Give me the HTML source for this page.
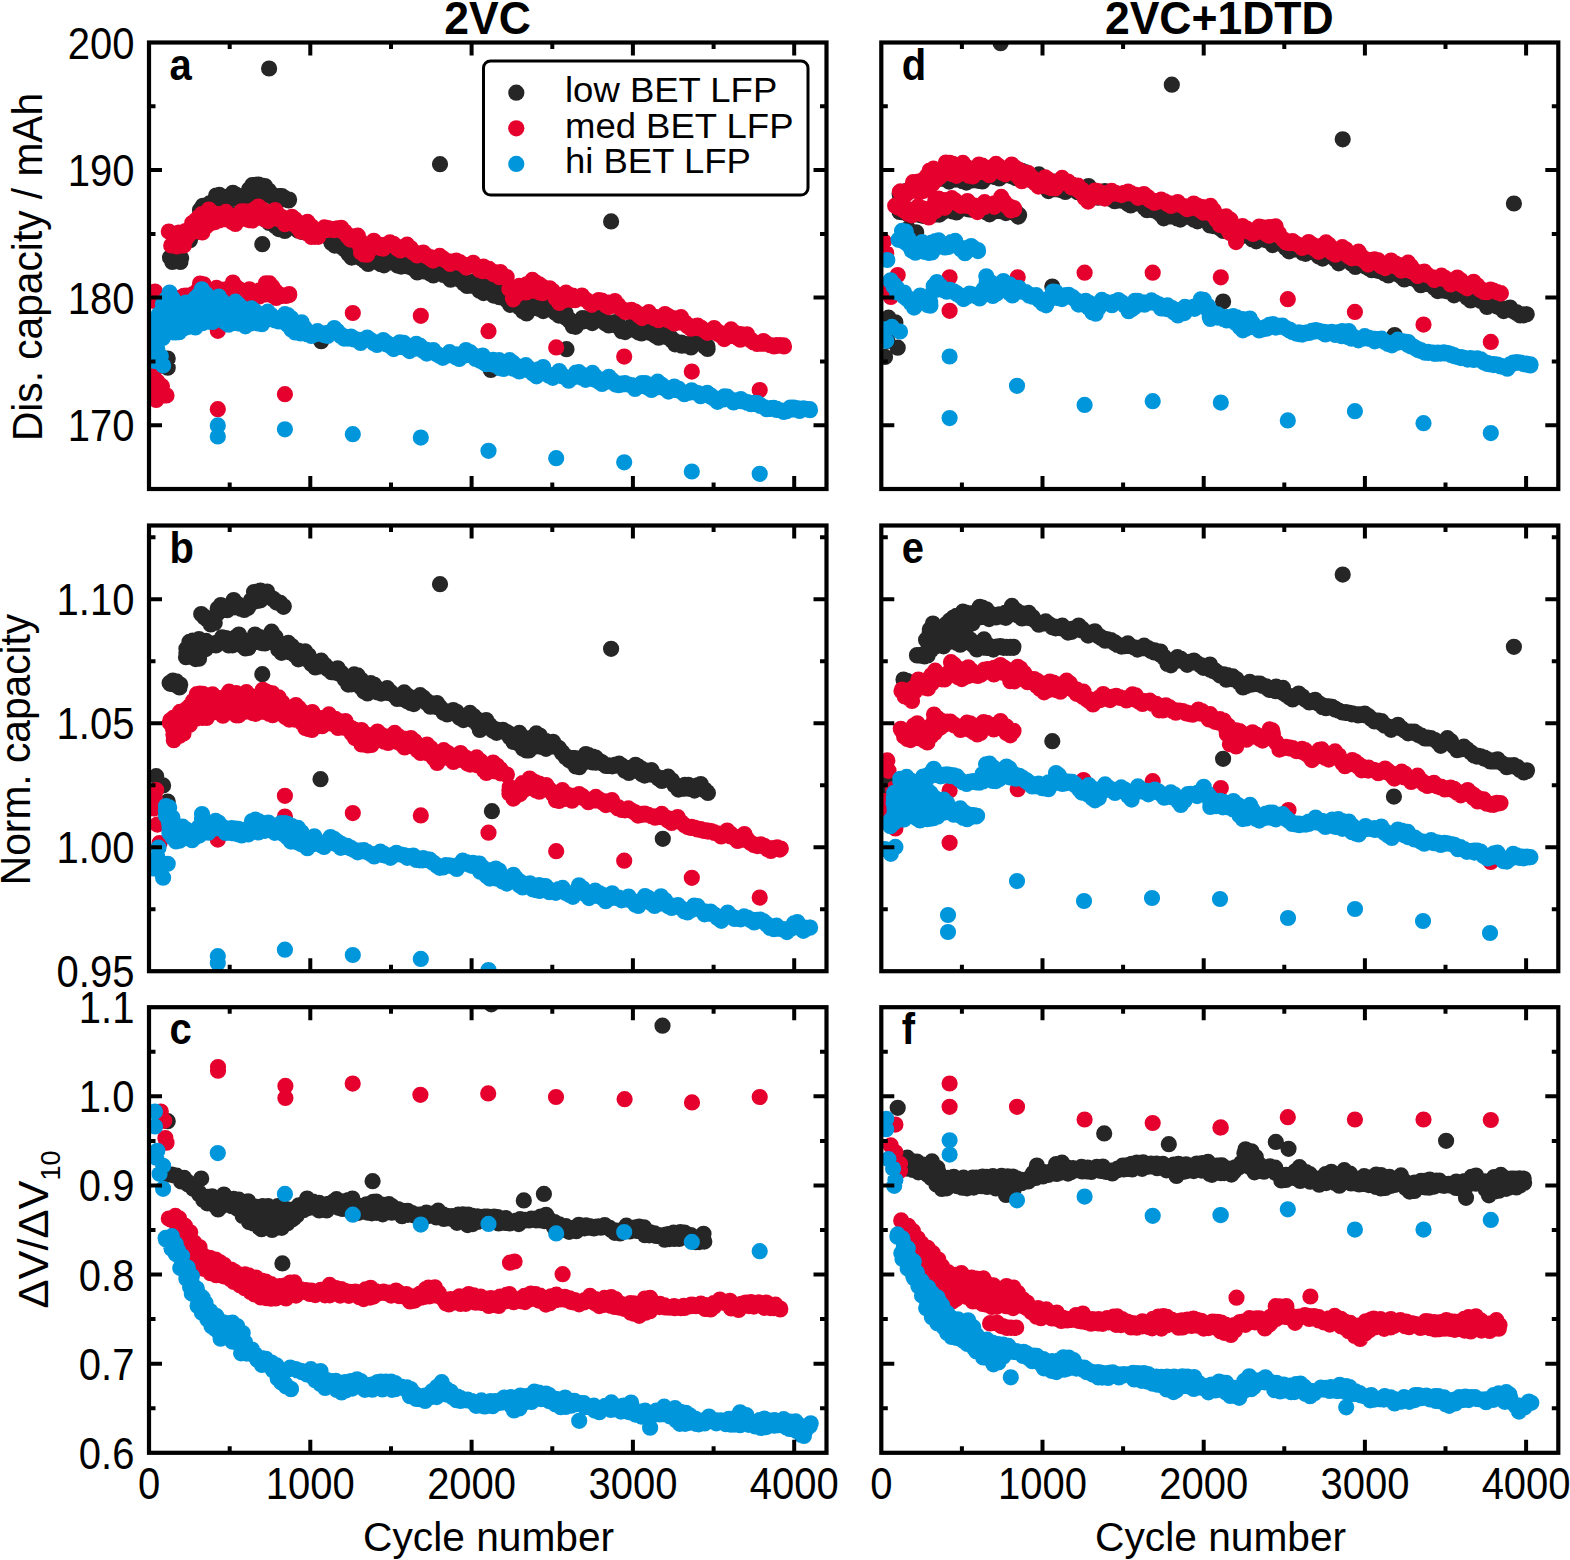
<!DOCTYPE html>
<html><head><meta charset="utf-8"><title>Cycling data</title>
<style>html,body{margin:0;padding:0;background:#fff}svg{display:block}text{font-family:"Liberation Sans", sans-serif;font-size:40px;fill:#000}.b{font-weight:bold}.tt{font-weight:bold;font-size:44.5px}.lg{font-size:36.5px}.ax{font-size:40.7px}.dv{font-size:43.4px}.sb{font-size:27px}</style></head><body>
<svg width="1570" height="1560" viewBox="0 0 1570 1560">
<rect width="1570" height="1560" fill="#fff"/>
<clipPath id="cpa"><rect x="149" y="42.5" width="677.5" height="446.5"/></clipPath>
<g clip-path="url(#cpa)" fill="none" stroke-linecap="round" stroke-width="16.2">
<path stroke="#262626" d="M167.7 358.5h.01M167.7 367.7h.01M170 257.6h.01M178.1 256.9h.01M181.1 258.3h.01M172.3 262h.01M180.4 262h.01M174.6 259.2h.01M189.2 239h.01M189.9 240.2h.01M193.3 230.7h.01M192.6 234.3h.01M196 222.5h.01M196.3 223.1h.01M200 209.9h.01M199.6 215.2h.01M202.9 205.8h.01M202.4 209.8h.01M205.7 206.2h.01M206 209.9h.01M209.5 203.4h.01M209.6 208.4h.01M212.4 202.5h.01M212.3 203.5h.01M216.1 195.6h.01M216 200.2h.01M219.3 194.8h.01M219.7 198.4h.01M222.3 197.2h.01M222.9 200.3h.01M225.9 197.6h.01M225.8 201.7h.01M228.8 196.3h.01M229.2 198.5h.01M232.9 192.8h.01M232.4 198.7h.01M235.9 194.5h.01M236.1 198.3h.01M239 197.8h.01M239.1 200h.01M242 198.8h.01M242.2 202.1h.01M245.9 199.6h.01M245.5 199.2h.01M249 189.4h.01M249.2 193.7h.01M249.4 198h.01M252.2 185.2h.01M252.4 189.4h.01M252.3 193.6h.01M252 197.9h.01M255.5 184.8h.01M256 189h.01M255.6 193.2h.01M255.3 197.4h.01M258.6 184.7h.01M258.8 189.2h.01M259 193.7h.01M259.1 198.3h.01M262.1 185.7h.01M261.9 190.3h.01M261.8 194.8h.01M265 186h.01M265.8 190.7h.01M265.2 195.5h.01M268.8 190.6h.01M268.9 195.1h.01M272.5 194.5h.01M272.6 196.9h.01M275.4 196h.01M275.8 197.9h.01M278.8 197.2h.01M278.6 196.2h.01M281.9 196.1h.01M281.7 197.4h.01M284.9 199.4h.01M285.4 198.4h.01M288.7 200.5h.01M289.1 199.5h.01M189.7 239h.01M189.3 238.9h.01M192.8 228.4h.01M192.5 232.6h.01M196.2 224.7h.01M196.2 224.8h.01M199.4 219.2h.01M199.3 220.7h.01M202.3 217.9h.01M203.3 220.5h.01M206.2 217.5h.01M205.6 217.2h.01M209.8 211.8h.01M209.6 216.6h.01M212.4 214.7h.01M213 216.9h.01M215.8 215.7h.01M215.7 217.6h.01M219.7 215.9h.01M219.6 217.5h.01M222.3 215.7h.01M222.6 214.7h.01M225.4 211.5h.01M225.7 215.3h.01M229.7 213.3h.01M229.2 215.8h.01M233 215.1h.01M232.4 215.9h.01M235.5 214.8h.01M235.5 218.1h.01M239.5 214.1h.01M239.1 213.6h.01M242 210h.01M242.6 213.4h.01M246 213h.01M245.7 213.5h.01M248.8 214h.01M249.3 216.2h.01M252.2 213.8h.01M252.8 216.6h.01M255.2 213.7h.01M255.3 213.1h.01M258.6 211.6h.01M259.2 214.6h.01M262.1 214.6h.01M262.3 216.6h.01M266 217.3h.01M265.7 220.1h.01M268.7 217.2h.01M269.2 223h.01M271.9 221.9h.01M271.9 222.5h.01M275.2 221.3h.01M275.3 226.3h.01M278.6 227.4h.01M278.7 229.1h.01M281.9 227.6h.01M282.4 229.2h.01M285.3 227.7h.01M284.8 230.9h.01M288.1 227.7h.01M288.9 227.6h.01M292.1 223.8h.01M292 227.7h.01M295.3 225.9h.01M295.5 228.4h.01M298.3 228.9h.01M298.3 230.7h.01M301.9 229.6h.01M302.1 232h.01M305.2 230.4h.01M305.1 229.8h.01M308.4 226.4h.01M308.4 230.8h.01M311.9 228.8h.01M312.1 231.8h.01M315.1 232.7h.01M315.5 234h.01M317.9 233.4h.01M318.3 236.1h.01M321.2 234.2h.01M321.8 234.1h.01M324.6 232.4h.01M325.1 235.1h.01M328.6 236.2h.01M328.7 237.8h.01M331.4 240.5h.01M331.5 243.1h.01M334.5 242.7h.01M334.7 245.6h.01M337.8 244.8h.01M337.9 244.7h.01M341.5 243.4h.01M341.4 247h.01M344.8 248.2h.01M344.7 249.5h.01M348.3 252h.01M348.5 254.1h.01M350.9 254.4h.01M351.6 257.6h.01M354.5 256.1h.01M355 256.1h.01M357.6 253.7h.01M358.3 256.9h.01M360.8 256.3h.01M360.8 258.3h.01M364.1 260.3h.01M365 261.3h.01M367.4 261.4h.01M368.2 264h.01M371.1 262.2h.01M371 262.3h.01M374.2 257.3h.01M374 261.7h.01M377.3 260.2h.01M377.4 262.1h.01M380.8 262.6h.01M380.8 264.2h.01M384.3 262.8h.01M384 265.3h.01M387.4 262.9h.01M387.1 262.7h.01M390.6 259.1h.01M390.9 262.2h.01M394.5 261.6h.01M394.1 262.9h.01M397.4 263.4h.01M397.5 265.6h.01M400.7 264.7h.01M401.1 266.6h.01M404 265.8h.01M404 264.8h.01M407 262.9h.01M407.7 266.4h.01M410.3 265.5h.01M411.1 267.4h.01M413.8 268.2h.01M413.8 269.1h.01M417 269h.01M417.3 272.5h.01M421.1 269.7h.01M420.7 270.7h.01M423.7 266.5h.01M423.8 271.4h.01M427.2 269.6h.01M427.2 270.8h.01M430 271.7h.01M430.3 273.7h.01M433.4 272.3h.01M433.3 275.5h.01M437.2 273h.01M437.1 273.1h.01M440.6 269.8h.01M440.8 272.7h.01M444.2 272.6h.01M443.4 274.9h.01M446.6 276h.01M447.4 276.8h.01M450.5 277.2h.01M450.6 279.7h.01M453.6 278.3h.01M454 278.5h.01M457 275.9h.01M457.3 278.5h.01M459.9 278.4h.01M459.7 279.7h.01M463.1 281.8h.01M463.9 283.6h.01M466.9 282.9h.01M467 286h.01M470.4 284.7h.01M470.4 284.5h.01M473.6 281.6h.01M473 285.9h.01M476.3 285.7h.01M476.5 287h.01M480.3 289.1h.01M480.5 290.2h.01M483.3 289.9h.01M483.5 293.1h.01M486.8 291h.01M486.2 290h.01M490.2 288.1h.01M489.7 291.9h.01M492.8 290.6h.01M493 292.4h.01M496.7 293.4h.01M496.3 294.2h.01M499.8 294h.01M499.4 297.2h.01M480.4 289.7h.01M479.5 290.8h.01M483.8 285.4h.01M483.2 290.3h.01M487 288.9h.01M486.3 290.9h.01M489.9 291.4h.01M490.4 292.7h.01M493.2 291.9h.01M493.6 295.6h.01M496.9 293.4h.01M496.5 292.8h.01M499.8 291.1h.01M499.8 294.8h.01M502.9 294.6h.01M502.9 296.7h.01M506.7 298.9h.01M506.7 300.3h.01M509.9 301.1h.01M510.1 304.8h.01M512.9 303.3h.01M513.5 303.5h.01M516.2 301.1h.01M516.1 305h.01M519.9 306h.01M519.4 307.5h.01M522.7 309.9h.01M522.9 311.2h.01M526.7 310h.01M526.6 313.4h.01M529.9 309.3h.01M529.9 308.4h.01M532.3 303.9h.01M533 308.1h.01M536.2 305.1h.01M535.9 307.9h.01M539 307.2h.01M539.4 309h.01M542.9 307.8h.01M543.2 311.1h.01M545.8 308.7h.01M546.1 309.2h.01M549 305.4h.01M549 309.5h.01M552.3 309.1h.01M553 310h.01M555.5 311.5h.01M555.6 312.9h.01M558.8 312.4h.01M558.9 315.6h.01M562.9 314.5h.01M562.7 314.9h.01M565.8 313.5h.01M565.7 317.8h.01M568.9 319.1h.01M569.6 321h.01M572.5 324.3h.01M572.8 326.2h.01M575.4 323.5h.01M575.6 326.8h.01M579.3 321.8h.01M579.4 322.8h.01M582.5 318h.01M582.7 321.6h.01M585.1 318.4h.01M585.5 320.9h.01M589.3 320.2h.01M589.4 321.2h.01M591.9 319.9h.01M592.2 323.1h.01M595.7 320.2h.01M595.6 319.4h.01M598.9 317h.01M598.3 320.1h.01M602.5 319.5h.01M602.2 320.7h.01M605.2 321.8h.01M605.5 323.5h.01M608.3 322.8h.01M608.7 325.5h.01M611.7 324h.01M612.1 323.7h.01M615.3 322.1h.01M615.8 325.4h.01M618.6 324.5h.01M618.3 326h.01M622.1 328.5h.01M621.7 331.2h.01M625.4 329.1h.01M625.1 332.1h.01M628.9 329.3h.01M628.2 329.8h.01M631.7 326h.01M632 329.3h.01M635.3 328.1h.01M635.1 330.3h.01M638.2 329.9h.01M638.7 332.6h.01M642 330.2h.01M641.5 333.5h.01M644.7 331.2h.01M644.7 330.8h.01M648.7 327.6h.01M647.9 332.3h.01M652.1 331h.01M651.2 333.2h.01M654.8 334.3h.01M655.3 335.8h.01M658.7 335.3h.01M658.6 337.7h.01M661.9 336.2h.01M661.7 336.2h.01M664.7 333.6h.01M664.7 336.7h.01M667.6 335.4h.01M667.9 337.5h.01M671 337.7h.01M671.9 340.6h.01M675 341h.01M675 344.3h.01M678 343.8h.01M677.9 343.7h.01M681.2 342.5h.01M681.7 345.7h.01M684.9 343.9h.01M684.9 345.1h.01M687.5 344.5h.01M688.3 346h.01M691.6 343.7h.01M691 347.4h.01M694.6 342.8h.01M694.3 343.8h.01M697.6 339.7h.01M697.3 342.9h.01M701.2 342.9h.01M701.5 343.6h.01M704.4 345.5h.01M704.9 346.7h.01M707.5 346.4h.01M707.6 348.9h.01M440 164.2h.01M262.3 244.2h.01M321.2 341.2h.01M490.8 370h.01M566.5 349.2h.01M611.1 221.4h.01M269.1 68.5h.01"/>
<path stroke="#e6002d" d="M153.8 372.3h.01M157.3 381.5h.01M153.8 390.8h.01M161.9 386.2h.01M156.2 400h.01M166.5 395.4h.01M155 291.5h.01M153.8 300.8h.01M168.8 231.5h.01M171.2 245.4h.01M176.9 246.5h.01M183.8 245.4h.01M176.4 299h.01M177.4 300h.01M179.9 298.5h.01M180 297.5h.01M183.8 295.8h.01M183.6 297h.01M186.5 295.5h.01M186.7 296h.01M190.2 295.6h.01M189.8 296.2h.01M193 294.1h.01M193.5 297.3h.01M197.2 291.1h.01M197.2 293.5h.01M200 283.6h.01M200.4 288h.01M199.8 292.3h.01M203.6 284.3h.01M203.6 288.1h.01M203.1 291.9h.01M206.4 288.6h.01M206.4 291.6h.01M206.6 294.7h.01M209.7 290h.01M210.3 293.4h.01M209.6 296.7h.01M213 291.5h.01M213.2 293.8h.01M216.5 287.9h.01M216.1 290.9h.01M216 293.9h.01M219.8 289.3h.01M219.7 293.8h.01M222.7 290.5h.01M223.2 295.5h.01M226 289.4h.01M226.4 293.2h.01M226.1 297h.01M229.9 287.6h.01M229.2 293.6h.01M232.9 282.6h.01M232.6 288.1h.01M232.9 293.5h.01M235.9 286.7h.01M236.6 290.7h.01M236.7 294.7h.01M239.5 289.3h.01M239.5 294.9h.01M242.5 290.9h.01M242.9 294h.01M242.9 297.1h.01M246.4 292.4h.01M245.9 294.6h.01M249.4 289.3h.01M249.3 293.9h.01M252.7 291.4h.01M252.4 294h.01M256 291.5h.01M255.6 294.7h.01M259.6 290.3h.01M259.3 293.4h.01M259.3 296.4h.01M262.4 289.1h.01M262.3 293.9h.01M265.9 283.3h.01M266.3 288.9h.01M265.7 294.4h.01M269.6 283.4h.01M269.2 288.8h.01M269.4 294.2h.01M272.3 286.7h.01M272.5 291.1h.01M272.3 295.6h.01M275.8 291.4h.01M276.2 294.7h.01M276.2 298h.01M279.6 295.9h.01M278.8 294.9h.01M282.6 295.4h.01M282.7 295.8h.01M286 296h.01M286.2 295h.01M289.2 295.1h.01M289.2 294.1h.01M178.9 232.6h.01M179.1 233.8h.01M182.2 232.5h.01M182.3 236.8h.01M185.4 231.1h.01M185.9 234.8h.01M186.1 238.4h.01M188.7 230.6h.01M189.2 234.6h.01M192.2 223.1h.01M192.4 227.6h.01M192.5 232h.01M195.7 220.3h.01M195.7 225.8h.01M195.3 231.3h.01M198.8 217.1h.01M199.3 221.8h.01M199.3 226.6h.01M199 231.4h.01M201.9 214.1h.01M202 218.7h.01M202.3 223.3h.01M201.9 227.9h.01M202.3 232.4h.01M205.8 213.7h.01M205.2 218h.01M205.9 222.3h.01M205.9 226.7h.01M208.9 209.5h.01M208.8 214.5h.01M209.4 219.6h.01M208.6 224.6h.01M212.5 212.7h.01M212.5 217h.01M211.9 221.2h.01M216 214.4h.01M215.9 218.3h.01M215.2 222.1h.01M218.4 214.1h.01M218.7 217.3h.01M219.1 220.5h.01M221.9 215.3h.01M222.4 219.2h.01M225.9 211.9h.01M225.1 215.6h.01M225.2 219.2h.01M228.3 214.2h.01M228.4 219.1h.01M232.2 218.6h.01M232.4 222.3h.01M234.9 219.5h.01M235.4 224h.01M239 218.2h.01M238.7 219.5h.01M241.5 211.3h.01M242.4 215h.01M242.1 218.7h.01M245 211.4h.01M245.7 215.2h.01M245.3 219h.01M248.5 211.6h.01M248.2 215.9h.01M248.8 220.1h.01M251.6 210.9h.01M252 215.7h.01M252.3 220.5h.01M254.9 209h.01M254.6 212.8h.01M254.7 216.5h.01M258.4 206.6h.01M258.4 212.1h.01M258.8 217.7h.01M261.9 209.1h.01M261.3 213.4h.01M261.2 217.7h.01M264.9 211.6h.01M264.8 215.6h.01M265.1 219.5h.01M268.5 212.2h.01M268.3 216.5h.01M268 220.9h.01M271.3 213.9h.01M271.2 218.1h.01M275.2 210h.01M274.8 213.9h.01M274.7 217.9h.01M278.3 214.6h.01M278.1 219.1h.01M282 217h.01M281.8 220.7h.01M284.4 218.5h.01M284.9 224.2h.01M287.7 219.4h.01M288.4 220.7h.01M291.9 216.8h.01M291.1 222.4h.01M294.7 219.1h.01M294.9 224.9h.01M297.8 221.9h.01M297.8 227.6h.01M301.6 223.5h.01M301.5 227.5h.01M300.8 231.5h.01M304.6 224.2h.01M304.9 229.6h.01M307.5 221.9h.01M307.7 227.8h.01M307.5 233.7h.01M311.4 226.3h.01M311.6 231.6h.01M311.4 236.9h.01M314.5 229.7h.01M314.8 233.3h.01M314.6 236.8h.01M318.3 230.5h.01M317.5 233.7h.01M318.2 236.8h.01M320.9 231.3h.01M321.4 231.5h.01M324.3 227.4h.01M324.8 230.2h.01M328.1 228.2h.01M327.9 229.9h.01M331.5 229.5h.01M331 229.6h.01M334.7 228.9h.01M334.3 230.2h.01M337.4 229.4h.01M337.3 228.4h.01M341.3 227.8h.01M340.6 230.2h.01M344.7 231.6h.01M344.1 232.6h.01M347.1 234.9h.01M347.7 236.5h.01M351.1 236h.01M350.4 239.6h.01M354.4 237.6h.01M354.5 238.9h.01M357.8 235.7h.01M357.8 239h.01M357.9 242.4h.01M360.3 241.1h.01M360.3 246.9h.01M361.1 252.6h.01M364.4 244.4h.01M364.2 249.4h.01M363.8 254.4h.01M367.6 244.6h.01M367 249.7h.01M367.1 254.7h.01M370.4 244.7h.01M370.4 249.4h.01M373.8 240.8h.01M374.4 244h.01M373.9 247.3h.01M376.8 243.5h.01M377.1 246.4h.01M380.4 244.8h.01M380.7 248.2h.01M384.2 245.5h.01M383.4 248.6h.01M386.6 245.4h.01M386.8 244.4h.01M389.9 242.4h.01M390.4 244.7h.01M393.4 243.8h.01M393.7 245.6h.01M396.8 246.8h.01M397.5 248.7h.01M400.5 247.4h.01M400.3 250.5h.01M403.2 247.9h.01M403.9 248h.01M407.1 244.7h.01M406.8 247.9h.01M410.6 248.1h.01M409.8 250.2h.01M413.2 251.7h.01M413.3 252.8h.01M416.7 253.2h.01M417.2 255.4h.01M420.2 254.6h.01M420.4 254.4h.01M423.3 252.5h.01M423.3 254.8h.01M426.9 255.7h.01M427 256.5h.01M430.3 257.2h.01M430.1 258.5h.01M433.7 257.8h.01M433.1 260.6h.01M436.8 258.5h.01M437 258h.01M439.7 255.9h.01M439.8 258.5h.01M443.1 258.4h.01M442.9 259h.01M446.1 260.8h.01M447 261.3h.01M450.3 261.6h.01M450.1 263.9h.01M452.8 262.4h.01M453.3 261.4h.01M456.3 260.7h.01M456 262.2h.01M459.9 262.2h.01M459.7 263.1h.01M462.7 264.4h.01M463.1 264.5h.01M466.7 265h.01M466.3 267.6h.01M469.6 265.6h.01M469.4 264.6h.01M473.2 262.8h.01M473.1 265.3h.01M476.4 266.7h.01M476.2 266.5h.01M479.1 268.7h.01M479.5 270h.01M483 269.9h.01M482.6 271.2h.01M486.3 271.1h.01M486 270.1h.01M489.1 268.9h.01M489.6 271.3h.01M492.7 272.7h.01M493.2 272.5h.01M495.7 274.6h.01M496.3 275h.01M498.9 275.7h.01M499.4 277.2h.01M479.5 269.5h.01M480.3 269.2h.01M483.5 266.7h.01M483.3 269.6h.01M486.6 270.1h.01M487 269.9h.01M490 271.6h.01M489.7 271.4h.01M492.8 272.3h.01M493.6 274.2h.01M496.6 273.4h.01M496.1 272.4h.01M500.3 272h.01M500.3 273.7h.01M503.1 275.9h.01M502.8 274.9h.01M506.7 277.1h.01M506.1 276.8h.01M510 289h.01M509.3 289h.01M513.3 299.3h.01M512.9 298.3h.01M516.4 289.4h.01M516.6 295.1h.01M519.3 285.9h.01M519.8 289.4h.01M519.8 292.8h.01M522.9 286h.01M523.2 291.8h.01M526.4 284.4h.01M526 288.4h.01M526.2 292.4h.01M529.9 284.1h.01M529.2 289.7h.01M532.4 279.9h.01M532.9 285.2h.01M532.6 290.6h.01M535.9 282.6h.01M536.2 286.4h.01M536.3 290.1h.01M539.2 284.3h.01M539.5 288.4h.01M539.5 292.5h.01M542.7 286.8h.01M543 290h.01M542.4 293.2h.01M546.1 289h.01M546.2 290.2h.01M549.7 288.3h.01M549.3 289.9h.01M552.6 290.8h.01M552.3 292.5h.01M556.1 295.1h.01M555.5 298.3h.01M559.5 295.7h.01M559.2 299.3h.01M559.3 303h.01M562.7 294.9h.01M562.2 300.6h.01M566 292.7h.01M565.5 296.4h.01M565.6 300h.01M568.9 294.6h.01M569.1 297.9h.01M572.6 295.6h.01M572.1 300.1h.01M575.2 297.2h.01M575.2 300.2h.01M579.3 298.3h.01M578.6 297.3h.01M581.9 295.5h.01M582 298.5h.01M585.2 299.4h.01M585.8 299.6h.01M589 301.8h.01M589.3 302.9h.01M592 302.5h.01M591.8 304.8h.01M595.5 302.6h.01M595.3 302.1h.01M598.6 300.1h.01M598.5 302h.01M601.8 300.6h.01M602.3 302.5h.01M605 302.9h.01M605.9 305.6h.01M608.6 302.5h.01M608.8 307.1h.01M611.5 304.3h.01M612.3 304.8h.01M614.9 301h.01M615.3 306h.01M618.2 305h.01M618.8 306.9h.01M621.5 308.7h.01M621.4 308.9h.01M624.9 310.1h.01M625.4 312h.01M628.1 311.3h.01M628.9 310.3h.01M631.4 309.8h.01M631.6 311.7h.01M634.8 311.3h.01M634.6 312.2h.01M638.5 314.2h.01M638.8 315.6h.01M642 314.8h.01M642 318.1h.01M644.9 315.3h.01M644.6 315.7h.01M648.8 312.2h.01M648.5 315.2h.01M651.6 315.5h.01M651.2 316.8h.01M655 316.8h.01M654.8 318.4h.01M658.7 317.7h.01M658.6 320.2h.01M661.5 318.2h.01M661.3 317.8h.01M665 314.1h.01M665.2 318.3h.01M668.3 316.1h.01M667.7 320.1h.01M671.5 318.9h.01M671.4 321.7h.01M675.1 318.3h.01M674.3 323.6h.01M678.4 320.1h.01M678.2 322.3h.01M681.1 317.2h.01M681.4 322.7h.01M684.7 322.3h.01M684.4 323.6h.01M687.9 325.1h.01M687.6 326.2h.01M691.7 326.4h.01M690.9 328.7h.01M694.8 327.8h.01M694.5 326.8h.01M697.6 325.6h.01M697.6 328.1h.01M701.4 327.9h.01M701.2 328.4h.01M703.9 330.3h.01M704.1 330.3h.01M708.2 331.1h.01M707.4 332.8h.01M711.3 331.9h.01M710.7 331.4h.01M714.1 328h.01M714.1 332.2h.01M717.9 331.6h.01M717.9 333.9h.01M721.3 333.3h.01M721.4 335.9h.01M724.5 334.2h.01M724.2 339.1h.01M727.5 334h.01M727.5 335.1h.01M731.1 329.4h.01M731 332.7h.01M731.3 335.9h.01M734 332.1h.01M734.3 336.3h.01M736.9 335.2h.01M737.3 337.8h.01M740.6 334.2h.01M740.3 339.7h.01M743.8 335.3h.01M744.3 337.4h.01M747 334.3h.01M747 338.6h.01M750.4 340.3h.01M750.7 339.5h.01M754.3 342.4h.01M753.6 342.4h.01M757.6 343.2h.01M757.1 343.9h.01M760.3 343.7h.01M760 342.7h.01M763.4 341h.01M763.5 343.7h.01M767.2 343.9h.01M766.8 343.7h.01M770 345.1h.01M770.3 345.2h.01M773.3 345.5h.01M774 346.5h.01M776.9 345.9h.01M776.5 345.1h.01M780.5 345.2h.01M780.3 345.3h.01M784 346.4h.01M783.7 345.4h.01M217.8 330.8h.01M352.8 313h.01M420.8 315.8h.01M488.5 331.2h.01M284.9 394.2h.01M217.8 409.2h.01M556.2 347.4h.01M624.2 356.6h.01M691.8 371.6h.01M759.7 390.1h.01"/>
<path stroke="#0096dc" d="M151.5 326.2h.01M153.8 337.7h.01M157.3 349.2h.01M163.1 365.4h.01M160.8 356.2h.01M153.8 360.8h.01M152.5 325h.01M152.4 330h.01M152.3 335h.01M153.1 340h.01M156.3 318.6h.01M155.9 323.6h.01M155.7 328.5h.01M156.2 333.5h.01M155.7 338.4h.01M158.9 314.2h.01M159.3 320.1h.01M158.8 326h.01M159.7 331.9h.01M159.1 337.8h.01M162.9 304.2h.01M162.6 309.8h.01M162.2 315.4h.01M162.4 321h.01M162.1 326.6h.01M162.3 332.3h.01M162.8 337.9h.01M166 299.4h.01M165.9 305.1h.01M165.8 310.8h.01M165.8 316.5h.01M165.8 322.2h.01M165.8 327.9h.01M165.8 333.6h.01M169.6 292.5h.01M169.2 298.2h.01M169.6 303.8h.01M169.5 309.5h.01M168.8 315.1h.01M169.5 320.8h.01M168.8 326.5h.01M169.3 332.1h.01M172.8 298.7h.01M173 304.3h.01M172.9 309.9h.01M172.4 315.5h.01M172 321.1h.01M172.1 326.7h.01M173 332.3h.01M175.4 306.5h.01M175.7 311.7h.01M175.6 316.9h.01M176 322h.01M175.5 327.2h.01M175.7 332.4h.01M178.7 308.6h.01M179 314.5h.01M178.8 320.4h.01M178.6 326.3h.01M179.2 332.2h.01M182.2 307.5h.01M182 313h.01M182.3 318.4h.01M182.4 323.9h.01M182 329.4h.01M186 302.5h.01M186.1 307.5h.01M185.8 312.5h.01M186 317.5h.01M185.3 322.6h.01M185.9 327.6h.01M188.8 302.8h.01M188.7 307.6h.01M188.7 312.4h.01M188.9 317.2h.01M188.9 322h.01M188.7 326.8h.01M191.9 301.8h.01M192.4 306.8h.01M192.2 311.8h.01M192.3 316.7h.01M192.3 321.7h.01M192.2 326.6h.01M195.4 298.2h.01M195.5 304h.01M195.1 309.9h.01M195.5 315.7h.01M195.4 321.6h.01M195.3 327.4h.01M198.6 294.9h.01M198.6 300.7h.01M199 306.6h.01M199.2 312.4h.01M199.3 318.3h.01M199.1 324.1h.01M201.8 289.3h.01M202.4 295h.01M202.3 300.6h.01M201.9 306.2h.01M202 311.9h.01M201.7 317.5h.01M202.4 323.2h.01M205.9 294.1h.01M205.5 299.6h.01M205.3 305.1h.01M205.3 310.5h.01M205.6 316h.01M205.9 321.5h.01M209.1 301.5h.01M208.4 306.5h.01M209 311.6h.01M208.5 316.6h.01M208.9 321.7h.01M212.3 301.3h.01M212.2 306.5h.01M212.5 311.6h.01M211.9 316.8h.01M212.5 321.9h.01M215.2 300.9h.01M215.1 306.6h.01M215.7 312.2h.01M215.8 317.9h.01M218.8 296.6h.01M219.1 301.5h.01M218.5 306.4h.01M218.3 311.4h.01M218.9 316.3h.01M222.3 301.2h.01M221.6 307.1h.01M221.7 313h.01M221.6 319h.01M225.1 306.1h.01M225.3 311.4h.01M225.7 316.8h.01M224.8 322.1h.01M228.4 309h.01M228.9 314.2h.01M228.7 319.5h.01M228.6 324.7h.01M231.7 307.4h.01M231.5 312.6h.01M231.6 317.7h.01M231.7 322.8h.01M235.5 301.7h.01M234.8 307h.01M234.8 312.3h.01M235.6 317.6h.01M235.2 322.9h.01M238.7 304.7h.01M238.5 309.3h.01M238.4 314h.01M238.9 318.6h.01M238 323.3h.01M241.9 307.7h.01M241.9 313.1h.01M241.3 318.6h.01M242.3 324.1h.01M245 310h.01M245.4 315.4h.01M245.3 320.9h.01M245.4 326.3h.01M248.2 309.6h.01M248.3 313.8h.01M248.5 318.1h.01M248.2 322.4h.01M251.5 308.4h.01M252.1 313.4h.01M251.9 318.3h.01M251.2 323.3h.01M254.8 310.9h.01M254.7 316.5h.01M255.2 322.2h.01M258.2 313.6h.01M258.8 318.6h.01M258.2 323.5h.01M262.1 315.6h.01M261.1 319.9h.01M262 324.2h.01M265 314.1h.01M265 319.1h.01M267.8 311.7h.01M267.8 315.5h.01M267.7 319.2h.01M271.1 315h.01M271.3 319.2h.01M275.3 318.6h.01M275.2 320.5h.01M278.2 319.1h.01M278.5 321.4h.01M281.8 318.8h.01M281.8 320.6h.01M284.9 314.2h.01M284.9 318.3h.01M284.5 322.5h.01M287.7 315.1h.01M287.9 320.2h.01M288 325.2h.01M291.1 318h.01M291.3 323.8h.01M291.6 329.7h.01M294.3 321.8h.01M294.6 327.1h.01M295.1 332.4h.01M297.6 323.1h.01M298.3 327.5h.01M297.7 331.8h.01M301.6 322.3h.01M300.9 327.9h.01M300.7 333.5h.01M304.6 327.7h.01M304.3 333.4h.01M308.1 331.6h.01M307.6 334.5h.01M311.6 333.9h.01M311.3 335.9h.01M314.6 334.6h.01M314 333.6h.01M317.5 331.2h.01M318 333.7h.01M321.4 333.2h.01M321.5 333.5h.01M324.4 333.3h.01M324.5 335.2h.01M327.5 332.9h.01M327.6 335.9h.01M331.4 332.5h.01M330.5 332.8h.01M334.3 328h.01M333.8 331.9h.01M337.3 330.9h.01M337.3 332.1h.01M340.9 334.6h.01M340.9 336.2h.01M344.6 336.6h.01M344 338.6h.01M347.7 338.6h.01M347.3 337.6h.01M351 336.5h.01M350.5 338.1h.01M353.7 339.4h.01M353.8 338.4h.01M357.7 339.7h.01M356.8 339.7h.01M360.4 340.1h.01M360.6 343h.01M363.8 340.4h.01M364.2 339.8h.01M367.2 337.5h.01M366.7 339.7h.01M370 339.5h.01M370.1 340h.01M373.8 341.8h.01M373.9 343.2h.01M376.8 342.5h.01M377 344.9h.01M380.8 343.1h.01M380.5 343.1h.01M383.3 340h.01M383.6 343h.01M386.8 342.8h.01M386.7 344.4h.01M390.1 345.5h.01M390.7 346.5h.01M393.7 345.1h.01M393.6 349.1h.01M397.3 346.3h.01M396.8 346h.01M399.8 342.3h.01M400.3 346.9h.01M403.7 342.8h.01M403 346.4h.01M406.8 346.4h.01M407.2 349.1h.01M409.6 346.1h.01M409.6 351.1h.01M413.5 347.3h.01M413.8 348.9h.01M416.3 343.8h.01M416.4 348.2h.01M420 345.7h.01M420 348.8h.01M423.7 348.9h.01M423.3 351.1h.01M426.9 349.9h.01M426.7 353.6h.01M429.5 351.7h.01M429.6 350.7h.01M433.3 350h.01M433.6 352.3h.01M436.2 354h.01M436.6 353.6h.01M439.7 356h.01M440.1 355.8h.01M442.8 356h.01M442.8 357.8h.01M446.1 355.8h.01M445.9 355.6h.01M449.6 352.2h.01M449.4 355.1h.01M452.6 354.1h.01M453.2 355h.01M456.2 354.3h.01M456.2 357.5h.01M460 354.6h.01M459.2 359h.01M462.4 354.8h.01M463.3 355.9h.01M466 350h.01M466.6 355.2h.01M470 352h.01M469.4 355.1h.01M472.7 354.6h.01M472.8 355.6h.01M475.9 356.1h.01M475.6 359h.01M479 357.6h.01M479.1 356.6h.01M482.7 355.6h.01M482.7 358.1h.01M485.9 360.5h.01M485.7 359.6h.01M489.4 361.5h.01M489.1 362.1h.01M493 362.3h.01M492.8 364.6h.01M496 363.1h.01M495.8 362.1h.01M499.1 360.2h.01M499.2 364.1h.01M480 360.7h.01M480 359.7h.01M483.2 361.4h.01M483.5 362.5h.01M486.5 362.1h.01M486.2 364.2h.01M489.7 362.9h.01M490.1 363.3h.01M493.1 359.8h.01M493.2 364.1h.01M496.3 361.5h.01M496.2 365.1h.01M499.6 364.5h.01M499.7 368.1h.01M503.5 364.9h.01M503.5 369h.01M505.9 364.7h.01M506.6 367.1h.01M509.6 360.2h.01M509.9 363.5h.01M509.9 366.8h.01M512.9 362.7h.01M513.1 368.7h.01M516.7 365.8h.01M516.5 370h.01M519.1 367h.01M519.3 371.5h.01M522.8 368.4h.01M522.4 369.2h.01M525.9 365.2h.01M526.5 369.8h.01M529.3 368.4h.01M529.4 370.4h.01M532.3 372.7h.01M533.1 373.7h.01M535.6 373.4h.01M536.5 376.3h.01M539.1 369.1h.01M539 372.6h.01M543.1 367h.01M542.9 372.6h.01M545.9 372.9h.01M546.2 373.7h.01M548.9 375.7h.01M549.7 375.1h.01M552.8 375.5h.01M552.8 377.8h.01M555.9 375.3h.01M555.5 374.3h.01M559.2 371.1h.01M559.6 374.3h.01M562 375h.01M562.7 376.4h.01M565.8 377.5h.01M566.3 378.2h.01M568.8 378.8h.01M568.7 380.7h.01M572.1 378h.01M572.2 377.8h.01M575.9 372.7h.01M575.4 376.8h.01M578.9 372.2h.01M579.4 375.5h.01M582.7 374.9h.01M581.9 377.8h.01M585.9 375.7h.01M585.6 379.8h.01M589.1 377.1h.01M589 377.5h.01M592.5 372.9h.01M591.8 378.8h.01M595.2 376.3h.01M595.1 379.7h.01M599 379.1h.01M598.7 381.8h.01M602.1 380.1h.01M602 383.9h.01M604.9 380.5h.01M605.9 381.2h.01M608.9 376.8h.01M609.2 381.5h.01M612 379.9h.01M611.9 381.9h.01M614.8 383h.01M615.7 384.6h.01M619 383.8h.01M618.8 385.2h.01M621.5 384.6h.01M621.4 383.6h.01M625 383h.01M624.9 384.2h.01M628.9 384.5h.01M628.2 384.6h.01M632 386h.01M631.6 385.2h.01M634.9 386.4h.01M635 389h.01M638.7 386.5h.01M638.1 385.5h.01M641.8 383.1h.01M642 385.9h.01M645.4 383.1h.01M645 385h.01M648.1 384.4h.01M648.4 388.1h.01M651.3 385.6h.01M651.5 390h.01M654.4 385.5h.01M654.8 386.4h.01M657.7 381.7h.01M658.5 387.1h.01M661.4 384.6h.01M661.3 386h.01M664.7 387.2h.01M664.6 388.6h.01M668.4 388h.01M668.5 391.6h.01M671.3 389.3h.01M671.5 389.2h.01M674.3 386.6h.01M674.5 389.8h.01M678.4 388.6h.01M678.4 390.4h.01M681.4 391.7h.01M681.6 391.9h.01M684.7 392.4h.01M684.4 394.2h.01M687.9 393h.01M688 392h.01M691.6 390.3h.01M690.7 392h.01M694.4 392.3h.01M694.1 392.5h.01M697.9 393h.01M697.7 393.4h.01M701 394h.01M700.7 396.2h.01M704.4 395h.01M704 395.1h.01M707.3 392.9h.01M707.7 395h.01M711.1 395.7h.01M710.7 396.8h.01M714.3 398.1h.01M714.4 398.9h.01M717.2 399.2h.01M717.5 401.8h.01M721.1 399.7h.01M721.2 398.7h.01M724.4 396.3h.01M723.8 399.4h.01M727.2 396.7h.01M728 397.6h.01M730.4 399.3h.01M731.1 399.9h.01M734 400.3h.01M733.6 402.5h.01M737.2 401.2h.01M737.6 400.2h.01M740.8 399.1h.01M741.1 401.2h.01M744.4 401.3h.01M743.7 401.6h.01M747.6 402.9h.01M747.5 402.1h.01M750.5 403.2h.01M750.8 404.2h.01M753.4 403.9h.01M754 402.9h.01M757.5 403.2h.01M756.8 403.9h.01M760.3 405.9h.01M760.2 404.9h.01M763.9 407h.01M763.4 407h.01M767.4 408h.01M766.8 409.2h.01M770.6 409h.01M770.3 408h.01M773.7 407.9h.01M773.9 408.5h.01M776.5 409.9h.01M776.8 408.9h.01M780.7 410.3h.01M780.6 410.5h.01M783.9 410.8h.01M783.8 412h.01M786.6 411.2h.01M787.2 410.2h.01M790.3 407.6h.01M789.8 410h.01M793.9 407.5h.01M793.6 409.1h.01M796.7 408.1h.01M796.8 410h.01M800 408.8h.01M799.6 410.9h.01M802.9 409.4h.01M803.4 408.4h.01M806.3 408.9h.01M806.9 409.1h.01M810 410.2h.01M809.8 409.2h.01M217.8 425.4h.01M217.8 436.5h.01M284.9 429.3h.01M352.8 434.2h.01M420.8 437.6h.01M488.5 450.8h.01M556.2 458.2h.01M624.2 462.3h.01M691.8 471.5h.01M759.7 473.8h.01"/>
</g>
<path d="M229.7 42.5v6.5M229.7 489v-6.5M310.3 42.5v13M310.3 489v-13M391 42.5v6.5M391 489v-6.5M471.6 42.5v13M471.6 489v-13M552.3 42.5v6.5M552.3 489v-6.5M632.9 42.5v13M632.9 489v-13M713.6 42.5v6.5M713.6 489v-6.5M794.2 42.5v13M794.2 489v-13M149 170.1h13M826.5 170.1h-13M149 297.6h13M826.5 297.6h-13M149 425.2h13M826.5 425.2h-13M149 106.3h6.5M826.5 106.3h-6.5M149 233.9h6.5M826.5 233.9h-6.5M149 361.4h6.5M826.5 361.4h-6.5" stroke="#000" stroke-width="4" fill="none"/>
<rect x="149" y="42.5" width="677.5" height="446.5" fill="none" stroke="#000" stroke-width="4.2"/>
<text transform="translate(134.4,58.5) scale(1,1.1)" text-anchor="end">200</text>
<text transform="translate(134.4,186.1) scale(1,1.1)" text-anchor="end">190</text>
<text transform="translate(134.4,313.6) scale(1,1.1)" text-anchor="end">180</text>
<text transform="translate(134.4,441.2) scale(1,1.1)" text-anchor="end">170</text>
<text transform="translate(169.5,79.5) scale(1,1.1)" class="b">a</text>
<clipPath id="cpb"><rect x="149" y="525.5" width="677.5" height="445.7"/></clipPath>
<g clip-path="url(#cpb)" fill="none" stroke-linecap="round" stroke-width="16.2">
<path stroke="#262626" d="M156.2 776.2h.01M163.1 785.4h.01M167.7 801.5h.01M169.6 682.9h.01M170.2 683.8h.01M172.9 680.5h.01M173 684.2h.01M176.2 681.3h.01M176.9 685.7h.01M180.2 684.5h.01M179.5 687.4h.01M201.4 614.3h.01M201.2 614.1h.01M204.5 617.5h.01M204.4 616.5h.01M207.6 619.9h.01M208.2 619.9h.01M210.8 622.3h.01M210.8 624.5h.01M213.9 622.9h.01M214.7 622.9h.01M217.7 608.5h.01M217.5 613.6h.01M220.8 605h.01M220.8 608h.01M224.7 606.5h.01M224.1 608.7h.01M227.1 606.7h.01M227.2 610.2h.01M230.7 604.4h.01M231.1 606.4h.01M233.7 600.1h.01M234.1 603.7h.01M234.6 607.3h.01M237 603.5h.01M237.1 607h.01M240.5 606.8h.01M240.7 608.8h.01M244.4 607.4h.01M244.2 609.9h.01M247.8 608h.01M247.5 607h.01M251 600.2h.01M250.5 603.9h.01M254 592h.01M254.3 596.6h.01M254.1 601.3h.01M257.1 591.5h.01M257.5 596.2h.01M257.4 601h.01M260.4 590.5h.01M260.1 595.4h.01M260.5 600.3h.01M263.7 593.4h.01M263.8 595.6h.01M267.1 591.5h.01M266.7 595.6h.01M270.9 597.7h.01M270 596.8h.01M273.6 599.8h.01M273.3 598.8h.01M277.3 601.8h.01M276.6 602.6h.01M280.4 603.9h.01M280.4 602.9h.01M283.8 606.3h.01M283.5 606.8h.01M186.4 648.8h.01M186.4 653h.01M186 657.2h.01M189.4 641.9h.01M189.2 646.4h.01M189.5 650.9h.01M189.9 655.4h.01M192.7 640.7h.01M192.9 646.2h.01M193 651.6h.01M192.6 657.1h.01M196.3 640.3h.01M195.6 645h.01M195.6 649.7h.01M195.7 654.4h.01M195.6 659.1h.01M199 639.1h.01M199.8 644h.01M199.2 648.9h.01M199 653.8h.01M199 658.7h.01M202.3 642.3h.01M202.2 646.4h.01M202.9 650.5h.01M206 640.9h.01M206.1 645h.01M205.8 649.1h.01M209.1 645.6h.01M209.7 644.7h.01M212.1 644.4h.01M212.7 644.9h.01M215.4 643h.01M215.9 645.5h.01M219.6 641.7h.01M219.3 641.3h.01M222.2 637.3h.01M222.4 641h.01M226 638.2h.01M225.9 641.7h.01M228.8 638.9h.01M229.1 642.1h.01M228.7 645.4h.01M232.1 639h.01M232.6 642.2h.01M232.7 645.3h.01M235.6 637.2h.01M236 640.7h.01M235.3 644.1h.01M238.9 634.6h.01M239 639.2h.01M239.3 643.8h.01M242.1 639h.01M242.5 642.6h.01M242.6 646.1h.01M246 643.1h.01M245.4 648.5h.01M249.3 642h.01M248.4 647.9h.01M252.4 640.3h.01M251.8 642.9h.01M255 634.6h.01M255.3 638.3h.01M255.9 642h.01M259.2 636.9h.01M258.3 640h.01M262.2 640.2h.01M261.6 643.1h.01M265.3 639.8h.01M265 643.4h.01M268.5 638.8h.01M269 640.4h.01M271.6 631.7h.01M271.9 636.4h.01M271.6 641.1h.01M275.5 636.9h.01M275.3 640.3h.01M274.9 643.7h.01M279 642.5h.01M278.4 646h.01M278.3 649.4h.01M282.1 646.7h.01M281.6 649.8h.01M281.5 652.8h.01M284.7 646.7h.01M285.2 651h.01M288.3 642.9h.01M288 647.5h.01M288.6 652.1h.01M291.8 646.1h.01M291.9 649.2h.01M292.2 652.3h.01M295 650.8h.01M294.9 655.2h.01M298.2 650.7h.01M298.2 655h.01M298.3 659.3h.01M301.2 654.6h.01M301.8 658.2h.01M305.1 651.3h.01M304.8 654.7h.01M304.7 658h.01M308.6 655.3h.01M308.5 660.4h.01M311.7 660.2h.01M311.4 664.1h.01M314.7 662.3h.01M315.3 667.5h.01M318.5 665.9h.01M318.2 666.7h.01M321.2 660.7h.01M321.6 665.3h.01M325 665.1h.01M324.6 665.5h.01M328.2 668.1h.01M327.9 669.2h.01M331.1 669.8h.01M331.5 672.2h.01M334.6 671.5h.01M334.9 672.4h.01M337.7 668.3h.01M337.6 673.2h.01M341.3 672.8h.01M341.3 675h.01M344.2 676.3h.01M344.9 679.6h.01M348.2 677.1h.01M348.2 680.8h.01M348.2 684.6h.01M351.5 679.9h.01M351.5 684.3h.01M354.2 674.4h.01M354.1 678.6h.01M354.3 682.8h.01M357.7 675.4h.01M357.3 680h.01M361.2 679.7h.01M361 683.7h.01M361 687.6h.01M364 685h.01M364.5 688.2h.01M364.2 691.5h.01M367.5 688h.01M367.5 693.4h.01M370.7 683.1h.01M371 687.3h.01M370.5 691.4h.01M374 684.5h.01M374.1 689.7h.01M377.1 688h.01M377.7 692.5h.01M380.8 689.9h.01M381.1 693.6h.01M383.7 690.9h.01M384.1 691.1h.01M387.2 688.2h.01M387.4 692.9h.01M390.6 691.9h.01M390.6 692.9h.01M393.7 694.5h.01M394.5 695.7h.01M397.5 696.1h.01M397.2 699h.01M400.5 697.4h.01M400.7 698.2h.01M404.2 692.4h.01M403.5 696h.01M404 699.5h.01M407.6 695.6h.01M407.2 701.3h.01M410.5 697.6h.01M410.5 703.1h.01M414 698h.01M414.1 701h.01M413.8 704.1h.01M417.2 699.9h.01M417.4 700.9h.01M420.2 695.2h.01M420 700.2h.01M423.3 697.5h.01M424 700h.01M427.2 701.2h.01M427.3 703.5h.01M430.5 703.1h.01M430.3 706.7h.01M434 703.5h.01M434 704.3h.01M437 703h.01M436.5 707.1h.01M440 706.9h.01M440.1 708.4h.01M443.6 710.3h.01M443.6 712.8h.01M446.7 711.5h.01M447.2 714.5h.01M449.9 712.5h.01M449.9 711.5h.01M453.3 710.1h.01M453.4 713.3h.01M456.6 711.8h.01M457.1 714.1h.01M460.1 715.3h.01M459.6 717.8h.01M463.3 715.9h.01M463.4 720.1h.01M466.9 716.6h.01M466.4 718h.01M470 712.9h.01M469.9 718.2h.01M473.6 716.1h.01M472.8 720.2h.01M476.1 718.5h.01M476.9 723.8h.01M479.5 721.5h.01M480.3 726.6h.01M483.2 721.9h.01M483.3 724.2h.01M486.2 720.1h.01M486.8 725.5h.01M489.5 724.8h.01M489.4 728.1h.01M493.5 728.3h.01M493 730.7h.01M496.8 729.7h.01M496.5 732.8h.01M499.8 731.5h.01M499.2 731.4h.01M480.1 724.5h.01M479.8 729.9h.01M483.7 725.9h.01M483.1 726.5h.01M486.9 723.6h.01M487.1 726.7h.01M489.8 726.9h.01M490 727.2h.01M492.8 729.1h.01M493.2 729.7h.01M496.7 730.1h.01M496.1 731h.01M500.2 731.4h.01M500.3 730.4h.01M502.9 729.8h.01M502.9 731.7h.01M506.8 732h.01M506 733.1h.01M509.8 733.9h.01M509.7 737.3h.01M512.8 736.2h.01M513.4 742h.01M516.7 737.3h.01M515.8 741.6h.01M519.4 732.9h.01M520 738.7h.01M519.8 744.5h.01M522.8 737.5h.01M522.6 743.1h.01M523.1 748.7h.01M526 738.4h.01M525.8 744.4h.01M526.3 750.4h.01M529.8 738h.01M529.6 742.1h.01M529.5 746.3h.01M529 750.4h.01M532.9 737.5h.01M532.4 741.9h.01M532.9 746.4h.01M536.3 733.4h.01M535.8 737.7h.01M535.8 742h.01M536.5 746.3h.01M539.8 735.5h.01M539.4 740.9h.01M539 746.3h.01M542.3 739.3h.01M542.7 743.2h.01M542.7 747.2h.01M545.7 740.9h.01M546 744.8h.01M546 748.8h.01M549.2 742.9h.01M549 745.9h.01M553 741.8h.01M552.6 746.3h.01M556.3 746.3h.01M555.9 746.5h.01M559.4 749h.01M558.9 748h.01M562.3 752.3h.01M562 753h.01M565.6 757.3h.01M566.2 756.3h.01M568.8 757.5h.01M569.2 760.2h.01M572 758.2h.01M572.1 762h.01M575.2 758.1h.01M575.8 762.3h.01M575.9 766.4h.01M579.3 759h.01M579 763.1h.01M579.4 767.2h.01M582.2 759.6h.01M582.2 763.3h.01M585.8 754.1h.01M585.8 758.1h.01M585.3 762.1h.01M588.6 755.2h.01M588.6 760.9h.01M592.7 756.5h.01M592.5 762.4h.01M595.8 757.7h.01M595.9 762.7h.01M598.5 761.6h.01M598.9 760.6h.01M601.7 762h.01M602.3 763.4h.01M605.9 766h.01M605.6 765.4h.01M609 766h.01M609.1 765.4h.01M612.3 765.5h.01M612.3 766.3h.01M615.6 765.7h.01M615.6 764.7h.01M619.1 763.7h.01M618.6 765.5h.01M622.4 765.9h.01M622.2 766.7h.01M624.9 768.1h.01M624.9 770.8h.01M628.5 768h.01M628.9 772.9h.01M631.7 768.3h.01M632.1 769.8h.01M635.5 764.8h.01M635.4 770.2h.01M638.6 766.7h.01M638.7 771.6h.01M642 768.9h.01M642 774.2h.01M644.5 770.1h.01M644.6 775.6h.01M648.4 771.8h.01M648.3 772.8h.01M651.5 770.2h.01M651.9 774.7h.01M654.5 775.1h.01M654.7 775.5h.01M658.4 778.6h.01M658.5 777.7h.01M661 779.5h.01M661.8 780.9h.01M665.3 778.9h.01M664.7 777.9h.01M668.2 776.7h.01M668.5 779.2h.01M671.9 780.3h.01M671.4 781.3h.01M675 784.4h.01M674.4 785.3h.01M677.7 786.9h.01M678.4 789.6h.01M681.1 788.2h.01M681.2 788.9h.01M685 784.8h.01M684.6 788.6h.01M688.3 784.8h.01M688.1 788.6h.01M691.1 787.2h.01M691.7 789.3h.01M694.6 786h.01M694.4 790.6h.01M698.2 785.1h.01M697.8 786.3h.01M700.7 784h.01M701.4 788.4h.01M704.3 790.3h.01M704.7 789.6h.01M707.9 793h.01M707.2 792h.01M440 584.2h.01M262.3 674.2h.01M320.5 779.2h.01M491.9 811.2h.01M611.1 648.8h.01M662.8 838.8h.01"/>
<path stroke="#e6002d" d="M156.2 790h.01M153.8 808.5h.01M157.3 824.6h.01M159.6 843.1h.01M155 799.2h.01M170.4 720.3h.01M169.8 722.7h.01M173.3 717.9h.01M173.8 723.4h.01M173 729h.01M173.4 734.6h.01M173.8 740.2h.01M176.9 716.2h.01M176.1 721.1h.01M176.6 726h.01M176.5 730.8h.01M176.2 735.7h.01M179.9 711.9h.01M180.4 717.9h.01M179.8 723.9h.01M180.3 729.8h.01M179.7 735.8h.01M182.7 711.9h.01M183.2 717.3h.01M183.6 722.7h.01M182.9 728.2h.01M183.5 733.6h.01M186.5 708.9h.01M186.7 714.3h.01M186.9 719.6h.01M186.6 725h.01M189.7 706h.01M190 710.7h.01M189.6 715.4h.01M190.2 720h.01M189.8 724.7h.01M193 701.1h.01M193.3 705.6h.01M193 710.2h.01M192.9 714.8h.01M193.4 719.3h.01M196.8 694.2h.01M196.5 699h.01M196.4 703.9h.01M196.3 708.8h.01M196.1 713.7h.01M196.8 718.6h.01M199.7 693.5h.01M199.9 699.4h.01M200 705.3h.01M199.6 711.3h.01M199.3 717.2h.01M202.9 693.9h.01M203.3 698.7h.01M203.4 703.6h.01M202.6 708.4h.01M202.9 713.2h.01M202.5 718h.01M206.1 695.1h.01M206.4 700.8h.01M206.2 706.5h.01M206.8 712.2h.01M206.7 717.9h.01M209.7 697.2h.01M209.9 702.7h.01M209.9 708.2h.01M209.8 713.6h.01M212.6 694.4h.01M213.1 699h.01M213.1 703.5h.01M212.5 708.1h.01M212.8 712.6h.01M216.5 697.9h.01M216.1 702.3h.01M216.2 706.7h.01M216 711h.01M219.1 699.1h.01M219.7 703.8h.01M219.4 708.4h.01M219.9 713.1h.01M223 697.6h.01M223.2 702.1h.01M222.4 706.6h.01M222.3 711.2h.01M222.9 715.7h.01M225.8 696.7h.01M226.3 702.1h.01M226.4 707.5h.01M226.3 712.9h.01M229.1 691.7h.01M229.7 696.8h.01M229.1 702h.01M229 707.2h.01M229.2 712.3h.01M233.1 693.8h.01M232.6 698.6h.01M232.5 703.4h.01M232.8 708.2h.01M233.1 713h.01M236.2 693.1h.01M236.3 698.7h.01M236.1 704.2h.01M236 709.8h.01M236.1 715.3h.01M239.2 695.3h.01M239.4 700.3h.01M239.7 705.3h.01M238.9 710.3h.01M238.8 715.3h.01M243.1 695.7h.01M242.3 701.1h.01M242.6 706.5h.01M242.9 711.9h.01M246.4 692.2h.01M246 697h.01M246 701.9h.01M245.4 706.7h.01M245.9 711.6h.01M249 695.2h.01M249.6 700.5h.01M249.7 705.7h.01M249.2 711h.01M252.8 698h.01M252.3 703h.01M253 708h.01M252.6 713.1h.01M255.5 696.7h.01M256.1 702.4h.01M255.6 708.1h.01M255.7 713.8h.01M258.7 696.1h.01M258.7 701h.01M259 706h.01M259.6 711h.01M262.8 689.8h.01M262 695.2h.01M262.3 700.7h.01M262.4 706.2h.01M262.6 711.7h.01M265.8 691.3h.01M265.6 696.5h.01M266.2 701.7h.01M266.1 706.9h.01M265.8 712.2h.01M268.6 692.6h.01M268.7 698h.01M269.3 703.3h.01M268.6 708.6h.01M269.4 714h.01M272.6 693.4h.01M272.5 698.8h.01M272.6 704.3h.01M272 709.8h.01M272.6 715.2h.01M275.9 697h.01M275.1 702.1h.01M275.8 707.2h.01M275.7 712.2h.01M278.8 697.4h.01M279.2 702.7h.01M279 708h.01M279.1 713.3h.01M282.3 702.6h.01M282.3 708.2h.01M282 713.8h.01M285.7 707h.01M285.7 711.9h.01M285.4 716.9h.01M289.1 708.7h.01M288.6 714.2h.01M289.2 719.6h.01M292.1 708.1h.01M291.7 713.2h.01M291.9 718.3h.01M295.9 705h.01M295.7 709.9h.01M295.4 714.8h.01M295.2 719.7h.01M298.9 707.9h.01M299.1 712h.01M298.4 716.1h.01M298.5 720.2h.01M302.3 711.7h.01M302.2 717.2h.01M301.7 722.7h.01M304.9 713.9h.01M304.9 718.7h.01M305.5 723.4h.01M305.3 728.1h.01M309.1 716.5h.01M308.2 720.7h.01M308.9 724.9h.01M308.3 729.1h.01M312.3 712h.01M311.7 718h.01M312 723.9h.01M311.9 729.9h.01M314.7 716h.01M314.9 721.2h.01M315.1 726.4h.01M318.9 719h.01M318.9 722.6h.01M318.4 726.2h.01M322 718.2h.01M322.2 722.2h.01M322.1 726.2h.01M325.5 718.5h.01M324.8 723.3h.01M328.9 714.4h.01M328.6 718.8h.01M328.4 723.1h.01M331.3 717.5h.01M331.7 720.6h.01M331.6 723.7h.01M335.4 718.9h.01M334.5 722.1h.01M335.1 725.2h.01M338.5 720.9h.01M338.4 724.4h.01M338 728h.01M341.1 723.9h.01M341.6 725.9h.01M345.4 721h.01M345.2 724.4h.01M344.4 727.8h.01M348.1 725.7h.01M347.7 728.2h.01M352 728.4h.01M351.8 733.6h.01M354.4 729.5h.01M354.8 733.8h.01M354.9 738.1h.01M358.6 730.5h.01M358 735h.01M358.5 739.6h.01M361.5 730h.01M361 734.8h.01M361.5 739.6h.01M361.5 744.4h.01M364.9 733.5h.01M364.9 739.1h.01M364.8 744.7h.01M368.1 735.1h.01M367.7 740.3h.01M367.7 745.4h.01M371 735.2h.01M371.5 740h.01M371.5 744.9h.01M374.7 735.8h.01M374.2 738.6h.01M377.5 731.6h.01M377.6 735.5h.01M378.3 739.4h.01M381 734.5h.01M381 739.4h.01M384.6 736.4h.01M384.3 741.7h.01M387.3 736.6h.01M388 739.7h.01M388.1 742.9h.01M391.6 737h.01M391.5 740.8h.01M394.7 732.9h.01M394.7 736.9h.01M394 741h.01M397.9 735.8h.01M397.9 738.9h.01M397.3 742.1h.01M400.6 739h.01M401.1 744.1h.01M403.9 738.6h.01M404.6 743h.01M404.6 747.4h.01M407.3 740.4h.01M407.3 745h.01M410.9 738.1h.01M411 742h.01M411.2 745.9h.01M414.5 741h.01M413.7 746.9h.01M417.5 744.5h.01M417.4 750.2h.01M421.1 746.6h.01M420.5 749.8h.01M420.6 753h.01M423.6 748.4h.01M424.5 751.3h.01M427 744.6h.01M427 749h.01M427.4 753.3h.01M430.9 748.2h.01M430.4 751.7h.01M431.1 755.2h.01M434.3 752h.01M434.1 755.2h.01M434.1 758.4h.01M437.7 752.7h.01M437.5 757.8h.01M437.2 762.9h.01M440.7 753.8h.01M440.7 756.6h.01M443.7 750.2h.01M443.8 753.9h.01M443.7 757.5h.01M447.6 752.8h.01M447.3 757.1h.01M450.7 755.1h.01M450.1 759.1h.01M453.7 756.8h.01M453.4 761.9h.01M456.7 757.4h.01M456.7 758.7h.01M460.5 753h.01M460.4 756.3h.01M460.8 759.7h.01M464.1 756.7h.01M463.5 760.4h.01M466.7 758.2h.01M467.5 763.6h.01M470.3 760h.01M470.1 764.6h.01M473.9 760.3h.01M473.2 763.7h.01M476.7 757.4h.01M477 761.4h.01M477.2 765.3h.01M480.5 760.9h.01M480.4 766.6h.01M483 764.1h.01M483.5 767.2h.01M483.8 770.2h.01M486.4 765.9h.01M486.9 769.4h.01M486.4 772.9h.01M490.5 766.3h.01M490.5 770.5h.01M493.1 762.6h.01M493.3 766.9h.01M493.6 771.2h.01M496.9 765.6h.01M497.1 771.4h.01M500.3 769.1h.01M500.4 773.3h.01M479.7 763.2h.01M479.9 765.9h.01M483.3 765.5h.01M483.7 766.7h.01M486.9 767.8h.01M486.3 768.7h.01M489.5 768.5h.01M489.9 770.6h.01M492.8 769.2h.01M493.2 768.2h.01M496.4 768.1h.01M496.1 769.5h.01M499.8 771.8h.01M500.2 770.8h.01M502.8 773.2h.01M503.3 772.7h.01M506.9 774.6h.01M506.8 774.9h.01M509.7 787h.01M509.4 790.2h.01M509.4 793.4h.01M512.6 788.1h.01M512.8 793.3h.01M513.4 798.6h.01M515.9 788.7h.01M516.3 792.4h.01M516.1 796h.01M519.5 787.8h.01M519.2 791h.01M520.1 794.1h.01M522.4 783.2h.01M523.1 787h.01M522.9 790.8h.01M526.4 783h.01M526.2 786.8h.01M529.6 778.6h.01M529.7 783.2h.01M529.1 787.8h.01M533 781.1h.01M533.2 786.5h.01M535.8 782.4h.01M535.8 786.5h.01M536.2 790.6h.01M539.1 783.6h.01M538.9 787.6h.01M539.3 791.7h.01M542.9 786h.01M542.8 789h.01M546.2 785h.01M545.5 788.5h.01M549.3 789.7h.01M549.3 789.2h.01M553.1 792.4h.01M552.7 794h.01M555.6 793.2h.01M556.4 796.7h.01M555.9 800.2h.01M559 793.9h.01M559.1 797.5h.01M559 801h.01M562.4 790.2h.01M562.2 794.8h.01M562.8 799.3h.01M565.6 793.6h.01M565.8 798.5h.01M568.7 795.1h.01M568.8 798.9h.01M572 796.6h.01M572 800.7h.01M576.1 796.5h.01M575.3 795.6h.01M579.1 794.1h.01M579 796.7h.01M582.5 796.2h.01M582.7 797.7h.01M586 799.1h.01M585.5 799.5h.01M588.5 800h.01M588.4 802.2h.01M592.7 800.6h.01M592.6 799.8h.01M595.8 796.9h.01M595.8 800.3h.01M598.4 798.8h.01M598.5 800.2h.01M602.4 800.8h.01M602.5 802.5h.01M605 801.3h.01M605.8 805.1h.01M608.9 801h.01M608.5 802.6h.01M612 800.2h.01M612.2 804.4h.01M615.4 805.9h.01M615.3 805.5h.01M618.1 808.4h.01M618.6 807.4h.01M622 809.9h.01M621.6 809.9h.01M624.9 810.3h.01M625.1 809.3h.01M628.4 808.4h.01M629 809.7h.01M632 811.1h.01M631.7 810.5h.01M634.7 812.7h.01M634.8 812h.01M637.9 813.8h.01M638 815.6h.01M641.3 814.9h.01M641.8 813.9h.01M644.9 813.5h.01M645.2 814.4h.01M648.3 814.9h.01M647.8 814.8h.01M651.5 816.2h.01M652.1 816.3h.01M655 816.6h.01M655 817.7h.01M657.9 817h.01M658.5 816h.01M661.8 813.9h.01M661.6 817.2h.01M664.9 816.8h.01M664.5 817.1h.01M668.3 818.7h.01M667.9 820.5h.01M671.1 818.9h.01M671.6 822.9h.01M674.5 819.5h.01M674.9 820.6h.01M677.6 817h.01M678.4 821.4h.01M681.1 822.4h.01M681.3 822.2h.01M684.6 825.2h.01M684.4 824.9h.01M687.6 827.1h.01M687.5 826.7h.01M691 827.9h.01M691.5 826.9h.01M694.5 827.6h.01M694.2 827.7h.01M697.4 829.5h.01M697.5 828.5h.01M701.3 830.2h.01M700.8 829.2h.01M704 830.9h.01M704.5 830.1h.01M708 831.6h.01M708 830.6h.01M711.2 831.2h.01M711.1 831.3h.01M714.4 833h.01M713.9 832h.01M717.4 833.7h.01M717.5 833.4h.01M720.4 834.4h.01M721.1 836.5h.01M724.3 835.1h.01M724.4 835.2h.01M727.2 830.5h.01M727.3 835.4h.01M730.5 833.5h.01M730.5 836.5h.01M734.3 836.5h.01M734.6 838.3h.01M737.2 837h.01M737.6 841h.01M740.3 838h.01M740.2 839.2h.01M744.4 834h.01M744.4 839.7h.01M746.9 838.7h.01M747.3 840.6h.01M750.8 842.7h.01M750.6 843h.01M753.5 844.4h.01M753.8 845.1h.01M757.4 846.1h.01M756.9 845.1h.01M760.7 844.3h.01M760.8 845.7h.01M764.2 845.8h.01M764.2 846.8h.01M767.1 847.9h.01M767.2 849.1h.01M770.9 848.3h.01M770.8 850.9h.01M773.8 848.8h.01M773.5 848h.01M777.3 847.3h.01M776.9 848.2h.01M779.9 849.6h.01M780.8 848.6h.01M284.9 795.8h.01M352.8 813.1h.01M420.8 815.4h.01M488.5 832.7h.01M284.9 816.5h.01M217.8 839.6h.01M556.2 851.2h.01M624.2 860.7h.01M691.8 877.8h.01M759.7 897.6h.01"/>
<path stroke="#0096dc" d="M158.5 847.7h.01M153.8 868.5h.01M167.7 863.8h.01M163.1 877.7h.01M157.3 856.9h.01M166 806.1h.01M165.9 811h.01M166 815.8h.01M169.2 807.4h.01M169.1 812.5h.01M168.9 817.6h.01M169 822.7h.01M169.5 827.8h.01M169.4 832.9h.01M172.4 817.5h.01M172.5 822.6h.01M172 827.7h.01M172.9 832.8h.01M172.9 837.9h.01M175.5 826.4h.01M175.4 831.4h.01M176.1 836.4h.01M176 841.4h.01M179.3 831.9h.01M179.3 836.3h.01M179.5 840.7h.01M182.4 826.5h.01M182.6 830.5h.01M181.9 834.6h.01M182.4 838.6h.01M186.1 829.3h.01M185.8 832.6h.01M185.5 836h.01M189.1 833h.01M189.1 837.4h.01M192 835.4h.01M192.1 840.2h.01M195.1 837.5h.01M195.1 837h.01M198.7 827.3h.01M199.2 831.5h.01M199.3 835.6h.01M202 814h.01M201.9 818.5h.01M202.6 823.1h.01M201.7 827.6h.01M202.3 832.2h.01M205.5 821.2h.01M205.9 826.3h.01M205.8 831.4h.01M209.1 825.7h.01M208.4 829.2h.01M208.4 832.7h.01M211.9 825.7h.01M212 829.4h.01M215.6 820.8h.01M215.5 824.6h.01M214.9 828.5h.01M218.5 822.5h.01M218.9 827.2h.01M222.3 826.5h.01M222 829.2h.01M225.6 828.6h.01M225.7 833h.01M228.5 830.4h.01M228.8 831.8h.01M231.7 828.2h.01M231.4 833.1h.01M235.5 828.7h.01M234.7 833.4h.01M238.4 828.8h.01M238 834.3h.01M241.6 830.7h.01M241.7 835.4h.01M245.4 830.8h.01M245.1 833.9h.01M248.7 827.9h.01M248.6 831.2h.01M248.2 834.5h.01M252.1 821.1h.01M252 825.8h.01M251.2 830.6h.01M255.4 819.7h.01M254.7 825.4h.01M254.7 831.2h.01M258.4 821h.01M258.6 826.7h.01M258.4 832.4h.01M261.6 823.9h.01M261.1 829.2h.01M264.5 823.5h.01M264.6 827.1h.01M264.9 830.8h.01M268.4 822.6h.01M268.2 828.4h.01M271.9 826.1h.01M271.7 830.5h.01M274.3 828.1h.01M274.7 832.8h.01M278.1 829h.01M278.5 830.8h.01M280.9 823.2h.01M281.7 827.4h.01M281.5 831.7h.01M285 823.2h.01M284.3 829h.01M284.2 834.8h.01M287.6 823.8h.01M288 828.3h.01M287.5 832.9h.01M287.5 837.4h.01M291.6 825.8h.01M291.5 831.1h.01M291.5 836.4h.01M291 841.6h.01M294.3 829.1h.01M294.2 834.8h.01M294.5 840.5h.01M298 827.9h.01M298 832.7h.01M297.6 837.5h.01M297.6 842.4h.01M301.4 832h.01M301.4 836h.01M301.5 840.1h.01M300.8 844.1h.01M304.2 836.2h.01M304.8 840.8h.01M304.2 845.4h.01M308.2 838.2h.01M308 843.2h.01M307.4 848.2h.01M310.8 838.7h.01M311.4 844h.01M314.3 836.3h.01M313.8 840.1h.01M314.7 843.9h.01M317.7 841.2h.01M317.6 842.7h.01M320.7 843.5h.01M321 845.3h.01M324.7 842.3h.01M324 847h.01M327.5 842.5h.01M327.4 843h.01M330.5 837h.01M330.9 842.9h.01M334.1 838.9h.01M334.5 843.6h.01M337.4 841.5h.01M337.2 844.7h.01M340.8 843.5h.01M340.7 847.8h.01M343.9 846.2h.01M343.6 846.1h.01M347.2 845.8h.01M347.6 847.2h.01M350.6 848.5h.01M351 847.9h.01M354.2 849.8h.01M353.9 850h.01M357.4 850.6h.01M357.7 852.3h.01M360.7 851.4h.01M360.8 850.4h.01M364 850.2h.01M364 851.2h.01M367.2 851.9h.01M366.9 852.1h.01M370.5 853.9h.01M370.6 853.9h.01M374.2 854.2h.01M374.2 856.4h.01M377 854.6h.01M376.8 853.6h.01M380.4 851.7h.01M380.6 853.9h.01M383.3 853.4h.01M383.4 855.2h.01M387.3 855.5h.01M386.5 855.9h.01M390.6 855.7h.01M390.4 857.8h.01M393.3 855.5h.01M393.5 854.6h.01M396.4 852.8h.01M396.6 854.4h.01M400 854.3h.01M399.9 854.3h.01M403.9 855.2h.01M403.9 855.6h.01M406.8 855.8h.01M407.2 857.8h.01M410.4 857.4h.01M409.6 856.4h.01M413.3 855.5h.01M413.5 858.1h.01M416.3 859.9h.01M416.4 859.7h.01M419.5 859.6h.01M419.8 860.3h.01M423.2 858.2h.01M422.9 860.3h.01M427 859.6h.01M426.2 859h.01M429.7 859.6h.01M429.8 860.8h.01M432.7 862.7h.01M433.3 862.6h.01M436.8 865.7h.01M436.7 865h.01M439.7 867.7h.01M439.9 867.8h.01M443.1 867.4h.01M443.4 866.4h.01M445.9 865.1h.01M446.5 866h.01M449.3 865.4h.01M449.2 865.6h.01M452.9 866.2h.01M453.1 866.4h.01M456.2 865.8h.01M456.7 869h.01M459.9 865.2h.01M459.4 864.3h.01M462.7 860.7h.01M463 863.8h.01M466.2 862h.01M466.6 863.8h.01M469.1 863.2h.01M469.9 865.1h.01M472.9 862.9h.01M472.3 865.9h.01M476.2 864.6h.01M476.1 863.6h.01M479.4 863.5h.01M479.4 865.4h.01M483.1 868.2h.01M482.6 867.2h.01M485.9 870h.01M485.5 870.2h.01M489.3 870.5h.01M489.5 872.6h.01M492.2 870.9h.01M492.4 869.9h.01M495.8 868.6h.01M496.2 870.3h.01M499.1 870.5h.01M499 870.7h.01M479.7 867.3h.01M480.2 871.8h.01M483.7 871.1h.01M483.7 873.6h.01M486.7 874.5h.01M486.9 876.2h.01M490.3 875.6h.01M489.8 878.6h.01M492.8 877h.01M493.4 877.1h.01M496.1 873.5h.01M497 878.7h.01M499.4 874.6h.01M499.9 878.7h.01M503.4 877.7h.01M502.6 881.6h.01M506.8 878.1h.01M506.8 883.6h.01M509.7 879.2h.01M509.9 881.2h.01M513.4 874.8h.01M512.7 878.1h.01M512.6 881.3h.01M516 878h.01M516.3 882.4h.01M520 881.6h.01M519.6 885.6h.01M523.3 883.5h.01M522.6 887.5h.01M526.7 885.3h.01M526.5 885.3h.01M529.9 883.3h.01M529.4 886.4h.01M533.1 889.5h.01M533 888.8h.01M536.1 890.2h.01M536.4 890.2h.01M539.1 885.1h.01M539.6 891h.01M542.4 885.9h.01M542.3 888.1h.01M545.8 886.2h.01M545.9 888.8h.01M549.4 892.2h.01M549 891.2h.01M553.1 891.3h.01M553.1 890.5h.01M556.4 890.4h.01M555.8 892.8h.01M558.7 889.4h.01M558.9 889h.01M562.6 887.9h.01M562.6 890.7h.01M565.7 892.9h.01M566.2 892.1h.01M569.5 895.1h.01M569.3 894.5h.01M572.2 894.3h.01M572.9 896.8h.01M575.3 892.5h.01M575.2 893.6h.01M579 885.3h.01M578.6 888.3h.01M579.3 891.3h.01M582.7 888.3h.01M582.8 891.6h.01M585.1 891.8h.01M585.1 894.3h.01M588.7 892.3h.01M589 898.1h.01M592.6 894.8h.01M592.3 895.2h.01M595.2 890.7h.01M595.2 895.7h.01M599.2 893.1h.01M598.6 896.2h.01M601.9 896.1h.01M602.6 898.3h.01M605 895.4h.01M605.7 901.2h.01M608.9 896.7h.01M608.5 898.2h.01M612.2 893.3h.01M612.5 898h.01M615.4 897.4h.01M615.5 896.7h.01M618.7 897.5h.01M618.5 898.4h.01M621.5 898.5h.01M621.6 900.3h.01M625.5 899.5h.01M624.9 899.1h.01M628.6 896.5h.01M628.4 899.8h.01M631.4 899.9h.01M631.7 901h.01M634.8 902.6h.01M635.4 904.8h.01M638.4 902.6h.01M638.3 905.9h.01M641.4 900.6h.01M641.9 902.1h.01M645 896.1h.01M645.4 900.3h.01M647.9 897.5h.01M647.9 901.1h.01M651.7 899.9h.01M651.5 903.6h.01M655.3 899.8h.01M654.6 902.9h.01M654.6 906h.01M658.6 899.8h.01M658.4 903.1h.01M661 896.3h.01M661.1 899.8h.01M661.8 903.4h.01M664.9 900h.01M664.4 903.7h.01M667.7 903.6h.01M668.3 906.3h.01M671.1 905.5h.01M671.6 908h.01M674.3 906.7h.01M675.1 906.4h.01M677.9 905h.01M677.7 907h.01M681.8 908.6h.01M681.1 908.3h.01M684.3 910.2h.01M684.5 911.4h.01M687.6 911.2h.01M687.5 912.5h.01M691.6 910h.01M690.8 909.3h.01M694.2 905.6h.01M694.7 908.4h.01M697.6 906.2h.01M698.2 907.6h.01M700.7 909.8h.01M701.1 910.2h.01M704.6 911.4h.01M704.5 914.3h.01M707.9 912.9h.01M708 912.1h.01M710.6 911.5h.01M711.1 914h.01M714.5 914.6h.01M714.2 915.1h.01M718.1 917.6h.01M717.5 918.1h.01M721.1 918.4h.01M721.3 920.8h.01M724.6 917h.01M724.4 916.3h.01M727.7 912.6h.01M727 916h.01M731.2 916h.01M731.3 916.1h.01M734.4 917.7h.01M734.5 918.9h.01M737.5 918.5h.01M737.8 919h.01M740.7 919.3h.01M740.7 918.3h.01M744 916.4h.01M744.1 918.1h.01M747.3 917.6h.01M747.3 918.3h.01M750.3 919.4h.01M750.6 920.2h.01M754.1 920.1h.01M754.2 922.4h.01M757.6 920.8h.01M757.2 919.8h.01M760.4 919.7h.01M760.7 920.5h.01M764 922.2h.01M763.5 921.2h.01M766.9 924.7h.01M767 924.2h.01M770.1 927.1h.01M770.1 928h.01M773.9 929.2h.01M773.8 928.2h.01M776.6 925.7h.01M776.9 928.2h.01M780.3 929h.01M780.5 928.6h.01M783.3 929.2h.01M783.4 929.8h.01M787.1 929.2h.01M786.9 932.1h.01M790.2 929.2h.01M790.4 928.6h.01M793.9 923.4h.01M793.4 926.5h.01M797.3 922h.01M796.5 926.3h.01M800.5 926.5h.01M800.5 928.4h.01M803.8 927.7h.01M803.3 930.8h.01M806.6 928.8h.01M806.3 927.9h.01M809.9 927.7h.01M810.1 927.6h.01M217.8 956.2h.01M217.8 963.1h.01M284.9 949.7h.01M352.8 955h.01M420.8 958.9h.01M488.5 970h.01M556.2 980h.01"/>
</g>
<path d="M229.7 525.5v6.5M229.7 971.2v-6.5M310.3 525.5v13M310.3 971.2v-13M391 525.5v6.5M391 971.2v-6.5M471.6 525.5v13M471.6 971.2v-13M552.3 525.5v6.5M552.3 971.2v-6.5M632.9 525.5v13M632.9 971.2v-13M713.6 525.5v6.5M713.6 971.2v-6.5M794.2 525.5v13M794.2 971.2v-13M149 599.3h13M826.5 599.3h-13M149 723.3h13M826.5 723.3h-13M149 847.2h13M826.5 847.2h-13M149 537.3h6.5M826.5 537.3h-6.5M149 661.3h6.5M826.5 661.3h-6.5M149 785.3h6.5M826.5 785.3h-6.5M149 909.2h6.5M826.5 909.2h-6.5" stroke="#000" stroke-width="4" fill="none"/>
<rect x="149" y="525.5" width="677.5" height="445.7" fill="none" stroke="#000" stroke-width="4.2"/>
<text transform="translate(134.4,615.3) scale(1,1.1)" text-anchor="end">1.10</text>
<text transform="translate(134.4,739.3) scale(1,1.1)" text-anchor="end">1.05</text>
<text transform="translate(134.4,863.2) scale(1,1.1)" text-anchor="end">1.00</text>
<text transform="translate(134.4,987.2) scale(1,1.1)" text-anchor="end">0.95</text>
<text transform="translate(169.5,562.5) scale(1,1.1)" class="b">b</text>
<clipPath id="cpc"><rect x="149" y="1007.2" width="677.5" height="445.6"/></clipPath>
<g clip-path="url(#cpc)" fill="none" stroke-linecap="round" stroke-width="16.2">
<path stroke="#262626" d="M167.7 1121.2h.01M166.5 1174.1h.01M166.6 1174.8h.01M171.9 1174.6h.01M173.3 1175.3h.01M176.6 1175.7h.01M177.7 1176.8h.01M184.2 1177.9h.01M181.2 1181.4h.01M187.2 1181.6h.01M188.1 1184.5h.01M192.6 1187.7h.01M193.2 1188.7h.01M199.1 1192.5h.01M199.1 1194.3h.01M202.1 1197.1h.01M203.3 1200h.01M207.6 1196.9h.01M207.2 1203.3h.01M212.1 1196.3h.01M211.9 1201.6h.01M213.7 1204.7h.01M218.3 1198.9h.01M217.3 1204.4h.01M218.1 1209.5h.01M223.9 1194.6h.01M221.2 1199.3h.01M221.8 1206.2h.01M226.7 1198.4h.01M228.6 1203.5h.01M227.3 1204.1h.01M233.6 1198.8h.01M231.4 1203.3h.01M231.8 1206.2h.01M238.8 1199.7h.01M237.8 1202h.01M238.4 1207.2h.01M237 1208.6h.01M243.7 1203.1h.01M243.4 1206.3h.01M241.6 1209.2h.01M242.7 1215.9h.01M248.1 1201.3h.01M248.3 1207.9h.01M246.6 1211.8h.01M246.4 1217.4h.01M249 1222.1h.01M252.6 1206h.01M251.7 1207.7h.01M253.1 1212.2h.01M251.6 1217.5h.01M253.9 1220.7h.01M253.4 1223.4h.01M256.5 1206.9h.01M259.1 1209h.01M259.1 1215.2h.01M256.2 1219.5h.01M257.1 1221.7h.01M259 1227.3h.01M262.8 1206h.01M263.6 1210.1h.01M264 1216h.01M262 1217.6h.01M262.7 1224.7h.01M262.1 1225.4h.01M261.5 1229.2h.01M268.1 1206.1h.01M268.6 1212.1h.01M267.4 1216.5h.01M267.7 1218.6h.01M269 1226.8h.01M268.5 1227.9h.01M273.2 1208h.01M272.9 1209.4h.01M272 1216.8h.01M271.6 1218.8h.01M273 1222.9h.01M272.1 1229.9h.01M277.8 1206.1h.01M278.9 1211.8h.01M276.7 1216.4h.01M276.5 1220.2h.01M277.5 1225.4h.01M278.7 1227.4h.01M283.9 1208.1h.01M283.1 1212.9h.01M282 1217.6h.01M283.4 1220.4h.01M281.7 1227.8h.01M289.1 1209.6h.01M287.5 1217.7h.01M288.1 1222.3h.01M287.5 1223.3h.01M291.7 1210.1h.01M291.5 1211.8h.01M294.1 1217.9h.01M292.1 1219.4h.01M298.9 1205.3h.01M296.8 1207.7h.01M298.7 1211.7h.01M296.7 1215.6h.01M302.4 1204.3h.01M303.8 1208.5h.01M303.4 1210.2h.01M307.1 1198.5h.01M308.1 1203.3h.01M306.9 1208.5h.01M312.9 1201.5h.01M313.5 1204.8h.01M313.7 1207.7h.01M319.1 1202.8h.01M319.2 1210.4h.01M321.2 1205.8h.01M322.7 1208.7h.01M328.1 1203.8h.01M326.6 1210.4h.01M332.8 1201.9h.01M331.4 1203.8h.01M331.4 1206.8h.01M336.5 1199.2h.01M339.2 1205.1h.01M338.5 1207.8h.01M343.9 1201.4h.01M342.6 1203h.01M342.5 1209h.01M348.3 1200.1h.01M347.7 1204.3h.01M348.7 1209.8h.01M352.4 1198.5h.01M352.3 1203.9h.01M351.7 1207.5h.01M352 1209.5h.01M358.2 1205.5h.01M358.9 1210.2h.01M358.5 1212.8h.01M363.6 1206.6h.01M363.6 1208.9h.01M361.3 1211.9h.01M366.4 1204.3h.01M369.1 1207.4h.01M368 1212.7h.01M373.2 1201.8h.01M371.4 1204.7h.01M372.5 1207.7h.01M371.8 1213.3h.01M376.3 1201.6h.01M377.2 1205h.01M378.1 1209.2h.01M376.5 1212.8h.01M382.1 1204.7h.01M381.9 1206.9h.01M382.7 1214.3h.01M389 1204.2h.01M388.6 1210h.01M387.8 1211.1h.01M392.3 1206.4h.01M394 1210.1h.01M391.7 1212.7h.01M397.8 1209.1h.01M398.9 1212.8h.01M402.9 1210.9h.01M402 1216.2h.01M407.7 1210.8h.01M407.9 1214.8h.01M411.7 1212.8h.01M413.5 1215.3h.01M418.9 1214.7h.01M417.8 1215.3h.01M423.8 1213.8h.01M421.6 1216.7h.01M426.4 1212.7h.01M428.9 1216h.01M433.6 1213.3h.01M434 1215.5h.01M438.2 1210.7h.01M437.5 1213.3h.01M436.4 1217.5h.01M443.1 1214.4h.01M443.8 1219h.01M447.2 1215.8h.01M446.5 1218.4h.01M451.8 1216h.01M453.2 1219.4h.01M458.4 1214.7h.01M457 1222.8h.01M462.9 1214.4h.01M463.3 1219.8h.01M461.5 1220.8h.01M468.2 1214.6h.01M467.2 1218.7h.01M467.6 1225.1h.01M471.4 1215.7h.01M473.8 1217.8h.01M472.7 1224.1h.01M477.2 1216.3h.01M477.4 1222h.01M482.5 1217.8h.01M484.2 1219.5h.01M487.7 1216.7h.01M486.5 1219.6h.01M494.1 1216.7h.01M492.8 1220.1h.01M497.7 1217.1h.01M498.4 1218.8h.01M480.5 1217.4h.01M481.3 1218.5h.01M484.4 1216.6h.01M485.3 1220.7h.01M490.2 1219h.01M488.6 1222.3h.01M494.9 1218.8h.01M495.1 1222.1h.01M498.7 1220.2h.01M498.6 1223.4h.01M505.6 1218.1h.01M505.3 1223h.01M509.2 1221.1h.01M509.7 1223.4h.01M516.3 1220.6h.01M514.3 1221.7h.01M520.1 1219.2h.01M518.7 1224.1h.01M525.2 1219.9h.01M525.9 1220.3h.01M531.3 1218.7h.01M529.2 1220.5h.01M535.8 1218.6h.01M536 1220.3h.01M540.6 1216.6h.01M541 1220.4h.01M546.1 1214.8h.01M544.2 1221.1h.01M549.4 1219.6h.01M549.3 1220.7h.01M554.5 1222.1h.01M554 1227.3h.01M559.2 1224.3h.01M561.1 1228.7h.01M565.9 1226.2h.01M565.9 1230.3h.01M569.3 1227.8h.01M569.1 1231.8h.01M574.6 1227.5h.01M576.3 1231.2h.01M578.8 1224.8h.01M580.8 1227.5h.01M586 1225.3h.01M584.6 1228.3h.01M589.4 1226.1h.01M589.4 1227.7h.01M594.9 1226.8h.01M593.9 1228.5h.01M598.6 1226.3h.01M601 1227.7h.01M604.7 1225.1h.01M605.9 1226.3h.01M609.7 1227.9h.01M611.2 1229.9h.01M615.1 1230.3h.01M614.8 1232.8h.01M621.3 1230.4h.01M620.1 1233.4h.01M626.4 1225.7h.01M624.1 1229.6h.01M629.2 1227.8h.01M629.8 1231.5h.01M635.6 1227.3h.01M636.3 1230.8h.01M639.2 1226.5h.01M640 1227.9h.01M640.7 1231.5h.01M644 1227.3h.01M644.9 1235.2h.01M649.7 1232.1h.01M649.1 1235.3h.01M654.5 1233.3h.01M656 1235.9h.01M659.4 1235h.01M660.6 1236.5h.01M665.9 1234.5h.01M664.6 1239.7h.01M669.7 1233.8h.01M669.4 1239.1h.01M673.6 1232.7h.01M674.2 1239h.01M680.4 1232h.01M680.7 1234.4h.01M679.1 1238.9h.01M684.5 1232.5h.01M684.5 1236.3h.01M690.8 1235.1h.01M688.8 1238.7h.01M694.4 1240.4h.01M695.6 1242.2h.01M699.5 1239.5h.01M699.1 1242.1h.01M703.5 1233.8h.01M704.3 1241.6h.01M201.2 1178.5h.01M372.6 1181.2h.01M282.4 1263.4h.01M523.8 1200.4h.01M543.9 1193.9h.01M662.5 1025.7h.01M491.3 1004.3h.01"/>
<path stroke="#e6002d" d="M160.8 1111.5h.01M164.2 1120.8h.01M165.4 1138.1h.01M166.5 1142.7h.01M168.8 1218.6h.01M170 1219.3h.01M175.4 1215.9h.01M174 1219.1h.01M176.2 1223.8h.01M179.2 1218.4h.01M180.1 1222.1h.01M180.5 1225.8h.01M181.1 1231.2h.01M184.9 1225.7h.01M184.5 1227.8h.01M184.5 1232h.01M185 1237.7h.01M186.4 1243.3h.01M190.2 1232.3h.01M188.7 1236.6h.01M190.9 1241.3h.01M190.8 1244.3h.01M190 1247.6h.01M189.1 1253.7h.01M194.2 1242.6h.01M194.5 1246h.01M194.1 1247.6h.01M195.4 1253.5h.01M193.7 1256.9h.01M195.1 1260h.01M199.5 1247.1h.01M201 1253.1h.01M199 1254.6h.01M199.5 1258.5h.01M199.1 1263.9h.01M203.6 1255.7h.01M205.1 1257h.01M206.3 1263.4h.01M204.3 1268.9h.01M209.9 1257.8h.01M211.1 1262.1h.01M208.6 1266.8h.01M210.5 1273.2h.01M215.6 1259.6h.01M216.5 1264.5h.01M215.3 1269h.01M216.1 1275.2h.01M219.7 1262.1h.01M220 1267.2h.01M219.3 1272h.01M218.8 1272.7h.01M224 1264.8h.01M223.9 1269h.01M224.2 1271.4h.01M223.6 1276.3h.01M231.1 1269.6h.01M229.7 1271.8h.01M230.4 1277.7h.01M230.5 1279.2h.01M234.5 1271.5h.01M235.7 1279.5h.01M233.9 1282h.01M238.9 1274.3h.01M238.6 1278.4h.01M238.5 1280.5h.01M239.8 1285.3h.01M245.1 1274.4h.01M243.9 1279.7h.01M244.4 1282.7h.01M244.8 1288.2h.01M248.6 1275.3h.01M249 1281.8h.01M250.6 1283.9h.01M250.5 1292.1h.01M256 1277.5h.01M256.2 1283.1h.01M253.9 1285.3h.01M255.9 1288.2h.01M254.6 1294.5h.01M261.4 1280.6h.01M259.1 1282.7h.01M259.8 1288.2h.01M260.9 1291.8h.01M260.8 1297.5h.01M265.7 1281.6h.01M265.3 1287.6h.01M264.2 1289.3h.01M263.8 1295.2h.01M266 1298.1h.01M271.1 1284.2h.01M269.3 1288.3h.01M269 1296.4h.01M271 1298.7h.01M273.9 1286.9h.01M274.3 1292.6h.01M275.6 1296.3h.01M275.7 1298.5h.01M279.8 1286h.01M280.7 1291.2h.01M281 1292.4h.01M281.1 1296.9h.01M285.4 1285.4h.01M286.2 1286.8h.01M284.1 1291.6h.01M286 1298.4h.01M290.3 1282.5h.01M290.4 1285.1h.01M290.8 1292.9h.01M290.5 1294.1h.01M294.4 1282.4h.01M295.3 1288.7h.01M296 1295.6h.01M300.2 1289h.01M300.2 1292.5h.01M306.1 1290.1h.01M305 1291.6h.01M311.5 1290.5h.01M309.7 1294h.01M316.4 1292.6h.01M315.3 1295.1h.01M320.8 1289.8h.01M319.6 1292.6h.01M326.1 1289.6h.01M325 1295.3h.01M329.6 1284.9h.01M328.9 1290.2h.01M329.8 1295.3h.01M336 1288.1h.01M333.7 1289.4h.01M334.4 1293.4h.01M341.2 1289.1h.01M340.1 1295.6h.01M344.4 1290.6h.01M344.5 1294.2h.01M349.9 1291.9h.01M348.8 1295.8h.01M355.3 1291.6h.01M354.5 1293.3h.01M359.8 1293h.01M359.3 1297.2h.01M365.5 1289.4h.01M364.9 1296h.01M363.6 1299.1h.01M370.6 1287.8h.01M370.6 1294.1h.01M370.2 1297.6h.01M375.4 1291.1h.01M375.5 1294h.01M373.6 1296.6h.01M380.1 1292.3h.01M379.2 1293.3h.01M383.5 1291.6h.01M384.2 1293h.01M388.9 1292.5h.01M391.1 1295.6h.01M396 1290.5h.01M394.4 1294.3h.01M398.9 1292.6h.01M398.9 1296.1h.01M406.4 1294.1h.01M405.2 1296.9h.01M410.2 1300h.01M410 1301.4h.01M415.5 1296h.01M414.8 1300.6h.01M420.1 1293.6h.01M421 1297.7h.01M425.6 1289.2h.01M426.3 1292.9h.01M424.1 1297h.01M428.5 1287.5h.01M431.3 1291.4h.01M429.7 1296.3h.01M434.9 1287.3h.01M434.7 1295.3h.01M438.6 1292.7h.01M441.3 1297.5h.01M444.5 1300.8h.01M446.2 1303.5h.01M450.7 1299h.01M448.9 1304.5h.01M456.4 1298.6h.01M454.2 1302.5h.01M459.5 1296.3h.01M458.7 1300.6h.01M460.6 1303.9h.01M465.2 1296.4h.01M465.8 1303.8h.01M468.7 1294h.01M470.1 1300.9h.01M473.8 1295.4h.01M475.7 1302.7h.01M480.6 1296.6h.01M481.3 1302.9h.01M485.4 1298.5h.01M486 1303h.01M490.9 1298.2h.01M489.5 1305h.01M496 1301h.01M493.9 1304.9h.01M501.5 1300.4h.01M501 1301.5h.01M498.7 1305.9h.01M480.6 1299.3h.01M479.2 1302.2h.01M484 1300.3h.01M485.6 1303.5h.01M489.9 1300.8h.01M488.8 1306h.01M495.8 1300.2h.01M494.9 1304.2h.01M500.1 1296.5h.01M501.5 1301.3h.01M499.5 1303.5h.01M506.5 1294.9h.01M506.3 1297.5h.01M505.5 1301.3h.01M509.4 1294h.01M510.7 1300.4h.01M513.6 1299.1h.01M513.6 1302.2h.01M521.4 1298.2h.01M520.4 1301.1h.01M524.5 1295.9h.01M525 1302.1h.01M530.8 1293.5h.01M530.1 1299.3h.01M535.7 1294.2h.01M533.9 1297h.01M536 1298.1h.01M540.1 1295.7h.01M539.5 1296.1h.01M538.7 1300.6h.01M543.8 1299.5h.01M545.9 1304.6h.01M551 1296.3h.01M550 1303.2h.01M556.4 1294.7h.01M555.8 1300.2h.01M561.4 1298.8h.01M560.8 1299.3h.01M564.8 1296.8h.01M566.5 1299.9h.01M569.7 1298.4h.01M570.6 1301.8h.01M574.7 1300h.01M573.7 1302.4h.01M580.7 1301.8h.01M579.1 1304.3h.01M584.7 1300h.01M583.9 1302.5h.01M590 1295.9h.01M589.4 1299.6h.01M595.3 1299.2h.01M594.6 1303.1h.01M596.4 1303.9h.01M598.9 1301.5h.01M600 1302.7h.01M599.3 1306.1h.01M604.5 1297.9h.01M604.6 1301.8h.01M603.6 1304.9h.01M611.2 1297.1h.01M609.1 1301.3h.01M611.2 1305.9h.01M615.4 1299.1h.01M615.4 1303.7h.01M614.6 1306.9h.01M618.7 1302.7h.01M619 1305.7h.01M619.1 1307.6h.01M624.3 1304.5h.01M625.5 1306.7h.01M624.6 1308.9h.01M630.4 1303.1h.01M630.1 1308.2h.01M630.8 1312.7h.01M633.7 1303.4h.01M636.2 1308.3h.01M633.8 1313.7h.01M640.2 1304h.01M638.7 1310.6h.01M639.2 1315.8h.01M644.8 1298.6h.01M646 1303.8h.01M645.8 1310.3h.01M645.7 1312.7h.01M650.2 1297.9h.01M649.2 1302.6h.01M649.2 1307.7h.01M650 1311.2h.01M655.9 1305.3h.01M655.5 1306.6h.01M659.9 1303.8h.01M659.4 1307.1h.01M664.5 1305.4h.01M665.1 1307.5h.01M669.3 1307h.01M669.5 1307.7h.01M674.1 1306.1h.01M674.7 1308.2h.01M680.4 1307.1h.01M681 1308.2h.01M683.7 1305.8h.01M684.6 1308h.01M691.2 1304.5h.01M689.3 1306.4h.01M693.7 1304.9h.01M695.8 1306.2h.01M700.9 1303.7h.01M701.2 1306.1h.01M704 1304.9h.01M705.2 1308.9h.01M709.3 1305.2h.01M710.7 1309.5h.01M713.7 1303.2h.01M714 1306.8h.01M719.9 1299.5h.01M720.7 1301.8h.01M726.5 1302.6h.01M724.7 1303.1h.01M730 1300.8h.01M731.2 1308.5h.01M734.1 1304.9h.01M736.5 1307.2h.01M741.3 1303.8h.01M741.1 1306.5h.01M738.6 1309.9h.01M745.7 1302.6h.01M745 1304.6h.01M751 1302.1h.01M748.9 1306.1h.01M756.4 1303.8h.01M753.9 1306.6h.01M758.9 1302.4h.01M758.9 1304.4h.01M766.4 1302.6h.01M764.3 1307.8h.01M770.3 1306.2h.01M770.3 1308.1h.01M775.5 1304.7h.01M773.8 1308.2h.01M780.2 1308.6h.01M780.2 1309.4h.01M218 1067.1h.01M218 1070.7h.01M285.4 1085.9h.01M285.4 1097.9h.01M352.7 1083.6h.01M420.4 1094.8h.01M488.2 1093.4h.01M556 1097h.01M624.6 1099.2h.01M692 1102.4h.01M759.7 1097h.01M510 1262.7h.01M514.6 1261.5h.01M562.6 1274.2h.01"/>
<path stroke="#0096dc" d="M155 1111.5h.01M155 1126.5h.01M157.3 1150.8h.01M156.2 1157.7h.01M163.1 1165.8h.01M159.6 1173.8h.01M163.1 1188.8h.01M165.6 1237.9h.01M166 1239.4h.01M171.8 1236.2h.01M171.4 1242.6h.01M170.9 1246.1h.01M171.6 1248.7h.01M175.8 1243.9h.01M177.7 1249.8h.01M175.8 1254.1h.01M176.9 1254.6h.01M182.1 1256.1h.01M181.1 1258.8h.01M182.1 1264.9h.01M180.3 1268h.01M187.8 1267.6h.01M187.8 1271.7h.01M186.6 1275.4h.01M186.4 1278.8h.01M191.9 1276.1h.01M191.5 1281.2h.01M192.3 1286.7h.01M190.1 1287.3h.01M191.8 1293.5h.01M196.8 1288.5h.01M195.4 1289.4h.01M196.7 1297.3h.01M197.2 1298.4h.01M197.6 1305.9h.01M201.1 1296.4h.01M202.6 1297.7h.01M200.1 1303.9h.01M201.7 1305.3h.01M201.9 1312.7h.01M205.5 1303.1h.01M205.2 1308.2h.01M207 1313.5h.01M207.3 1319.2h.01M210.3 1311h.01M210.6 1316.4h.01M211.7 1322.1h.01M211.5 1326.2h.01M216.3 1315.9h.01M215.7 1321.4h.01M216.5 1323.2h.01M215.2 1329h.01M218 1331.3h.01M222.6 1322h.01M220.2 1327.3h.01M221.9 1331.2h.01M222 1334.4h.01M220.6 1338.7h.01M226.6 1323.1h.01M226.5 1327.9h.01M226.7 1330.7h.01M226.1 1333.4h.01M228 1337.7h.01M232.5 1322.7h.01M231.9 1328.5h.01M230.8 1333.1h.01M231.7 1337.8h.01M232.6 1341.7h.01M237.1 1326h.01M236.7 1328.6h.01M235.2 1334.7h.01M237.1 1336.7h.01M236.5 1341.8h.01M242.7 1333.1h.01M240.9 1337.4h.01M240.4 1339.7h.01M240.3 1343.2h.01M242.9 1348h.01M241.1 1353.3h.01M245.2 1342.6h.01M247 1347h.01M246.3 1348.7h.01M246.6 1353.6h.01M252 1349.5h.01M250.3 1352.9h.01M252.7 1354.6h.01M255.2 1354.2h.01M257.3 1357.5h.01M257.3 1359.7h.01M261.7 1358.2h.01M262.5 1362.1h.01M262 1364.9h.01M265.9 1358.8h.01M265.2 1363.5h.01M266 1363.8h.01M271.6 1362.5h.01M271.4 1366.2h.01M272.9 1370.2h.01M276.6 1365.4h.01M276.3 1372.6h.01M277.8 1373.7h.01M277.7 1378.4h.01M282.3 1378.2h.01M281.3 1382.4h.01M285.4 1384.3h.01M286.1 1386.5h.01M290.9 1388.8h.01M291 1389.2h.01M290.3 1367.6h.01M290.7 1368.9h.01M295.7 1369h.01M297.3 1370.5h.01M301 1370.8h.01M301.9 1372.2h.01M307 1372.1h.01M306.9 1374.4h.01M310.9 1369.2h.01M312.4 1372.6h.01M312.6 1377h.01M315.4 1372.8h.01M317.6 1375.1h.01M315.2 1380.3h.01M320.5 1371.1h.01M320.1 1375.2h.01M321.7 1380.3h.01M320.3 1384h.01M326.6 1379.9h.01M324.9 1380.7h.01M325.1 1387.9h.01M331.6 1381h.01M331.2 1383.3h.01M329.8 1386.4h.01M335.7 1380.8h.01M335.6 1384.5h.01M336.8 1390h.01M342.3 1382.9h.01M342.5 1384.4h.01M341.6 1392.4h.01M345.1 1382h.01M347.6 1387.7h.01M345.8 1390.5h.01M351 1381.1h.01M350.9 1383.2h.01M352.3 1388.6h.01M357 1379.3h.01M356 1384.5h.01M360.9 1381.2h.01M361.1 1386.8h.01M365.4 1385.7h.01M364.8 1389.8h.01M371.5 1384.7h.01M372.4 1389.7h.01M377.6 1382.1h.01M376.5 1386.8h.01M380.8 1381.5h.01M382.4 1389.5h.01M385.9 1381.6h.01M385.2 1387h.01M391.1 1381.6h.01M391.5 1385.9h.01M391.9 1389.8h.01M395.1 1383h.01M395.3 1389.2h.01M401.1 1386.6h.01M400.9 1387.5h.01M407 1387.4h.01M405.7 1389.5h.01M410.7 1389h.01M409.9 1396.2h.01M415.2 1394h.01M416.3 1398.9h.01M422.1 1396.6h.01M421.3 1399.5h.01M424.9 1395.6h.01M425.1 1400.9h.01M432.3 1391.1h.01M431.2 1393h.01M432.1 1396.8h.01M437.1 1386.8h.01M436.8 1389.3h.01M436.6 1397.1h.01M441.7 1382.2h.01M440.2 1385.9h.01M441.7 1390.6h.01M440.6 1394.2h.01M446.2 1388.8h.01M446.1 1390.1h.01M445.4 1394.3h.01M450.7 1391.5h.01M449.9 1392.6h.01M452.5 1397.2h.01M457.4 1396.5h.01M456.4 1400.2h.01M460.1 1397.8h.01M460.5 1401h.01M467.6 1399.5h.01M467.4 1400.5h.01M471.9 1401.2h.01M472.6 1401.9h.01M476.8 1403.6h.01M476.1 1405.8h.01M481.1 1403.4h.01M480.4 1405.5h.01M484.7 1403.5h.01M485.2 1406.4h.01M490.2 1403.5h.01M492.6 1406.2h.01M495.1 1401h.01M495.5 1403.5h.01M481.4 1400.4h.01M479.9 1403.8h.01M485.9 1402.1h.01M484.3 1406.4h.01M490.5 1401.2h.01M488.5 1403.3h.01M495.5 1402.4h.01M495.6 1403.2h.01M500.2 1400.3h.01M499.5 1403h.01M504.2 1397.5h.01M503.5 1402.3h.01M510.7 1397.1h.01M509.4 1403.4h.01M511.5 1406.2h.01M514.4 1399.9h.01M514.4 1401.7h.01M516.1 1406.5h.01M514 1410.5h.01M520.3 1395.6h.01M520.8 1402h.01M518.7 1405.4h.01M519.3 1408.5h.01M526.2 1396.2h.01M524.3 1399.1h.01M523.8 1402.9h.01M531.1 1396.7h.01M531.5 1401.9h.01M534.3 1391.7h.01M535.5 1397.4h.01M538.8 1392.5h.01M541.1 1399.1h.01M546 1393.6h.01M543.6 1396.7h.01M548.8 1394.8h.01M548.9 1401.1h.01M556.1 1398.8h.01M555.6 1404.4h.01M560.3 1403.3h.01M560.8 1407.2h.01M565.1 1397.6h.01M565.7 1406.9h.01M570 1400.5h.01M571.1 1405.7h.01M574.4 1400.8h.01M575 1404.5h.01M581.3 1403.1h.01M580.4 1404.3h.01M583.9 1403.2h.01M584.7 1407.2h.01M590.8 1406.2h.01M589.6 1407.1h.01M593.9 1405.7h.01M594.7 1410.6h.01M600.8 1407.5h.01M599.4 1412.2h.01M605.1 1405.9h.01M604.3 1407.7h.01M611.4 1402.4h.01M610.9 1410h.01M613.7 1406.5h.01M614 1409.2h.01M618.9 1406.5h.01M620.9 1411.6h.01M623.6 1405.5h.01M625.7 1409.2h.01M631.1 1402.6h.01M629 1408.3h.01M628.6 1412.1h.01M634.1 1413h.01M635.4 1414.6h.01M640.1 1411.6h.01M641.3 1416.6h.01M645.1 1410.7h.01M644.5 1415.1h.01M649.9 1413.2h.01M648.9 1415.7h.01M656.4 1410.5h.01M655.5 1414.4h.01M660.5 1410.9h.01M660.2 1414.5h.01M664.1 1406.7h.01M665.6 1408.5h.01M665.5 1414.5h.01M668.8 1409.5h.01M668.5 1413h.01M670.1 1416.5h.01M675 1408.2h.01M673.9 1415.7h.01M676.3 1420.5h.01M680.6 1411.8h.01M680.2 1419h.01M679.8 1423.8h.01M685.9 1412.8h.01M684.4 1417.3h.01M685.1 1423.8h.01M689.9 1415.4h.01M691.5 1420.3h.01M689 1422.8h.01M695.1 1418.5h.01M696.4 1424h.01M699.6 1420.4h.01M698.8 1424.3h.01M705.9 1419.8h.01M704.6 1423.4h.01M709 1416.5h.01M710.7 1420.5h.01M715.3 1420.1h.01M716.3 1423.3h.01M720.8 1420.3h.01M718.7 1422.3h.01M726.4 1421.2h.01M726 1424.2h.01M728.9 1418.8h.01M729.3 1420.9h.01M731.2 1424.7h.01M735.6 1417.7h.01M734.2 1420h.01M734.4 1424.6h.01M740.1 1412.3h.01M741.5 1418h.01M741.4 1419.4h.01M740.1 1425.2h.01M746.3 1415.1h.01M745.6 1419.1h.01M743.9 1423.3h.01M748.9 1420.6h.01M748.7 1424.8h.01M753.5 1422.9h.01M755.2 1426.5h.01M759.5 1420.2h.01M759.5 1425.1h.01M760.9 1427.9h.01M764.2 1418.5h.01M765 1421.8h.01M766.4 1427.1h.01M770.1 1420.5h.01M771.1 1422.1h.01M769.1 1425.4h.01M774.5 1420.2h.01M773.6 1424.5h.01M774.4 1425.7h.01M780.9 1420.5h.01M779.9 1420.8h.01M778.9 1425.2h.01M783.7 1419.2h.01M785.8 1425.4h.01M786.4 1427.4h.01M790.3 1421.7h.01M790.8 1425.1h.01M789.4 1428.9h.01M795.7 1421.4h.01M796 1426.3h.01M796.4 1431.1h.01M798.8 1424.7h.01M798.7 1431h.01M801.3 1435h.01M804.2 1428.3h.01M805.7 1430.3h.01M803.9 1436h.01M810.7 1423.3h.01M809.8 1426.1h.01M217.8 1153.1h.01M284.9 1193.9h.01M352.8 1214.7h.01M420.8 1224.6h.01M488.5 1223.9h.01M579.2 1420.8h.01M650.1 1427.7h.01M556.2 1233.4h.01M624.2 1232h.01M691.8 1241.9h.01M759.7 1251.2h.01"/>
</g>
<path d="M229.7 1007.2v6.5M229.7 1452.8v-6.5M310.3 1007.2v13M310.3 1452.8v-13M391 1007.2v6.5M391 1452.8v-6.5M471.6 1007.2v13M471.6 1452.8v-13M552.3 1007.2v6.5M552.3 1452.8v-6.5M632.9 1007.2v13M632.9 1452.8v-13M713.6 1007.2v6.5M713.6 1452.8v-6.5M794.2 1007.2v13M794.2 1452.8v-13M149 1096.3h13M826.5 1096.3h-13M149 1185.4h13M826.5 1185.4h-13M149 1274.6h13M826.5 1274.6h-13M149 1363.7h13M826.5 1363.7h-13M149 1051.8h6.5M826.5 1051.8h-6.5M149 1140.9h6.5M826.5 1140.9h-6.5M149 1230h6.5M826.5 1230h-6.5M149 1319.1h6.5M826.5 1319.1h-6.5M149 1408.2h6.5M826.5 1408.2h-6.5" stroke="#000" stroke-width="4" fill="none"/>
<rect x="149" y="1007.2" width="677.5" height="445.6" fill="none" stroke="#000" stroke-width="4.2"/>
<text transform="translate(134.4,1023.2) scale(1,1.1)" text-anchor="end">1.1</text>
<text transform="translate(134.4,1112.3) scale(1,1.1)" text-anchor="end">1.0</text>
<text transform="translate(134.4,1201.4) scale(1,1.1)" text-anchor="end">0.9</text>
<text transform="translate(134.4,1290.6) scale(1,1.1)" text-anchor="end">0.8</text>
<text transform="translate(134.4,1379.7) scale(1,1.1)" text-anchor="end">0.7</text>
<text transform="translate(134.4,1468.8) scale(1,1.1)" text-anchor="end">0.6</text>
<text transform="translate(149,1498.6) scale(1,1.1)" text-anchor="middle">0</text>
<text transform="translate(310.3,1498.6) scale(1,1.1)" text-anchor="middle">1000</text>
<text transform="translate(471.6,1498.6) scale(1,1.1)" text-anchor="middle">2000</text>
<text transform="translate(632.9,1498.6) scale(1,1.1)" text-anchor="middle">3000</text>
<text transform="translate(794.2,1498.6) scale(1,1.1)" text-anchor="middle">4000</text>
<text transform="translate(169.5,1044.2) scale(1,1.1)" class="b">c</text>
<clipPath id="cpd"><rect x="881.3" y="42.5" width="677" height="446.5"/></clipPath>
<g clip-path="url(#cpd)" fill="none" stroke-linecap="round" stroke-width="16.2">
<path stroke="#262626" d="M888.5 317.7h.01M895.4 322.3h.01M897.7 347.7h.01M885 356.9h.01M887.3 340.8h.01M908.1 228.8h.01M916.2 232.3h.01M899.8 194.7h.01M899.6 193.9h.01M903.5 193.3h.01M903 192.3h.01M906.3 191.1h.01M906.6 190.9h.01M910 190.6h.01M910.1 189.6h.01M912.8 189.2h.01M913.7 188.2h.01M916.2 187.8h.01M916.5 187.9h.01M919.9 186.4h.01M920.2 185.4h.01M923 183.6h.01M922.7 184h.01M926.2 183.4h.01M926.1 182.6h.01M929.7 182.2h.01M929.7 182.4h.01M932.9 180.8h.01M933.1 182.3h.01M936.6 179.4h.01M936.6 178.8h.01M939.5 176.3h.01M939.3 179.1h.01M942.8 178.1h.01M943.4 178.8h.01M945.8 179.3h.01M945.9 179.5h.01M949.7 179.4h.01M949 181.6h.01M953 179.4h.01M952.6 178.4h.01M955.6 175.6h.01M955.8 179.6h.01M959.7 177.5h.01M959.7 178.6h.01M962.7 179.4h.01M962.5 181.2h.01M965.7 179.6h.01M966.4 182.6h.01M969.6 179.7h.01M969.1 180h.01M972.4 176.1h.01M972.2 180.4h.01M975.5 177h.01M975.6 178.4h.01M979 178.8h.01M979 181h.01M982.7 178.2h.01M982.4 181.4h.01M985.6 177.6h.01M985.7 176.7h.01M989.1 173h.01M989.2 176.6h.01M992.5 174.1h.01M992.6 176.1h.01M995.7 175.8h.01M995.4 177.2h.01M998.9 175.2h.01M999.1 178.5h.01M1001.8 175.1h.01M1002.4 174.9h.01M1005.5 171.2h.01M1005.5 175.3h.01M1009 171.8h.01M1008.9 174.8h.01M1011.7 174.9h.01M1012.1 176.5h.01M1015.2 174.5h.01M1015.5 178.1h.01M1018.4 174.4h.01M1019 174.1h.01M1021.8 170.8h.01M1021.6 174.6h.01M1025.1 172h.01M1025.9 175.9h.01M1028.9 174.5h.01M1028.5 176.8h.01M1032.5 175.9h.01M1031.8 180.2h.01M1035.5 177.2h.01M1035.1 179.1h.01M1038.9 174.4h.01M1038.5 177.7h.01M1038.9 180.9h.01M1042 178.6h.01M1041.9 184.1h.01M1045.5 182.3h.01M1044.9 186.9h.01M1048.7 184.2h.01M1048.8 187.7h.01M1048.4 191.1h.01M1051.4 184.4h.01M1052.3 189.4h.01M1054.8 181.5h.01M1054.9 187.4h.01M1058.1 184.2h.01M1057.9 189.5h.01M1061.9 187.1h.01M1062 190.5h.01M1064.8 188.5h.01M1065.3 191.9h.01M1068.5 188.9h.01M1068.6 189.2h.01M1071.4 185.5h.01M1071.7 189.5h.01M1074.9 186.9h.01M1075 188.5h.01M1078.5 189.8h.01M1077.7 192.2h.01M1081.1 189.7h.01M1082 192.6h.01M1084.9 190.3h.01M1085.1 189.7h.01M1088.5 186h.01M1088.4 191.5h.01M1091.3 189h.01M1090.9 192.1h.01M1094.4 191.6h.01M1094.7 194.6h.01M1098.1 193.6h.01M1098 197.7h.01M1101.6 194.6h.01M1101.2 194.6h.01M1104.8 191.1h.01M1105 195.8h.01M1108 194.7h.01M1108.2 196.9h.01M1111.3 197.7h.01M1110.9 199.1h.01M1114.6 199h.01M1114.7 201.2h.01M1117.6 200h.01M1117.3 200h.01M1121.4 197.1h.01M1121.3 200.7h.01M1124.3 198.8h.01M1124.8 201h.01M1127.5 201.7h.01M1128.1 204.1h.01M1131.2 202.2h.01M1130.7 205.4h.01M1134.3 202.7h.01M1134.4 202.8h.01M1137.9 200.1h.01M1138 203.4h.01M1140.5 203.4h.01M1140.9 204.2h.01M1144.4 206h.01M1144.7 208h.01M1147.3 208h.01M1147 210.2h.01M1150.9 209.4h.01M1151.3 209.4h.01M1154.2 207.2h.01M1153.8 210.5h.01M1157.6 210.1h.01M1157.3 211.9h.01M1160.6 213.7h.01M1160.7 214.4h.01M1163.9 214.8h.01M1163.7 218.3h.01M1167.6 216.5h.01M1167 216.4h.01M1170.9 213.6h.01M1170.6 216.4h.01M1173.5 214.8h.01M1174.2 216.7h.01M1177.6 216.7h.01M1177.4 218.5h.01M1180.1 216.7h.01M1180.3 219.6h.01M1183.6 216.7h.01M1183.7 215.8h.01M1187.4 212.5h.01M1186.9 216.4h.01M1190.1 214.9h.01M1190 217.2h.01M1194.1 217.4h.01M1194.1 219.7h.01M1197.4 218.5h.01M1197.5 221.3h.01M1200.3 219h.01M1200.7 219.1h.01M1203.9 217.1h.01M1204 219.6h.01M1206.7 218.6h.01M1206.7 220.6h.01M1209.8 222.5h.01M1210.6 223.2h.01M1213.2 223.9h.01M1213.1 226.1h.01M1216.9 225.3h.01M1216.9 224.9h.01M1220.4 222.9h.01M1220.1 227.2h.01M1223.9 225h.01M1223.7 227.3h.01M1227.1 229.3h.01M1226.9 230.6h.01M1230 230.5h.01M1230.3 232.7h.01M1209.8 224.7h.01M1210 225.4h.01M1213.3 222.3h.01M1213.6 225.5h.01M1216.4 224.3h.01M1216.4 225.4h.01M1220.3 227.2h.01M1220.1 228.6h.01M1222.8 227.8h.01M1223.3 231h.01M1226.1 229.1h.01M1226.7 228.6h.01M1229.7 225.5h.01M1230.3 230.2h.01M1233.1 229.8h.01M1233.2 230.9h.01M1236.6 232h.01M1236.7 234.3h.01M1239.7 233.7h.01M1239.8 237.3h.01M1242.9 234.9h.01M1242.7 234.7h.01M1246.5 232.5h.01M1246.5 235.3h.01M1249.2 234.1h.01M1249.4 235.8h.01M1252.6 237.5h.01M1252.4 239.5h.01M1256.2 238.1h.01M1256.2 241.3h.01M1259.5 238.8h.01M1259.3 238.5h.01M1262.5 235.6h.01M1262.7 239.3h.01M1265.8 238.4h.01M1266.3 240.3h.01M1269 240.8h.01M1269.9 241.9h.01M1273 241.8h.01M1272.7 245.1h.01M1276.2 242.9h.01M1276.4 242.4h.01M1279.2 240.8h.01M1279.3 243.1h.01M1282.4 243.4h.01M1282.1 244.4h.01M1286.3 246.2h.01M1285.7 247.9h.01M1289.4 246.7h.01M1289.1 251.3h.01M1292.3 248.2h.01M1292.9 248.2h.01M1295.6 243.9h.01M1295.3 249.4h.01M1299.4 248h.01M1299.2 249.4h.01M1302.3 250.5h.01M1302.9 252.9h.01M1306.1 250.4h.01M1305.6 253.8h.01M1309.2 252h.01M1308.5 251.1h.01M1312 248.6h.01M1311.9 251.8h.01M1315.2 252.2h.01M1315.9 253.6h.01M1319.1 253.2h.01M1318.8 256.6h.01M1322.3 255.1h.01M1322.6 258.6h.01M1325 255.9h.01M1325.7 255.4h.01M1329.1 252.5h.01M1329.1 255.8h.01M1331.7 255h.01M1332.5 256.6h.01M1335.1 258.4h.01M1335.5 259.6h.01M1338.5 259.1h.01M1338.7 263.3h.01M1341.8 259.1h.01M1342.4 259.8h.01M1345.7 256.8h.01M1345.7 260h.01M1348.1 259.7h.01M1348.3 260.8h.01M1352 262.5h.01M1351.7 263.7h.01M1355.5 262.9h.01M1355.4 266.9h.01M1359 263.9h.01M1358.9 264.2h.01M1362.2 261.2h.01M1361.3 264.9h.01M1364.8 264.9h.01M1365.4 266.5h.01M1368.8 267.4h.01M1368.9 268.5h.01M1372 267.9h.01M1371.7 270.2h.01M1375.2 269.5h.01M1374.6 268.5h.01M1378.2 266h.01M1378 270.8h.01M1381.6 269.4h.01M1381.2 271.4h.01M1385.3 272.4h.01M1384.5 273.5h.01M1387.9 272.8h.01M1388.3 275.4h.01M1391.2 273.2h.01M1391.5 273.1h.01M1394.5 270.7h.01M1394.6 273.4h.01M1398.1 273h.01M1398.1 274.5h.01M1401 275.5h.01M1401.7 276.9h.01M1404.7 276.3h.01M1404.3 279.5h.01M1408.3 277.3h.01M1407.7 277.5h.01M1411.1 274.3h.01M1411.3 278.2h.01M1414.9 277.3h.01M1415.1 278.4h.01M1417.5 280.2h.01M1418.1 281.6h.01M1420.8 281.5h.01M1420.8 285.2h.01M1424.6 282.8h.01M1424.6 282.6h.01M1427.7 280.6h.01M1428 284.2h.01M1430.8 283.7h.01M1431.1 284.5h.01M1434.2 286.8h.01M1434.5 288.1h.01M1437.9 288.1h.01M1437.7 291.1h.01M1440.6 288.7h.01M1441.1 289h.01M1444.5 285.9h.01M1444.2 290.7h.01M1447.8 289.6h.01M1447.7 291.5h.01M1450.6 291.9h.01M1451.1 292.1h.01M1454.6 292.7h.01M1454 295.3h.01M1458 293.5h.01M1457.9 293.1h.01M1460.8 290.5h.01M1460.9 293.6h.01M1464.5 293.4h.01M1463.8 294.5h.01M1467.1 296.3h.01M1467.2 297.7h.01M1470.8 297.4h.01M1470.6 300.5h.01M1474.2 298.5h.01M1473.6 297.6h.01M1477 295.6h.01M1477.6 299.4h.01M1480.5 299.3h.01M1480.8 301h.01M1484.4 301.9h.01M1484.4 302.7h.01M1487.5 302.2h.01M1487 307h.01M1490.8 304.3h.01M1490.1 304.6h.01M1493.9 302.1h.01M1493.7 304.8h.01M1497.3 304.3h.01M1497 306.5h.01M1500 307.6h.01M1499.9 307.8h.01M1504 308.7h.01M1503.6 311.1h.01M1506.9 309.7h.01M1507.1 309.1h.01M1510.1 307.6h.01M1510.7 309.9h.01M1513.5 311.3h.01M1513.5 311h.01M1516.8 313.2h.01M1516.9 312.4h.01M1520.4 314.4h.01M1520.2 315.4h.01M1523.6 315.3h.01M1523.2 314.3h.01M1526.7 314.3h.01M1526.5 314.3h.01M899.6 212h.01M900.1 211h.01M903.4 212.5h.01M903.7 211.5h.01M906.3 213.1h.01M907 213.8h.01M909.8 213.6h.01M909.7 212.6h.01M913.6 212.2h.01M912.9 213.1h.01M916.9 214.5h.01M916.5 213.6h.01M919.9 215.1h.01M919.6 214.1h.01M922.8 215.6h.01M922.9 215.8h.01M926.8 216.1h.01M926.3 215.1h.01M929.5 215.8h.01M929.9 215.6h.01M932.5 215h.01M932.7 214.5h.01M936.7 214.3h.01M936.6 213.7h.01M939.1 213h.01M939.5 214.6h.01M943.3 211.8h.01M942.5 210.8h.01M946.1 206.6h.01M946.2 209.8h.01M949.7 207.7h.01M949.6 209.7h.01M952.4 209.5h.01M952.5 211.4h.01M956.1 209.4h.01M956.5 212.4h.01M959.5 209.2h.01M959.2 208.9h.01M963.1 205.5h.01M963 208.6h.01M965.9 207.6h.01M966.3 207.9h.01M969.4 208.8h.01M968.8 209.5h.01M972.2 208.6h.01M972.5 209.9h.01M975.9 208.9h.01M975.7 207.9h.01M979 205.9h.01M979.6 208.5h.01M982.3 208.1h.01M982.5 209h.01M985.7 210.6h.01M986 212.3h.01M988.9 211.1h.01M989.5 214.3h.01M992.5 211.2h.01M992.2 212.2h.01M995.9 207h.01M996 211.2h.01M998.6 209.5h.01M999.3 210.8h.01M1002.1 211.4h.01M1002.6 211.6h.01M1006.1 211.1h.01M1005.9 213.1h.01M1009.1 211.1h.01M1008.8 210.1h.01M1012.4 210.1h.01M1012.1 211.5h.01M1015.9 211.7h.01M1015.8 213.9h.01M1019.1 214.9h.01M1018.3 216.6h.01M1052.3 286.5h.01M1223.1 301.5h.01M1342.7 139.3h.01M1513.9 203.5h.01M1394.6 335h.01M1000.6 43.2h.01M1171.8 84.7h.01"/>
<path stroke="#e6002d" d="M883.8 241.5h.01M886.2 253.1h.01M897.7 275h.01M890.8 296.9h.01M883.8 290h.01M895.5 205.7h.01M895.2 205.7h.01M898.2 207.5h.01M898.3 206.5h.01M902.1 204.9h.01M901.8 209.3h.01M905.3 208.5h.01M905.5 211.5h.01M908.1 209.2h.01M908.6 213.9h.01M911.6 210h.01M911.8 215.3h.01M915.1 210.8h.01M914.9 212.8h.01M918.3 206.2h.01M919 209.3h.01M918.5 212.5h.01M922 208.2h.01M921.3 214.1h.01M925.1 208.8h.01M924.7 212.2h.01M924.7 215.6h.01M928.7 210.4h.01M928.5 213.9h.01M928.8 217.4h.01M931.2 208.8h.01M931.4 213.2h.01M935.3 200.3h.01M934.9 205.7h.01M935.3 211.1h.01M938.6 198.6h.01M938 203.4h.01M938.7 208.2h.01M941.7 200.5h.01M941.6 204h.01M941.1 207.4h.01M945.2 200.2h.01M944.9 204h.01M944.6 207.8h.01M948.5 201.4h.01M948.5 201.4h.01M951.8 198.2h.01M951.7 200.9h.01M954.5 200.1h.01M954.5 202.3h.01M957.8 203h.01M957.7 203.7h.01M961.6 203.8h.01M961 205.9h.01M964.8 204.6h.01M964.3 204.7h.01M967.5 201h.01M967.9 206h.01M971 204.8h.01M971.3 206.1h.01M974.8 205.7h.01M974.8 209.5h.01M978.4 207.5h.01M977.4 212.1h.01M981.4 207.9h.01M981 207.9h.01M984.6 202.2h.01M984.2 207.1h.01M987.6 204.4h.01M987.7 204.8h.01M991 204.5h.01M991.2 204.8h.01M994.4 203.4h.01M994.2 206.8h.01M997.9 202.4h.01M997.6 202.5h.01M1001.2 196.9h.01M1001 200.1h.01M1001.4 203.3h.01M1004 201.6h.01M1004.7 203.4h.01M1008 205.6h.01M1007.5 206.8h.01M1011.4 207.4h.01M1010.9 210.5h.01M1014.3 209.2h.01M1014 208.2h.01M899.9 191.8h.01M900.4 191.4h.01M903.8 192h.01M903.1 193.2h.01M906.4 191.3h.01M906.7 194h.01M910 189.1h.01M910.1 191.5h.01M913.1 182.2h.01M912.8 186.4h.01M913.1 190.7h.01M916.8 181.9h.01M916.5 186.5h.01M916.5 191.1h.01M919.4 181.5h.01M920 186.4h.01M919.3 191.4h.01M923.6 179.4h.01M923.5 185.3h.01M923 191.1h.01M926.7 176.2h.01M926.4 181.7h.01M926.6 187.3h.01M929.7 170.6h.01M929.9 175.4h.01M929.7 180.3h.01M929.8 185.2h.01M933.5 168.7h.01M933.1 173.7h.01M933.1 178.7h.01M932.6 183.7h.01M936 170.9h.01M936.6 175.4h.01M936.1 180h.01M939.7 171.6h.01M939.9 174.6h.01M939.1 177.6h.01M942.6 169.9h.01M942.7 173.7h.01M945.9 162.5h.01M945.8 167.9h.01M945.9 173.3h.01M949.8 162.8h.01M949.7 167.7h.01M949.4 172.6h.01M952.9 163.9h.01M952.9 169h.01M952.5 174.2h.01M956.6 165.1h.01M956.1 170.4h.01M956.5 175.8h.01M959.6 166.2h.01M959.5 169.5h.01M959.3 172.7h.01M962.9 162.9h.01M962.4 167.7h.01M963.2 172.5h.01M966.4 166.8h.01M966.5 170h.01M965.8 173.2h.01M969.3 169.7h.01M968.9 172.7h.01M969 175.7h.01M972.7 169.2h.01M972.5 172.8h.01M972.8 176.4h.01M975.6 168.8h.01M975.4 173.5h.01M979 164.6h.01M979.6 168.4h.01M979.1 172.2h.01M982.4 165.7h.01M982.9 168.9h.01M982.8 172.2h.01M985.5 168.2h.01M985.4 172.5h.01M989.1 167.9h.01M989 171.6h.01M989.3 175.2h.01M992.3 167.7h.01M992 171.9h.01M996 163.9h.01M996 167.3h.01M995.6 170.7h.01M998.6 165.9h.01M999.2 170.9h.01M1002.2 168.4h.01M1002.1 172.8h.01M1005.5 169.7h.01M1005.3 174.3h.01M1008.6 169.8h.01M1008.6 170.3h.01M1011.7 164.6h.01M1012.6 168.4h.01M1012.4 172.2h.01M1015.4 167.7h.01M1015.1 170.8h.01M1015.3 174h.01M1019.2 169.9h.01M1019.1 173.9h.01M1019.2 177.8h.01M1022.4 171.8h.01M1021.9 176.5h.01M1021.8 181.2h.01M1025.5 175.1h.01M1025.1 178.3h.01M1028.4 173.2h.01M1029 176.4h.01M1029.1 179.6h.01M1032.1 177.6h.01M1031.8 179.8h.01M1035.4 180.8h.01M1035.1 183.3h.01M1039 180.9h.01M1038.5 186.6h.01M1041.9 181h.01M1042 183.8h.01M1045.2 177.3h.01M1044.7 181.7h.01M1044.8 186.1h.01M1048.5 179.7h.01M1048.6 183.4h.01M1048.6 187h.01M1052.1 182.8h.01M1051.4 188.2h.01M1055.2 183.1h.01M1055.4 188.3h.01M1058.1 181.8h.01M1058.4 184.8h.01M1062.1 177.9h.01M1061.7 183h.01M1064.5 180.6h.01M1064.9 182.7h.01M1068 181.5h.01M1067.8 183.3h.01M1072 184.6h.01M1071.7 187.4h.01M1075.2 187.3h.01M1074.6 187.9h.01M1077.8 185.6h.01M1078.3 190.3h.01M1081.9 189.6h.01M1081.2 192.6h.01M1084.7 195.1h.01M1084.7 198h.01M1087.9 195.1h.01M1088.3 198.3h.01M1088.2 201.6h.01M1091.2 195h.01M1091.2 198.4h.01M1094.9 190.6h.01M1094.6 194.1h.01M1094.3 197.5h.01M1098.1 191.2h.01M1098.2 196.1h.01M1101.6 193.2h.01M1101.7 197.6h.01M1104.5 193.3h.01M1104.9 198.6h.01M1107.5 193.3h.01M1108.3 195.4h.01M1111.7 190.9h.01M1111.4 193.5h.01M1115 193.3h.01M1114.9 192.7h.01M1118.2 193.6h.01M1117.5 194h.01M1121.2 193.7h.01M1121.5 195.1h.01M1124.1 193.9h.01M1124.2 192.9h.01M1128.1 191.7h.01M1128 193.1h.01M1130.5 192.8h.01M1130.6 193.4h.01M1134.8 194.6h.01M1134.1 194.6h.01M1137.5 195.1h.01M1138 197.8h.01M1140.7 196.3h.01M1140.5 195.3h.01M1143.9 194.1h.01M1144.3 197.1h.01M1147.9 197.2h.01M1147.4 198h.01M1150.9 199.8h.01M1150.3 200.4h.01M1154.1 200.9h.01M1154.2 202.8h.01M1157.7 201.8h.01M1157.9 200.8h.01M1161.2 199.7h.01M1160.6 201.2h.01M1164.3 201h.01M1163.7 201.6h.01M1167.3 203h.01M1167.8 204.3h.01M1170.5 203.5h.01M1171 205.9h.01M1174 204.4h.01M1174.2 203.6h.01M1177.7 202h.01M1177.7 204.5h.01M1180.7 204.9h.01M1180.7 205h.01M1183.7 206.8h.01M1184 206.2h.01M1186.7 207.7h.01M1187.2 209.2h.01M1190.2 208h.01M1190.3 207h.01M1193.7 203.5h.01M1193.7 207.8h.01M1197.3 205.5h.01M1197 208.2h.01M1200 207h.01M1200 210.2h.01M1203.1 207.1h.01M1203.5 212.7h.01M1207.2 207.9h.01M1206.9 211h.01M1210.5 205.9h.01M1210.4 209.5h.01M1209.8 213.1h.01M1213.7 210.3h.01M1213.4 215.7h.01M1217.3 215.3h.01M1216.4 220h.01M1219.7 217.6h.01M1220 221.2h.01M1220 224.9h.01M1223.9 218.7h.01M1223.2 223.5h.01M1226.2 216.4h.01M1226.5 220.5h.01M1226.8 224.5h.01M1227.1 228.6h.01M1230.4 219.7h.01M1230.1 224h.01M1229.9 228.4h.01M1229.6 232.8h.01M1210.1 207.9h.01M1210.3 213.2h.01M1213.1 211.2h.01M1212.8 214.8h.01M1216.9 215.2h.01M1216.6 217.7h.01M1219.7 217.3h.01M1220 220.8h.01M1223.2 218.7h.01M1223.1 218.4h.01M1226.8 218h.01M1226.2 221.3h.01M1230 221.8h.01M1230.1 224.3h.01M1232.9 226.3h.01M1233.2 230.9h.01M1236 229.7h.01M1236.7 233.9h.01M1236.5 238h.01M1236 242.1h.01M1240 230.3h.01M1240 231h.01M1242.5 226.1h.01M1243 230.6h.01M1246.7 228.5h.01M1245.9 230.7h.01M1249.5 231h.01M1249.7 232h.01M1252.9 231.3h.01M1253.1 233.9h.01M1256 231.5h.01M1255.9 231.1h.01M1259.2 226.5h.01M1259.3 231.7h.01M1262.7 227.4h.01M1262.8 232h.01M1266.4 228.4h.01M1266.5 234.3h.01M1269.1 227.1h.01M1269.3 231.4h.01M1269.1 235.7h.01M1273 226.8h.01M1273 230.1h.01M1272.7 233.5h.01M1275.7 226.4h.01M1275.7 230.4h.01M1276.2 234.3h.01M1279 233.5h.01M1279.1 235.7h.01M1282.8 239.2h.01M1283.1 239.1h.01M1286.1 242.4h.01M1286.2 242.6h.01M1289.6 243.2h.01M1288.9 242.2h.01M1292.4 241h.01M1292.9 242.8h.01M1295.8 243.5h.01M1295.8 243.5h.01M1298.9 245.1h.01M1299.4 245.2h.01M1302.9 245.5h.01M1302.1 248h.01M1305.8 246.4h.01M1305.5 245.8h.01M1308.7 242.1h.01M1309.1 246.7h.01M1312.3 244.7h.01M1312.2 246.7h.01M1316 246.6h.01M1315.4 249.3h.01M1319 246.3h.01M1318.5 251.8h.01M1321.9 246.1h.01M1322.6 249.1h.01M1326 242.4h.01M1325.7 245.9h.01M1325.9 249.3h.01M1328.9 244.7h.01M1328.8 249.9h.01M1332.5 248.3h.01M1331.8 252.6h.01M1335.2 249.8h.01M1335.4 254.7h.01M1338.5 250.6h.01M1338.4 252.5h.01M1342.3 247.2h.01M1342.4 252.8h.01M1345.7 249.3h.01M1345.7 253.6h.01M1348.3 253.1h.01M1348.5 256.2h.01M1351.8 254.1h.01M1351.8 258.3h.01M1355.2 255.4h.01M1354.8 256h.01M1358.5 251.7h.01M1358.5 255h.01M1358.4 258.2h.01M1361.4 256.3h.01M1362 258.8h.01M1364.9 258.8h.01M1365.1 261.5h.01M1368.7 259.9h.01M1368.1 264.6h.01M1371.8 262h.01M1372.1 261.9h.01M1374.5 259.3h.01M1374.7 262.5h.01M1377.8 260h.01M1377.9 263h.01M1381.5 263.2h.01M1381.3 266.3h.01M1384.9 264h.01M1385.2 268.1h.01M1387.8 263.8h.01M1387.8 264.7h.01M1391.1 260.6h.01M1391.8 265.6h.01M1395.3 263.3h.01M1394.9 265.8h.01M1398 265.9h.01M1398.5 268.1h.01M1401.4 265.4h.01M1401.2 270.6h.01M1404.8 266.3h.01M1404.9 269.1h.01M1408.1 262.7h.01M1408.2 266.4h.01M1407.9 270.2h.01M1411 266.2h.01M1411.5 271.4h.01M1414.6 270.6h.01M1415.1 273.2h.01M1417.9 272.6h.01M1417.7 275.9h.01M1421 274h.01M1421.3 273.5h.01M1424.3 271.6h.01M1424.6 274.4h.01M1427.7 274.9h.01M1427.7 275.2h.01M1431.3 277h.01M1431.6 277h.01M1434.3 277.8h.01M1434.3 280.1h.01M1437.8 278.6h.01M1437.3 277.6h.01M1441.5 275.7h.01M1441 278.3h.01M1444.8 277.8h.01M1444 279h.01M1447.6 280.7h.01M1447.5 280.7h.01M1450.5 281.2h.01M1450.7 284.4h.01M1454.1 282h.01M1453.7 282.1h.01M1457.3 277.6h.01M1457.3 282.7h.01M1460.6 280h.01M1460.6 284.3h.01M1464.2 283.9h.01M1464 286.2h.01M1467 284.3h.01M1467.2 288.3h.01M1471 285h.01M1470.8 285.8h.01M1473.6 281.8h.01M1474 285.6h.01M1477.2 285.3h.01M1477.7 285.9h.01M1480.7 288.8h.01M1480.1 289.8h.01M1484.4 290.6h.01M1483.9 291.9h.01M1487.3 292.2h.01M1486.9 291.2h.01M1490.6 289.5h.01M1490.1 291h.01M1493.4 290.6h.01M1493.4 290.7h.01M1497.2 292.2h.01M1497.5 292.3h.01M1500.9 293.2h.01M1500.6 293.6h.01M949.6 277.3h.01M1017.7 277.3h.01M949.6 310.8h.01M1084.6 272.7h.01M1152.7 272.7h.01M1220.8 277.3h.01M1287.8 299.2h.01M1354.9 311.9h.01M1423.5 324.6h.01M1490.8 341.9h.01"/>
<path stroke="#0096dc" d="M887.3 260h.01M886.2 329.2h.01M900 331.5h.01M891.9 326.9h.01M886.2 340.8h.01M898.6 239.7h.01M899.1 240h.01M902 230.9h.01M902.6 234.6h.01M901.9 238.2h.01M905.8 231.5h.01M905.8 237h.01M905.3 242.5h.01M908.3 238.3h.01M908.6 241.9h.01M908.9 245.5h.01M912.4 244.8h.01M911.7 250.6h.01M914.9 245.5h.01M915.1 249.1h.01M915.4 252.7h.01M918.7 245.7h.01M918.5 249.7h.01M922.1 242.1h.01M921.4 246.3h.01M922.4 250.5h.01M924.9 245.1h.01M925.2 248.5h.01M925 251.9h.01M928.9 247.2h.01M929 252.9h.01M931.7 242.5h.01M931.6 247.5h.01M931.9 252.5h.01M935.4 241.1h.01M935 246.2h.01M938.7 240.4h.01M938.4 245.6h.01M941.3 246.6h.01M941.3 246.2h.01M944.9 247.5h.01M945.2 246.5h.01M948.1 245.2h.01M948.8 246.8h.01M951.7 242.8h.01M951.2 242.2h.01M955.2 240.9h.01M955.2 243.8h.01M958.2 246.3h.01M958.3 246.2h.01M961.1 249.6h.01M961.6 249.8h.01M965.3 251.6h.01M965 253.2h.01M968.2 248.3h.01M968.5 247.3h.01M971.2 246h.01M971.5 247.2h.01M974.5 249.1h.01M974.5 248.6h.01M978 251.1h.01M977.9 250.1h.01M890.5 281.3h.01M890.6 280.3h.01M893.9 284.3h.01M893.7 286.4h.01M897.2 288.2h.01M897 292.5h.01M900.4 292.8h.01M901.1 293h.01M904.1 292.6h.01M904.1 296.7h.01M907.1 297.2h.01M907 299.1h.01M910.3 301.2h.01M910.7 303h.01M914.1 304.3h.01M914.1 307.6h.01M917.5 299.2h.01M917.3 302h.01M920.2 295.5h.01M920 298.9h.01M920.3 302.3h.01M924.2 300.1h.01M923.3 303h.01M927.5 303.5h.01M927.5 305.1h.01M930.2 302.1h.01M930.4 305.7h.01M933.7 286.1h.01M933.5 290h.01M936.9 282.1h.01M937.3 285.9h.01M936.6 289.8h.01M940.4 285.9h.01M940.6 288.6h.01M943.3 288.8h.01M943.7 290.2h.01M946.9 289.7h.01M946.8 291.7h.01M949.9 290.8h.01M950.1 289.8h.01M953.7 291.3h.01M953.2 291.4h.01M956.9 293.9h.01M956.6 293.1h.01M960 295.7h.01M959.9 295.7h.01M963.4 297.4h.01M963.5 299.1h.01M966.5 297.1h.01M966.5 296.1h.01M969.5 293.7h.01M969.8 294.8h.01M973.4 295.4h.01M973.3 294.5h.01M976.4 296.4h.01M976.5 296.1h.01M980.3 297.2h.01M979.6 298.4h.01M983.6 289.3h.01M982.9 293.9h.01M986.3 276.3h.01M986.7 281.9h.01M986.1 287.4h.01M986.6 292.9h.01M990 281.7h.01M989.8 287.6h.01M989.9 293.4h.01M992.6 287h.01M993.5 291.5h.01M992.8 296h.01M996 287.6h.01M996.7 293.5h.01M999.7 284.3h.01M999.9 283.9h.01M1003.4 281h.01M1003 287h.01M1006.7 283.6h.01M1005.8 288.9h.01M1009.6 284.4h.01M1009.8 288.8h.01M1009.8 293.2h.01M1012.5 286.7h.01M1013 291.1h.01M1012.4 295.4h.01M1016.6 289.3h.01M1016.6 291.8h.01M1019.1 287.9h.01M1019.9 291.5h.01M1023.2 291.9h.01M1022.3 291.2h.01M1025.9 293.1h.01M1025.8 292.1h.01M1029.3 294.8h.01M1029.3 295.7h.01M1032.5 296.7h.01M1032.8 295.7h.01M1036.1 295.1h.01M1036 297.6h.01M1039.7 299.1h.01M1039.3 300.3h.01M1042.1 302.1h.01M1042.9 303.8h.01M1045.5 300.5h.01M1046.1 305.3h.01M1049.6 298.1h.01M1049.3 299.8h.01M1052.8 291.5h.01M1052.2 294.7h.01M1052.7 297.9h.01M1055.6 291.8h.01M1056.2 296.9h.01M1059.1 295.9h.01M1058.7 298.2h.01M1062.2 296h.01M1062 299.1h.01M1066 296.2h.01M1066 295.2h.01M1068.7 294.8h.01M1068.8 295.5h.01M1072.5 297.8h.01M1072.7 297.2h.01M1075.8 299.8h.01M1075.8 300.2h.01M1079.3 301.5h.01M1078.6 304.6h.01M1082.6 303.1h.01M1082.6 303h.01M1085.7 300.8h.01M1085.2 305.2h.01M1089.1 302.8h.01M1088.9 307.9h.01M1092.3 305.8h.01M1091.6 309.1h.01M1092.5 312.4h.01M1095.8 306.7h.01M1095.3 310.2h.01M1095.7 313.7h.01M1098.3 304.8h.01M1098.7 308h.01M1101.8 299.9h.01M1102.1 303.3h.01M1105.1 301.7h.01M1105.6 302.1h.01M1108.7 302.6h.01M1108.3 303h.01M1111.4 302.6h.01M1111.9 305.2h.01M1115.4 302.6h.01M1115.4 301.6h.01M1118.4 300.1h.01M1118.4 301.6h.01M1121.8 302.4h.01M1121.4 302.6h.01M1125.5 304.8h.01M1125.1 306.1h.01M1128.8 304.7h.01M1127.9 307.9h.01M1128.6 311.2h.01M1132.1 305.2h.01M1131.8 309.2h.01M1135 300.8h.01M1135.3 304h.01M1134.5 307.3h.01M1137.9 300.8h.01M1138.8 301.7h.01M1142 302.4h.01M1141.1 303.5h.01M1144.4 302.7h.01M1144.5 304.7h.01M1147.8 303h.01M1148.5 302h.01M1151.5 300.4h.01M1151.6 302.3h.01M1154.4 302.4h.01M1155.2 302.6h.01M1158.1 304.8h.01M1158.5 304.1h.01M1161.3 306.7h.01M1161.2 308.5h.01M1164.7 308.6h.01M1165 308.2h.01M1167.6 305.4h.01M1167.6 309.2h.01M1171.8 307.8h.01M1171.1 310.3h.01M1175 309.6h.01M1174.4 312.7h.01M1177.9 310.3h.01M1177.9 315.4h.01M1181 311.7h.01M1181.5 313.6h.01M1184.9 306.9h.01M1184 310h.01M1184.4 313.1h.01M1187.9 308.2h.01M1187.8 308.5h.01M1191.3 307.5h.01M1191.2 307.5h.01M1194.1 306.5h.01M1194.6 308.8h.01M1197.3 305.4h.01M1197.2 305.2h.01M1200.7 299.4h.01M1201.4 302.7h.01M1200.6 306h.01M1203.8 299.9h.01M1204.1 303.8h.01M1207.8 305.7h.01M1207.3 309.3h.01M1210.9 311h.01M1211.3 314.1h.01M1214 315.1h.01M1214.2 314.4h.01M1217.5 314.3h.01M1217.5 317.6h.01M1221.1 316.4h.01M1220.5 316.6h.01M1224 317.3h.01M1224.5 317.1h.01M1227.3 317.1h.01M1227.2 317.3h.01M1209.7 317h.01M1210.4 319h.01M1213.5 317.4h.01M1213.7 316.4h.01M1216.5 315.8h.01M1216.9 316.7h.01M1219.9 317.4h.01M1219.7 317.1h.01M1223 318.5h.01M1223.3 319.1h.01M1226.8 318.9h.01M1226.8 320.4h.01M1229.5 319.7h.01M1229.8 318.7h.01M1233.2 316.1h.01M1233.2 320.4h.01M1236.7 317.4h.01M1235.9 323.3h.01M1239.9 319.1h.01M1239.9 323.3h.01M1240.1 327.4h.01M1242.7 319h.01M1242.6 324.7h.01M1242.8 330.3h.01M1246.4 320.8h.01M1246.3 324.8h.01M1245.9 328.7h.01M1249.9 318.6h.01M1249.3 322.8h.01M1249.4 327.1h.01M1252.7 323.3h.01M1253 327.1h.01M1255.8 326.9h.01M1256.2 327.4h.01M1259.4 328.1h.01M1259.2 330.4h.01M1262.9 329.3h.01M1263 328.3h.01M1265.8 326.9h.01M1266.5 328.7h.01M1269.2 324.9h.01M1269.3 325.6h.01M1273 324.1h.01M1272.3 325.4h.01M1275.7 325.3h.01M1275.8 327.6h.01M1279.2 326.6h.01M1279.7 325.9h.01M1282.5 325.7h.01M1282.9 327.1h.01M1286.3 328.5h.01M1286 328.1h.01M1289.4 330.5h.01M1289.7 329.5h.01M1292.3 332.1h.01M1292.3 331.7h.01M1296.2 333.6h.01M1295.7 332.6h.01M1298.8 332.4h.01M1298.8 334.1h.01M1302.3 334.6h.01M1302.3 333.6h.01M1305.5 333.4h.01M1305.7 332.5h.01M1309.4 332.1h.01M1309.2 332.9h.01M1312.3 331.9h.01M1311.8 330.9h.01M1315.9 330h.01M1315.4 330.8h.01M1318.9 331.4h.01M1318.9 330.9h.01M1322.3 331.5h.01M1322.4 332.7h.01M1325.8 332.2h.01M1325.3 334.4h.01M1329.1 333.3h.01M1328.7 332.4h.01M1331.7 331.9h.01M1331.6 333.3h.01M1335.4 335h.01M1334.9 334.4h.01M1338.7 332.1h.01M1339.2 334.6h.01M1342.2 331.2h.01M1341.9 336.2h.01M1345.6 334.2h.01M1345.5 335.2h.01M1348.7 331.1h.01M1349 334.1h.01M1348.3 337.2h.01M1351.6 335.3h.01M1351.6 338.7h.01M1354.9 338.3h.01M1354.9 338.3h.01M1358.2 338.7h.01M1358.4 340.3h.01M1361.5 338.9h.01M1361.6 337.9h.01M1364.7 336.2h.01M1364.7 337.7h.01M1367.9 338.6h.01M1368.4 337.6h.01M1371.5 338.5h.01M1371.6 338.6h.01M1374.6 338.9h.01M1374.7 341.3h.01M1378.1 340.2h.01M1377.9 339.3h.01M1381.6 338.7h.01M1381.8 340.6h.01M1385.2 341.7h.01M1384.8 342h.01M1388.4 344.1h.01M1388.1 344h.01M1391.2 343.6h.01M1391.9 345.3h.01M1395.1 343.1h.01M1394.5 342.1h.01M1397.8 339.7h.01M1398.2 342.6h.01M1401.3 341.2h.01M1401.9 341.1h.01M1404.9 341.7h.01M1404.4 342h.01M1408.4 342.2h.01M1408 344.9h.01M1411 346.5h.01M1411.8 345.5h.01M1414.4 347h.01M1415.1 348.2h.01M1417.9 350.1h.01M1418.2 349.1h.01M1421.1 351.1h.01M1420.9 350.1h.01M1424.6 352h.01M1424.9 352.7h.01M1428.2 352.9h.01M1427.9 351.9h.01M1431 352.4h.01M1431.3 352.8h.01M1434.4 353.8h.01M1434.7 352.8h.01M1437.6 353.7h.01M1437.9 352.7h.01M1440.7 353.6h.01M1441 353.5h.01M1444.5 353.4h.01M1443.8 352.4h.01M1447.7 353.2h.01M1447.9 353.1h.01M1451 355.1h.01M1451 354.1h.01M1454 356.1h.01M1453.9 355.1h.01M1457.7 357.1h.01M1457.5 357h.01M1461 358.1h.01M1461.2 357.1h.01M1463.9 357.8h.01M1463.7 358.1h.01M1467.6 359.6h.01M1467.8 358.6h.01M1470.6 359.2h.01M1470.3 358.2h.01M1474 358.8h.01M1473.7 360h.01M1477.4 359.4h.01M1477.4 358.4h.01M1480.9 359.4h.01M1480.1 359.9h.01M1484 362.4h.01M1483.4 361.4h.01M1486.9 363.8h.01M1487.1 362.8h.01M1490.3 364.5h.01M1490.7 364.2h.01M1493.7 365.1h.01M1494 364.1h.01M1497.5 364.6h.01M1497.4 364.8h.01M1500.6 366.5h.01M1500.1 365.5h.01M1504.1 367.1h.01M1503.5 367.1h.01M1507.5 366.4h.01M1507.3 368.7h.01M1509.9 365.4h.01M1509.8 364.4h.01M1513.3 362.6h.01M1514 363.3h.01M1516.9 362.2h.01M1516.8 362.3h.01M1520.2 362.9h.01M1520.7 362.6h.01M1523.1 363.7h.01M1523.4 364.1h.01M1526.4 364.6h.01M1526.5 363.6h.01M1530.3 365.4h.01M1530.6 364.4h.01M949.6 356.5h.01M949.6 418.1h.01M1017 385.8h.01M1084.6 404.9h.01M1152.7 401.2h.01M1220.8 402.6h.01M1287.8 420.4h.01M1354.9 411.2h.01M1423.5 423.2h.01M1490.8 433.1h.01"/>
</g>
<path d="M961.9 42.5v6.5M961.9 489v-6.5M1042.5 42.5v13M1042.5 489v-13M1123.1 42.5v6.5M1123.1 489v-6.5M1203.7 42.5v13M1203.7 489v-13M1284.3 42.5v6.5M1284.3 489v-6.5M1364.9 42.5v13M1364.9 489v-13M1445.5 42.5v6.5M1445.5 489v-6.5M1526.1 42.5v13M1526.1 489v-13M881.3 170.1h13M1558.3 170.1h-13M881.3 297.6h13M1558.3 297.6h-13M881.3 425.2h13M1558.3 425.2h-13M881.3 106.3h6.5M1558.3 106.3h-6.5M881.3 233.9h6.5M1558.3 233.9h-6.5M881.3 361.4h6.5M1558.3 361.4h-6.5" stroke="#000" stroke-width="4" fill="none"/>
<rect x="881.3" y="42.5" width="677" height="446.5" fill="none" stroke="#000" stroke-width="4.2"/>
<text transform="translate(901.8,79.5) scale(1,1.1)" class="b">d</text>
<clipPath id="cpe"><rect x="881.3" y="525.5" width="677" height="445.7"/></clipPath>
<g clip-path="url(#cpe)" fill="none" stroke-linecap="round" stroke-width="16.2">
<path stroke="#262626" d="M886.2 777.7h.01M883.8 791.5h.01M903.5 679.6h.01M906.9 680.8h.01M917 655h.01M917 655.5h.01M920.6 655.7h.01M920.7 654.8h.01M924.1 655h.01M923.9 655.6h.01M924.3 654.2h.01M924.6 656.5h.01M927.1 651.3h.01M927.6 655.4h.01M931.3 648h.01M931 650.3h.01M933.8 640.2h.01M934.3 643.6h.01M934.6 647h.01M937.3 640.3h.01M937.1 645.8h.01M940.4 639.4h.01M940.4 644.7h.01M944 639.7h.01M944.5 643h.01M943.6 646.3h.01M947 639.7h.01M947.4 642.6h.01M950.7 636.3h.01M950.8 641.6h.01M953.8 638.8h.01M953.6 640.8h.01M957.6 641h.01M956.9 643.1h.01M960.2 640.8h.01M960.2 644.7h.01M964 640.6h.01M964.3 642.2h.01M967 636.4h.01M967 642.1h.01M970.2 639.5h.01M970.7 643.3h.01M973.7 642.5h.01M973.6 645.6h.01M977.5 643h.01M977.1 646.3h.01M976.9 649.5h.01M980.1 642.8h.01M980.2 647.2h.01M984 639.4h.01M983.4 643.5h.01M983.6 647.6h.01M986.6 643.8h.01M986.9 648h.01M990.2 646.7h.01M989.7 648.1h.01M993.5 647.1h.01M993.3 649.6h.01M996.7 647.5h.01M996.4 646.5h.01M1000.2 646h.01M1000.3 646.8h.01M1003.6 647.8h.01M1003.8 646.8h.01M1006.9 647.8h.01M1006.5 646.8h.01M1010 647.8h.01M1010.5 646.9h.01M1013.2 647.8h.01M1013.4 646.8h.01M926.1 639.7h.01M926.1 640h.01M929.8 629.5h.01M929.5 633.9h.01M930.3 638.3h.01M932.9 623.6h.01M933.1 628.1h.01M932.9 632.7h.01M933.2 637.2h.01M936.5 629.8h.01M936.2 634h.01M936.9 638.2h.01M939.9 634.5h.01M940.2 640.4h.01M943.5 634.3h.01M943 635.5h.01M946.5 623.8h.01M946.7 628.2h.01M946.7 632.5h.01M949.5 620.7h.01M949.8 625.7h.01M949.3 630.8h.01M953.4 617.6h.01M953.1 622.9h.01M952.8 628.2h.01M956.5 615.8h.01M956.4 619.9h.01M955.8 624h.01M956.2 628.1h.01M959.1 616.9h.01M959.7 621.1h.01M959.6 625.4h.01M962.9 611.7h.01M963 615.7h.01M962.6 619.8h.01M962.5 623.8h.01M965.8 612.6h.01M966.1 617.3h.01M966 622.1h.01M969.1 614.6h.01M969.5 618.5h.01M969.6 622.4h.01M972.4 613.2h.01M972.6 618.2h.01M972.6 623.3h.01M975.9 612.3h.01M976.3 618.2h.01M979.8 606.8h.01M979.8 612.2h.01M979.2 617.5h.01M982.3 607.5h.01M982.9 612.1h.01M983 616.8h.01M986.3 609.3h.01M986.4 613h.01M985.6 616.6h.01M989.7 613h.01M989.5 616.1h.01M989.1 619.1h.01M992.1 616.9h.01M992.6 616.6h.01M996.2 614.8h.01M995.9 617.4h.01M999.2 614.4h.01M999.1 616.6h.01M1002.4 615h.01M1002.4 616.8h.01M1005.6 612.6h.01M1005.8 617.8h.01M1009.1 611.1h.01M1009.5 613.8h.01M1011.9 605.9h.01M1012.4 609.6h.01M1012.2 613.3h.01M1015.8 610h.01M1015.5 614.4h.01M1018.5 612.8h.01M1018.5 615.7h.01M1022.3 613.4h.01M1022 618.5h.01M1025.4 614.8h.01M1025.6 616.8h.01M1028.8 612.9h.01M1028.3 617.9h.01M1032.6 617.1h.01M1032.6 617.9h.01M1035.2 620.7h.01M1035.6 621.1h.01M1038.4 622.5h.01M1038.8 624.7h.01M1041.7 623.8h.01M1041.7 622.8h.01M1045.7 621.4h.01M1045.8 623.5h.01M1048.7 623.8h.01M1048.9 624.2h.01M1052 625.9h.01M1052.3 627.3h.01M1055.3 626.7h.01M1055.6 628.3h.01M1058.3 628h.01M1058.1 627h.01M1062.3 625.7h.01M1061.6 628.4h.01M1064.8 629.7h.01M1065.2 629.7h.01M1068.6 630.1h.01M1068 632.6h.01M1071.7 628.8h.01M1071.8 631.8h.01M1075 628.7h.01M1075.4 629.2h.01M1078.7 625.6h.01M1077.9 629.1h.01M1082.1 628.7h.01M1081.7 630.5h.01M1084.5 631.6h.01M1085.3 631.7h.01M1088.5 632.5h.01M1088.1 635.6h.01M1091.5 633.7h.01M1091.3 632.8h.01M1094.9 631.3h.01M1094.9 634.6h.01M1097.7 634.8h.01M1097.9 636.1h.01M1101.5 637.4h.01M1101.1 638.1h.01M1105.2 638.8h.01M1105.2 640.7h.01M1108.2 640.3h.01M1107.6 639.3h.01M1110.9 640.1h.01M1111 640.8h.01M1115.1 643.4h.01M1114.9 642.4h.01M1117.4 644.9h.01M1118 645h.01M1121.7 645.8h.01M1121.4 646.6h.01M1124.7 646.2h.01M1124.2 645.2h.01M1127.9 643.4h.01M1128 645.6h.01M1130.7 646.2h.01M1130.9 646h.01M1134 647.4h.01M1134.7 647.7h.01M1138.1 647.8h.01M1137.4 649.6h.01M1141.4 648.3h.01M1140.8 647.3h.01M1144.1 645.7h.01M1144.1 648.2h.01M1148.1 648.1h.01M1147.8 648.4h.01M1151 649.9h.01M1151 651h.01M1154.7 650.4h.01M1154.2 652.4h.01M1157.4 652h.01M1157.5 651.4h.01M1160.5 651.6h.01M1160.6 655h.01M1163.8 656.5h.01M1164.2 657.9h.01M1167.2 660.4h.01M1167.5 664h.01M1170.3 660.2h.01M1170.9 665.3h.01M1174.1 660.5h.01M1174.5 660.8h.01M1177.4 657.2h.01M1177.6 659.8h.01M1180.5 658.6h.01M1180.7 660.7h.01M1184 661.5h.01M1183.8 661.8h.01M1187.2 662h.01M1187.2 664.8h.01M1190.7 662.4h.01M1190.9 661.5h.01M1193.9 660.5h.01M1194 662.3h.01M1196.6 662.8h.01M1197 663h.01M1200.9 665h.01M1200.6 665.5h.01M1204 665.9h.01M1203.4 667.8h.01M1207 666.9h.01M1207.2 665.9h.01M1210 664.5h.01M1209.9 667.8h.01M1213.4 670.2h.01M1214.1 669.8h.01M1216.8 672.7h.01M1216.7 671.8h.01M1220.7 674.6h.01M1220.5 675h.01M1224 675.4h.01M1223.9 674.4h.01M1226.9 675.5h.01M1227.3 675.1h.01M1210.3 668.6h.01M1210.2 669.8h.01M1213 671.1h.01M1213.8 670.1h.01M1216.8 672h.01M1216.8 672.5h.01M1220.1 675.6h.01M1220.1 674.6h.01M1223.5 676.2h.01M1223.4 676.1h.01M1226.8 676.9h.01M1226.3 679.7h.01M1229.4 677.9h.01M1230.1 676.9h.01M1232.8 676.4h.01M1233.5 679.4h.01M1236.4 679.1h.01M1236.9 680.2h.01M1239.3 682.8h.01M1239.7 683.1h.01M1243 684.5h.01M1243 687.4h.01M1246.4 686.1h.01M1246.3 685.1h.01M1249.7 681.9h.01M1249.4 684.9h.01M1252.4 684.4h.01M1252.6 683.7h.01M1256.7 683.7h.01M1256.3 683.8h.01M1260 683.7h.01M1259.3 684.6h.01M1262.8 686h.01M1262.4 685h.01M1266.3 686.4h.01M1265.8 687.3h.01M1269.6 690h.01M1269.2 689.7h.01M1272.8 689.2h.01M1272.5 688.9h.01M1276.1 686.6h.01M1275.7 691.2h.01M1279.2 689.7h.01M1279.8 690h.01M1283 687.9h.01M1282.6 692.7h.01M1286.4 694.4h.01M1285.7 694.7h.01M1289.6 697.4h.01M1289.6 697.1h.01M1292.8 697.1h.01M1292.6 699.4h.01M1296.1 696.2h.01M1295.7 695.7h.01M1298.7 693.6h.01M1299.4 696.4h.01M1302.5 696.6h.01M1302.7 697.8h.01M1305.5 699.7h.01M1305.7 699.8h.01M1308.5 700.8h.01M1309.3 702.5h.01M1312 701.9h.01M1312.5 700.9h.01M1315.1 699.8h.01M1315.3 701.9h.01M1318.7 703h.01M1318.4 703.7h.01M1321.8 705.1h.01M1322.6 707.2h.01M1325.7 706.1h.01M1325.9 708.2h.01M1328.6 707.3h.01M1328.7 706.3h.01M1332.3 706.9h.01M1332.1 707.4h.01M1335.1 709.6h.01M1335.1 708.6h.01M1338.8 710.7h.01M1338.5 710.5h.01M1341.8 711.9h.01M1342.3 712.5h.01M1345.6 713h.01M1345.8 712h.01M1348.3 712.6h.01M1349 713.2h.01M1351.8 714.3h.01M1352.2 713.3h.01M1355.2 714.5h.01M1355.6 714.2h.01M1358.8 714.6h.01M1358.1 715.5h.01M1361.8 715h.01M1362.2 714h.01M1364.7 713.6h.01M1364.7 715.3h.01M1368.6 716.2h.01M1368.6 716.6h.01M1371.7 718.9h.01M1371.3 719.1h.01M1375 720.3h.01M1374.5 721.5h.01M1378.6 721.6h.01M1378.6 720.6h.01M1381.6 721.2h.01M1381.9 723.4h.01M1384.5 724.6h.01M1384.8 725.7h.01M1388 726.5h.01M1388.2 726.6h.01M1391.2 727.1h.01M1391.1 729.8h.01M1394.5 727.6h.01M1395.2 726.6h.01M1398 724.8h.01M1397.9 727.4h.01M1401.3 728.1h.01M1401.1 728.4h.01M1404.4 730.5h.01M1405 730.8h.01M1408 731.6h.01M1408.1 733.3h.01M1411.2 732.6h.01M1411.6 731.6h.01M1414.4 731.7h.01M1415 733.3h.01M1418.3 734.9h.01M1417.8 733.9h.01M1420.7 736.1h.01M1421.4 735.7h.01M1424.5 737.3h.01M1424.8 738.4h.01M1427.7 738.5h.01M1427.7 737.5h.01M1430.9 738h.01M1431.1 738.6h.01M1434.9 740.1h.01M1434.5 739.8h.01M1438 741.9h.01M1437.7 742.2h.01M1441.5 742.9h.01M1440.7 745.8h.01M1443.8 741.9h.01M1444.6 741.4h.01M1447.4 738.2h.01M1447.3 741.5h.01M1451 741.2h.01M1451.4 743.1h.01M1453.9 745.7h.01M1454 746.5h.01M1457.3 747.6h.01M1457.1 750.2h.01M1460.5 749.5h.01M1460.3 748.5h.01M1463.9 746.7h.01M1464.6 748.6h.01M1467.2 749.5h.01M1467.1 749.3h.01M1470.8 752.3h.01M1470.5 752.3h.01M1473.5 754.4h.01M1474.1 755.5h.01M1476.8 756.6h.01M1477.1 755.6h.01M1480.7 756.3h.01M1480.4 756.7h.01M1484 758.6h.01M1484.3 757.6h.01M1487.2 759.5h.01M1487.1 759.1h.01M1490.5 760.4h.01M1490.2 761.4h.01M1493.4 761.4h.01M1493.4 760.4h.01M1497.6 759.3h.01M1497.4 761.3h.01M1499.9 762.1h.01M1500.6 762.3h.01M1503.8 764.3h.01M1504 764.6h.01M1507.2 765.4h.01M1506.7 767.2h.01M1509.9 766.4h.01M1510.5 765.4h.01M1513.9 765.2h.01M1513.8 766.4h.01M1517.2 766.8h.01M1516.7 767.4h.01M1519.9 770h.01M1520.6 770.2h.01M1523.4 771.3h.01M1523.8 772.4h.01M1526.7 771.3h.01M1527 770.3h.01M1052.3 741.2h.01M1223.1 758.8h.01M1342.7 574.6h.01M1513.9 646.8h.01M1393.9 796.6h.01"/>
<path stroke="#e6002d" d="M887.3 760.4h.01M888.5 770.8h.01M893.1 789.2h.01M886.2 800.8h.01M895.4 828.5h.01M889.6 812.3h.01M900.8 728.8h.01M901.3 729.9h.01M904.6 736.7h.01M904.1 736.5h.01M908.2 735h.01M907.3 739.1h.01M910.6 729.6h.01M910.6 734.8h.01M910.6 740.1h.01M913.9 725.6h.01M914 731h.01M913.9 736.5h.01M917.3 723.3h.01M918 728.3h.01M917.3 733.2h.01M917.8 738.1h.01M920.6 728.4h.01M920.7 733.5h.01M921.4 738.7h.01M924.4 732.3h.01M924.8 736.5h.01M924.3 740.7h.01M927.7 735.1h.01M927.6 738.7h.01M927.4 742.4h.01M930.9 725.8h.01M930.9 730.9h.01M931.3 736h.01M934 714.6h.01M934.2 719.2h.01M934 723.8h.01M933.7 728.4h.01M934.6 733h.01M937.1 717.8h.01M937 721.8h.01M937.9 725.8h.01M937.1 729.8h.01M941 720.7h.01M940.8 724h.01M940.5 727.4h.01M943.8 722.9h.01M943.8 724.9h.01M947.7 722.7h.01M947.4 721.7h.01M950.3 721.5h.01M950.3 723h.01M954 725.3h.01M953.9 724.3h.01M957 726.6h.01M957.3 726.6h.01M961 727.9h.01M960.5 729.9h.01M963.8 728.3h.01M963.4 727.5h.01M967 722.7h.01M966.8 725.9h.01M967.6 729.1h.01M970 723.3h.01M970.3 726.8h.01M970.7 730.2h.01M973.9 725.3h.01M973.9 728.7h.01M973.7 732.2h.01M976.7 727.2h.01M976.8 730.9h.01M977.4 734.5h.01M980.5 727.9h.01M980.5 732.9h.01M983.6 722.1h.01M983.7 725.8h.01M983.2 729.5h.01M987 722.9h.01M986.8 727.9h.01M990.2 724.7h.01M990.2 727.9h.01M993.3 725.6h.01M993.7 729.5h.01M997.2 724.5h.01M996.7 727.6h.01M1000.5 721h.01M999.8 724.2h.01M1000.1 727.3h.01M1003.8 725.1h.01M1003.4 729.5h.01M1006.6 726.7h.01M1006.6 729.8h.01M1006.4 732.9h.01M1010.1 730.4h.01M1010.3 735.3h.01M1013 731.8h.01M1013.5 730.8h.01M902 689.5h.01M901.5 691.2h.01M905.6 691.4h.01M904.8 696.5h.01M908 691h.01M908.1 694.5h.01M908.3 698.1h.01M911.6 689h.01M911.9 695h.01M912 701h.01M914.7 687.1h.01M915.1 691.2h.01M918.4 679.6h.01M918.2 683.4h.01M918.1 687.1h.01M921.8 680.6h.01M921.8 686h.01M925 682.7h.01M925.3 687.8h.01M928.3 680.7h.01M928.6 684.6h.01M927.9 688.4h.01M931.5 675h.01M931.6 679.2h.01M931.6 683.4h.01M935.2 670.7h.01M935.1 675.3h.01M934.7 679.9h.01M937.7 674.6h.01M938.1 678.6h.01M941.8 678.6h.01M941.9 679.3h.01M944.6 677.8h.01M944.7 679.4h.01M947.7 673.6h.01M948.1 674.7h.01M951 662.2h.01M951.3 667.5h.01M951.7 672.8h.01M954.2 664.7h.01M955 668.9h.01M954.8 673h.01M957.6 668.2h.01M957.9 672.7h.01M958.2 677.3h.01M960.8 669.5h.01M960.9 674.3h.01M961.7 679.1h.01M964.1 671.5h.01M964.7 677.3h.01M968.3 667.3h.01M968.1 671.7h.01M968.1 676.1h.01M971 670.1h.01M971.4 673h.01M974.4 673.7h.01M974.9 675.3h.01M978 674.3h.01M977.8 675.9h.01M980.8 674.8h.01M980.8 673.8h.01M984.5 669.5h.01M984.6 672.1h.01M987.4 669h.01M987.7 671.3h.01M991.1 668.8h.01M990.8 672.1h.01M994.2 667.8h.01M994.3 671.2h.01M993.9 674.5h.01M997.8 668.5h.01M997.4 671.7h.01M1000.4 665.1h.01M1001 668.7h.01M1000.7 672.3h.01M1004.1 667.5h.01M1004.3 672.5h.01M1007.1 669.7h.01M1007.6 675.2h.01M1010.4 670.4h.01M1010.7 675.8h.01M1010.3 681.2h.01M1013.8 670.5h.01M1014.3 675.9h.01M1014.3 681.3h.01M1017.8 666.8h.01M1017.5 670.9h.01M1017.8 674.9h.01M1017.1 678.9h.01M1020.4 668.5h.01M1020.3 672.8h.01M1020.4 677.1h.01M1024.2 673h.01M1023.5 676.3h.01M1024.2 679.7h.01M1026.8 677h.01M1027.6 682.2h.01M1030.4 680.6h.01M1030.8 680.9h.01M1034.2 679h.01M1034.2 682.9h.01M1036.9 680.5h.01M1036.8 686h.01M1040.3 683.6h.01M1040 688.9h.01M1043.5 683.7h.01M1043.8 688h.01M1044.1 692.3h.01M1047.1 685.3h.01M1046.6 689.3h.01M1049.9 681.5h.01M1050.8 685.5h.01M1050.4 689.6h.01M1053.2 682.6h.01M1053.9 685.8h.01M1053.9 689.1h.01M1057 685h.01M1056.8 690.3h.01M1060.3 684.4h.01M1059.9 688.1h.01M1060.4 691.7h.01M1064 684.9h.01M1063.5 686.2h.01M1066.6 680.7h.01M1066.6 685.9h.01M1069.8 683.3h.01M1070.3 686.7h.01M1073.5 688.1h.01M1073 689.9h.01M1077 689.7h.01M1076.6 693.8h.01M1080.4 693h.01M1079.6 693.6h.01M1083.5 691.7h.01M1083 696.9h.01M1086.9 697.8h.01M1087.1 699.7h.01M1089.7 699.9h.01M1089.7 701.6h.01M1093.3 699.9h.01M1093 704.5h.01M1097 700.7h.01M1096.7 700.3h.01M1100.3 696.8h.01M1099.8 700.2h.01M1103.2 694.1h.01M1102.8 696.7h.01M1106.7 697.1h.01M1106.1 698.8h.01M1109.7 697.3h.01M1110.1 700.1h.01M1113.4 697.6h.01M1113.3 696.6h.01M1116.2 695.8h.01M1115.9 696.8h.01M1120 698h.01M1119.3 697h.01M1123.1 698.1h.01M1123.1 698.2h.01M1125.8 698.3h.01M1126.5 700.5h.01M1129.3 698.4h.01M1129.5 698.1h.01M1132.5 694.3h.01M1132.5 699.1h.01M1135.8 695.4h.01M1136.5 699.5h.01M1139.2 699.8h.01M1139 701.8h.01M1142.9 700.8h.01M1142.5 704h.01M1146.2 701.8h.01M1146 701.4h.01M1149.8 700.7h.01M1149.1 701.9h.01M1152.6 703.9h.01M1152.2 702.9h.01M1155.6 704.9h.01M1156.3 703.9h.01M1159.5 708.8h.01M1159 710.3h.01M1163 710.4h.01M1162.6 709.5h.01M1165.9 705.3h.01M1165.8 708.7h.01M1169.2 707.1h.01M1168.9 708.3h.01M1172.9 709.6h.01M1172.5 711h.01M1175.8 710.6h.01M1175.8 712.7h.01M1178.6 711.5h.01M1179.4 710.5h.01M1182.8 711.2h.01M1182.2 711.4h.01M1185.9 713.3h.01M1185.9 712.4h.01M1189.2 714.1h.01M1189 713.1h.01M1192.4 713.9h.01M1192.6 714.7h.01M1195.2 713.6h.01M1195.2 712.6h.01M1198.4 709.6h.01M1199 713.3h.01M1201.9 711.1h.01M1202.2 713.3h.01M1205.2 714.2h.01M1205 715.1h.01M1209.2 717.1h.01M1209 719.4h.01M1211.8 719.6h.01M1212 719.1h.01M1215.7 719.1h.01M1215 721.8h.01M1218.5 722.6h.01M1219 721.6h.01M1221.8 722.3h.01M1222.1 721.9h.01M1225.2 723h.01M1224.8 723.7h.01M1228.4 725.9h.01M1228.7 729h.01M1228.5 732.2h.01M1210.2 714.2h.01M1209.8 715.2h.01M1213.3 718h.01M1213.7 720.9h.01M1216.5 721.9h.01M1216.7 720.9h.01M1220 719.2h.01M1220.3 722.2h.01M1223.7 720.6h.01M1223.5 722.2h.01M1226 728.5h.01M1226.8 734h.01M1230 732.9h.01M1230.1 738.5h.01M1229.9 744.2h.01M1233.2 733.6h.01M1232.6 738.6h.01M1233.1 743.5h.01M1236.3 730.4h.01M1236.4 735.7h.01M1236.1 741h.01M1236.1 746.4h.01M1239.4 731.1h.01M1239.4 737.1h.01M1242.6 735.1h.01M1243.1 737.7h.01M1246.1 734.7h.01M1246.5 739.7h.01M1249.4 736h.01M1249.4 736.5h.01M1252.5 732.3h.01M1252.9 736.3h.01M1256.3 734.6h.01M1256.7 736.8h.01M1259.4 737.9h.01M1259.9 739h.01M1262.5 737.6h.01M1262.5 740.6h.01M1266.3 735.2h.01M1266.3 737.4h.01M1269.7 729.3h.01M1269.8 733h.01M1269.7 736.8h.01M1272.3 730.4h.01M1272.9 734h.01M1272.4 737.7h.01M1276 741.8h.01M1276.2 742.8h.01M1279.4 748.8h.01M1279.4 749.6h.01M1282.2 748.6h.01M1282.6 747.6h.01M1286.1 746.8h.01M1285.8 747.4h.01M1289 748.3h.01M1289.2 747.3h.01M1293 748.7h.01M1292.8 748.2h.01M1296.2 749.8h.01M1296.2 751.1h.01M1298.8 750.9h.01M1298.7 749.9h.01M1302 748.9h.01M1302.4 751.9h.01M1305.2 750.2h.01M1305.9 753.7h.01M1308.9 754.4h.01M1309.2 756.3h.01M1312.8 754.8h.01M1312 760.1h.01M1315.7 753.9h.01M1315.5 756.1h.01M1319.4 749.8h.01M1319.2 752.8h.01M1319.2 755.9h.01M1321.8 749.4h.01M1322 753h.01M1322.6 756.5h.01M1325.5 753.1h.01M1325.4 758h.01M1328.6 753.5h.01M1329.2 756.5h.01M1328.8 759.6h.01M1332.6 755.3h.01M1332.1 756.5h.01M1335.1 751.4h.01M1334.9 757.3h.01M1338.9 755.6h.01M1339 757.5h.01M1342.1 760.5h.01M1342.4 763.3h.01M1344.9 762.8h.01M1345 766.2h.01M1348.5 763.7h.01M1348.2 763.8h.01M1352.3 760h.01M1351.6 764h.01M1354.9 761.3h.01M1355 763.4h.01M1358.3 764.1h.01M1358.5 766.9h.01M1362 766.6h.01M1361.6 770.3h.01M1364.9 769.1h.01M1365.3 768.9h.01M1368.6 767.7h.01M1368.2 770.6h.01M1371.2 769.8h.01M1371.2 769.8h.01M1374.8 770.1h.01M1374.9 770.2h.01M1378 770.9h.01M1378.3 773.2h.01M1382 771.6h.01M1381.4 770.6h.01M1385.1 768.5h.01M1384.8 771.8h.01M1388.2 770.9h.01M1387.8 772.5h.01M1391.3 773.9h.01M1391.8 775.4h.01M1394.7 774.2h.01M1394.4 778.6h.01M1397.8 774.6h.01M1398.6 775.3h.01M1401.7 771.7h.01M1401.6 776.1h.01M1404.8 773.5h.01M1404.4 777.5h.01M1407.7 776.5h.01M1408.3 779.1h.01M1411.8 778.4h.01M1411.2 782h.01M1414.5 779.6h.01M1415 779.7h.01M1417.6 775.7h.01M1417.8 780.2h.01M1421.4 780.6h.01M1420.7 781.2h.01M1424.9 783.1h.01M1424.2 784.2h.01M1428 784.2h.01M1427.4 785.9h.01M1431.5 785h.01M1431.4 784h.01M1434 782.9h.01M1434.5 784.8h.01M1437.5 786.5h.01M1437.3 785.7h.01M1440.5 787.5h.01M1441 786.5h.01M1444 788.3h.01M1444.8 789.5h.01M1447.4 789.1h.01M1448 788.1h.01M1450.6 787.5h.01M1451.1 789h.01M1454 788.8h.01M1453.8 790.6h.01M1457.2 791.6h.01M1457.5 792.9h.01M1460.5 792.3h.01M1460.8 795.3h.01M1464.3 792.8h.01M1463.7 793.4h.01M1467.7 790h.01M1467.6 794.1h.01M1470.5 792.8h.01M1471.1 795.4h.01M1473.6 794.8h.01M1473.5 798.1h.01M1477.2 797.5h.01M1477.7 801.4h.01M1481.1 800h.01M1481.1 799h.01M1483.8 799.4h.01M1483.5 801.5h.01M1486.8 803.4h.01M1486.8 803.7h.01M1490.4 804.1h.01M1490.5 804.6h.01M1494 803.6h.01M1493.7 804.8h.01M1496.6 803.8h.01M1496.8 802.8h.01M1500.5 803.1h.01M1500 803.1h.01M949.6 790.4h.01M1017.7 789.2h.01M1083.5 780h.01M1152.7 781.2h.01M1220.8 788.1h.01M949.6 842.8h.01M1288.5 810h.01M1490.8 861.9h.01"/>
<path stroke="#0096dc" d="M895.4 846.9h.01M890.8 853.8h.01M885 849.2h.01M890.6 820.2h.01M890.4 826.2h.01M894.2 792.8h.01M893.8 797.9h.01M893.6 802.9h.01M894.4 808h.01M894.4 813h.01M894.2 818h.01M893.8 823.1h.01M897.5 794.3h.01M897.8 799.3h.01M896.9 804.3h.01M897.3 809.4h.01M897.8 814.4h.01M897.7 819.4h.01M900.6 794.4h.01M900.5 799.4h.01M900.9 804.4h.01M900.8 809.4h.01M900.3 814.5h.01M901 819.5h.01M904.3 794.5h.01M904.4 799.5h.01M903.5 804.5h.01M903.7 809.5h.01M904.1 814.5h.01M904 819.4h.01M906.8 795.1h.01M907.6 800.4h.01M906.8 805.6h.01M907.5 810.8h.01M907 816.1h.01M911.1 790.7h.01M910.1 795.8h.01M910.1 800.8h.01M910.6 805.9h.01M910.5 810.9h.01M910.9 816h.01M913.8 792.4h.01M914.1 798.2h.01M913.8 804.1h.01M913.4 809.9h.01M913.8 815.7h.01M917.1 794.2h.01M916.8 799.1h.01M916.7 803.9h.01M916.8 808.8h.01M917.5 813.7h.01M917 818.6h.01M920.2 795.1h.01M920.4 800.2h.01M920.7 805.3h.01M920.3 810.3h.01M920.5 815.4h.01M920 820.5h.01M924.2 794.1h.01M924.1 799h.01M923.4 803.9h.01M923.9 808.8h.01M923.9 813.8h.01M923.3 818.7h.01M927.5 790.2h.01M927 796h.01M926.6 801.8h.01M927.5 807.6h.01M927.2 813.4h.01M927 819.2h.01M930.5 793h.01M930.5 798.1h.01M930.8 803.3h.01M930.2 808.4h.01M930.1 813.6h.01M930.7 818.7h.01M934.1 797.3h.01M934.2 802.5h.01M933.7 807.7h.01M933.4 813h.01M933.5 818.2h.01M936.5 800h.01M937 805.6h.01M937.4 811.1h.01M937.3 816.7h.01M939.8 802.3h.01M940.1 807.4h.01M940.1 812.6h.01M943.7 799.7h.01M943.7 804.1h.01M943.6 808.5h.01M943.5 812.8h.01M946.9 802.8h.01M947 806.8h.01M946.6 810.8h.01M950.1 808.2h.01M950.4 812.2h.01M953.3 809.3h.01M953.7 814.7h.01M957 811h.01M956.3 813.3h.01M960.3 808.4h.01M959.9 811.9h.01M959.6 815.4h.01M963.9 812h.01M963.5 815h.01M963.5 818h.01M966.2 814.6h.01M967.1 819.2h.01M970.4 814.8h.01M970 817.5h.01M973.7 816.1h.01M973.4 815.1h.01M977.1 815.8h.01M976.2 816.4h.01M900.3 778.8h.01M900.3 781.2h.01M904.2 779.2h.01M904.1 779.3h.01M906.6 776.9h.01M907.4 780h.01M910.8 780.6h.01M910.3 780.7h.01M913.6 783h.01M913.9 783.7h.01M916.5 783.5h.01M916.7 785.6h.01M920.7 781.7h.01M920.1 780.7h.01M923.2 776.6h.01M923.1 779h.01M926.9 775.8h.01M926.8 777.1h.01M929.7 773.9h.01M929.8 776.6h.01M933.7 768.8h.01M933.2 772h.01M933.3 775.2h.01M936.5 774.2h.01M936.4 773.5h.01M940.5 776.3h.01M940.5 775.3h.01M943.1 775.8h.01M943 774.8h.01M947 775.3h.01M946.7 774.3h.01M950 774.9h.01M949.7 776h.01M953.2 776.3h.01M953.8 775.3h.01M957 776.4h.01M956.8 777.4h.01M960 780.1h.01M959.6 779.4h.01M963.1 782.5h.01M963.6 782.2h.01M966.6 783.1h.01M966.6 783.9h.01M969.5 782.5h.01M969.9 781.5h.01M973 781.1h.01M972.9 781.3h.01M976.4 782.5h.01M976.6 781.5h.01M979.4 782.7h.01M979.6 781.9h.01M982.6 774h.01M982.6 777.7h.01M982.9 781.5h.01M986.1 764.3h.01M986.5 768.9h.01M986.2 773.5h.01M985.9 778.1h.01M989.6 763.7h.01M989.6 769.1h.01M989.7 774.5h.01M989.8 779.9h.01M993.3 767.4h.01M992.4 771.9h.01M993.1 776.5h.01M992.8 781h.01M996.6 771.2h.01M996 776.1h.01M996 781.1h.01M999.8 772.5h.01M999 775.9h.01M999.1 779.2h.01M1002.8 771.1h.01M1003.1 776.1h.01M1006.5 766.5h.01M1005.9 771.1h.01M1005.9 775.7h.01M1009.3 768.3h.01M1009 772.8h.01M1009.4 777.3h.01M1012.8 773.3h.01M1013 777.8h.01M1016.2 775h.01M1015.7 778.7h.01M1019.1 776.8h.01M1019.3 775.8h.01M1022.2 777.5h.01M1022.5 777.8h.01M1025.5 781.1h.01M1026.2 780.1h.01M1029 783.5h.01M1029.6 782.7h.01M1032.6 785.3h.01M1032.2 786.5h.01M1035.5 786.2h.01M1035.9 785.2h.01M1038.6 783.6h.01M1038.8 786.7h.01M1042.3 785.5h.01M1042.3 788.2h.01M1045.8 785.2h.01M1045.8 788.6h.01M1048.6 782.3h.01M1048.7 785.8h.01M1048.5 789.2h.01M1052.2 781.7h.01M1052.6 783.9h.01M1056 773.1h.01M1055.4 777.9h.01M1055.3 782.7h.01M1058.8 775.2h.01M1058.7 779h.01M1058.4 782.8h.01M1062.1 779.6h.01M1062.5 784h.01M1065.7 781.6h.01M1065.5 783.3h.01M1069.1 782.4h.01M1069 781.6h.01M1072.3 781.9h.01M1071.7 783h.01M1075.1 784.1h.01M1075 785.3h.01M1078.2 787.3h.01M1079 789.2h.01M1081.7 788.4h.01M1081.8 792.6h.01M1085.2 788.8h.01M1085.5 791.7h.01M1088.8 785.1h.01M1088.8 789.9h.01M1088.1 794.7h.01M1092.2 788.4h.01M1091.5 793.3h.01M1092.3 798.3h.01M1095.4 790.7h.01M1094.8 795.5h.01M1095 800.3h.01M1098.5 789.3h.01M1098.6 793.7h.01M1098.8 798.1h.01M1101.7 789.8h.01M1101.8 790.8h.01M1105.1 784.4h.01M1105.3 790.2h.01M1108.7 787.7h.01M1108.3 788.8h.01M1111.6 789.7h.01M1112 790.2h.01M1115.3 790h.01M1115 793h.01M1118 790.2h.01M1117.9 789.3h.01M1121.2 787.4h.01M1121.6 790.6h.01M1124.4 789.3h.01M1125.1 792.1h.01M1128.6 791.7h.01M1128.2 796h.01M1131.3 792.2h.01M1131.7 795.9h.01M1131.6 799.6h.01M1134.3 790.9h.01M1135.1 792.9h.01M1137.9 786.4h.01M1138.1 789.7h.01M1141 789.1h.01M1141.2 790.1h.01M1145 790.7h.01M1144.2 791.9h.01M1147.9 791.1h.01M1148.4 794.3h.01M1151.3 791.5h.01M1151.2 790.9h.01M1154.9 789.5h.01M1154.6 790.9h.01M1158.3 791.3h.01M1157.4 792.3h.01M1161.2 794.2h.01M1161.1 794.3h.01M1164.4 795.7h.01M1164.2 797.7h.01M1167.7 796.6h.01M1168 795.6h.01M1170.8 792.4h.01M1171.3 797.2h.01M1174.1 794.3h.01M1174.3 797.2h.01M1177.9 797.8h.01M1178 801.2h.01M1180.8 798.3h.01M1180.7 801.6h.01M1180.8 805h.01M1184.1 798.2h.01M1184.4 800.7h.01M1187.9 794h.01M1187.6 795.9h.01M1190.6 793.9h.01M1190.8 794.2h.01M1194.1 794.1h.01M1194.2 794.8h.01M1197.8 792.7h.01M1197.1 796.1h.01M1200.3 791.4h.01M1200.7 791.8h.01M1203.7 786.8h.01M1204 792.7h.01M1207.1 793.1h.01M1207.3 796.6h.01M1210.3 797.3h.01M1211 799.6h.01M1213.9 801.3h.01M1214.1 804.7h.01M1217.1 803.4h.01M1217.6 803.8h.01M1220.1 800.8h.01M1220.5 802.6h.01M1223.5 801.8h.01M1223.9 802.6h.01M1227.1 803.6h.01M1227.7 804.3h.01M1210.4 803.6h.01M1210.3 806.9h.01M1212.9 804.7h.01M1213.3 805.4h.01M1216.1 802.2h.01M1216.2 806.2h.01M1219.7 803.9h.01M1219.7 805.8h.01M1223.2 805.6h.01M1222.9 807.3h.01M1226.5 805.4h.01M1226.8 807.2h.01M1230.1 805.9h.01M1229.6 805.7h.01M1233.4 801.1h.01M1233.2 805.3h.01M1233.2 809.5h.01M1236.1 803.8h.01M1236.3 807.4h.01M1236.5 811h.01M1239.4 805.9h.01M1239.5 810.8h.01M1239.6 815.6h.01M1243.2 807.3h.01M1242.7 813.2h.01M1242.7 819.1h.01M1246.3 807.4h.01M1245.9 812.9h.01M1246.5 818.4h.01M1250.1 804.9h.01M1249.4 809.1h.01M1250.1 813.3h.01M1249.3 817.5h.01M1252.7 809.9h.01M1253.2 813.2h.01M1252.8 816.6h.01M1256 814.9h.01M1256.1 818.9h.01M1259.5 817.1h.01M1259.3 820.6h.01M1262.9 818.5h.01M1262.9 817.8h.01M1265.9 813.5h.01M1266 817.7h.01M1269.7 812.6h.01M1269 816h.01M1272.8 812.6h.01M1272.6 818.1h.01M1276.2 814.5h.01M1275.5 819.4h.01M1279.5 816.6h.01M1279.6 817.1h.01M1282.7 814.2h.01M1282.2 817.1h.01M1285.7 819.1h.01M1286.4 818.1h.01M1289.5 820.8h.01M1289.2 821.3h.01M1292.2 822.6h.01M1292.3 823.9h.01M1295.8 824.4h.01M1295.3 823.4h.01M1298.9 823.7h.01M1299.3 825.2h.01M1302.7 824.2h.01M1302.9 824.3h.01M1305.7 823.4h.01M1305.9 824.6h.01M1308.8 821.6h.01M1308.7 823.9h.01M1312 821.6h.01M1312.5 820.8h.01M1315.6 817.6h.01M1315.9 822.5h.01M1318.8 820.7h.01M1318.6 821.6h.01M1321.8 820.9h.01M1322.3 824.6h.01M1326 821.8h.01M1325.4 826.9h.01M1328.7 822.1h.01M1329 824h.01M1332.4 819.5h.01M1332.4 822.6h.01M1331.8 825.8h.01M1335.2 822.5h.01M1335.2 826.8h.01M1338.4 819.2h.01M1338.6 823.2h.01M1339.1 827.2h.01M1341.9 820.8h.01M1341.7 824.8h.01M1342.5 828.8h.01M1345.4 822.7h.01M1345.1 827.6h.01M1348.8 821.5h.01M1348.2 825.5h.01M1348.9 829.4h.01M1351.6 825.1h.01M1352.2 828.7h.01M1352.1 832.2h.01M1355.1 827.9h.01M1355.6 833.6h.01M1358.4 829.3h.01M1358.6 834.5h.01M1361.7 829.4h.01M1361.8 829.9h.01M1365.5 826.1h.01M1365.3 829.3h.01M1368.5 828.6h.01M1368 828.7h.01M1371.4 828.6h.01M1371.9 829.2h.01M1374.8 828h.01M1375 829.9h.01M1378.5 829.1h.01M1378.3 828.7h.01M1381.3 826.5h.01M1382 830.7h.01M1385 831.2h.01M1384.6 832.9h.01M1388.5 834.7h.01M1387.8 835.3h.01M1391.7 834.2h.01M1391.8 837.9h.01M1394.8 833.3h.01M1394.5 834.4h.01M1397.9 829.5h.01M1397.9 834h.01M1401.6 830.5h.01M1400.9 833.6h.01M1404.6 831.7h.01M1404.8 835.4h.01M1407.8 831.9h.01M1407.9 837.1h.01M1411 837.6h.01M1411.4 836.6h.01M1414.9 837.7h.01M1414.5 839.4h.01M1417.5 839.6h.01M1417.8 839.8h.01M1421.7 841.4h.01M1420.8 841.8h.01M1424 842h.01M1424.2 843.7h.01M1427.4 842.6h.01M1427.3 841.6h.01M1431.1 840h.01M1431.3 841.9h.01M1434 843.2h.01M1434.7 842.2h.01M1437.4 843.4h.01M1437.3 842.4h.01M1441.2 843.6h.01M1440.7 844.9h.01M1444.2 843.9h.01M1444.3 842.9h.01M1447.4 843.4h.01M1447.6 843.4h.01M1450.6 844h.01M1450.9 844.1h.01M1454.6 845.8h.01M1454.5 844.8h.01M1457.8 846.5h.01M1457.9 849.2h.01M1460.9 848.2h.01M1460.5 847.2h.01M1464.2 849.2h.01M1464.2 849.9h.01M1466.9 851.8h.01M1467.7 851.3h.01M1470.6 851.5h.01M1470.2 851.1h.01M1473.9 850.7h.01M1474.5 852.6h.01M1477.5 851.6h.01M1477.4 850.6h.01M1480.7 851.7h.01M1480.8 853h.01M1483.5 856h.01M1483.5 855.3h.01M1487 858.2h.01M1487.7 858.4h.01M1490.2 856h.01M1490.5 857.5h.01M1493.5 853.8h.01M1494 853.3h.01M1497.5 852.7h.01M1497.6 855.1h.01M1500.8 857.5h.01M1500 858.1h.01M1503.6 860.1h.01M1503.3 861.1h.01M1507.2 859.8h.01M1506.9 861.6h.01M1510.4 858.8h.01M1510.8 858.1h.01M1513.2 853.8h.01M1513.4 856.8h.01M1516.7 855.4h.01M1516.5 857.2h.01M1520.1 856.3h.01M1519.9 857.9h.01M1523.7 856.9h.01M1523.5 858.3h.01M1526.6 857.6h.01M1526.8 856.6h.01M1530.4 857.2h.01M1529.8 857.3h.01M1017 881.1h.01M948 915h.01M948 932h.01M1017 881h.01M1084 901h.01M1152 898h.01M1220 899h.01M1288 918h.01M1355 909h.01M1423 921h.01M1490 933h.01"/>
</g>
<path d="M961.9 525.5v6.5M961.9 971.2v-6.5M1042.5 525.5v13M1042.5 971.2v-13M1123.1 525.5v6.5M1123.1 971.2v-6.5M1203.7 525.5v13M1203.7 971.2v-13M1284.3 525.5v6.5M1284.3 971.2v-6.5M1364.9 525.5v13M1364.9 971.2v-13M1445.5 525.5v6.5M1445.5 971.2v-6.5M1526.1 525.5v13M1526.1 971.2v-13M881.3 599.3h13M1558.3 599.3h-13M881.3 723.3h13M1558.3 723.3h-13M881.3 847.2h13M1558.3 847.2h-13M881.3 537.3h6.5M1558.3 537.3h-6.5M881.3 661.3h6.5M1558.3 661.3h-6.5M881.3 785.3h6.5M1558.3 785.3h-6.5M881.3 909.2h6.5M1558.3 909.2h-6.5" stroke="#000" stroke-width="4" fill="none"/>
<rect x="881.3" y="525.5" width="677" height="445.7" fill="none" stroke="#000" stroke-width="4.2"/>
<text transform="translate(901.8,562.5) scale(1,1.1)" class="b">e</text>
<clipPath id="cpf"><rect x="881.3" y="1007.2" width="677" height="445.6"/></clipPath>
<g clip-path="url(#cpf)" fill="none" stroke-linecap="round" stroke-width="16.2">
<path stroke="#262626" d="M897.7 1107.8h.01M902.6 1159.8h.01M902.7 1161.3h.01M900.8 1165.9h.01M907.3 1157.7h.01M907.1 1163h.01M907.1 1168.6h.01M911.1 1160.9h.01M911.4 1164.3h.01M912.8 1169.9h.01M916.9 1161.5h.01M917.1 1166.3h.01M918.4 1172.3h.01M921.6 1164.3h.01M922 1169.4h.01M923.7 1172h.01M927.2 1165.9h.01M926.2 1168.2h.01M928.1 1173.5h.01M927.8 1175.1h.01M932 1161.4h.01M931.8 1163.1h.01M931.4 1170.7h.01M933.1 1174.2h.01M931.2 1178.1h.01M937.3 1167.8h.01M938.4 1171.9h.01M936.5 1175.3h.01M938.3 1179.2h.01M936.4 1184.5h.01M942.7 1179h.01M940.8 1181.5h.01M941.8 1189h.01M948.3 1177.9h.01M948.6 1183.8h.01M946.8 1188.3h.01M953.7 1176.8h.01M951 1180.6h.01M953.5 1184.5h.01M956.7 1179.3h.01M957.3 1180.5h.01M957.3 1186.2h.01M963.5 1177.7h.01M963 1183.3h.01M962.1 1187.7h.01M967.2 1179.6h.01M967.9 1184.4h.01M967 1188.3h.01M972.7 1177.6h.01M973 1182.9h.01M973.7 1187.6h.01M976.7 1177.5h.01M977.3 1181.6h.01M977.4 1186.2h.01M982.6 1176.7h.01M982.2 1182.3h.01M981.5 1186.2h.01M986.7 1176.8h.01M986.8 1184.1h.01M987.1 1187h.01M992.8 1176.2h.01M992.4 1180.6h.01M993 1186.4h.01M997.9 1179.8h.01M998.7 1185.2h.01M995.9 1188.5h.01M1001.5 1175.8h.01M1003.6 1181.2h.01M1002.3 1184h.01M1003.1 1189.3h.01M1007.7 1176.4h.01M1008.7 1180.9h.01M1006.5 1184.3h.01M1008.5 1188.7h.01M1006 1194.9h.01M1013.2 1176.7h.01M1013.3 1183.7h.01M1013.3 1185.7h.01M1013.6 1189.4h.01M1012 1193h.01M1016.7 1178.4h.01M1015.9 1183h.01M1021.9 1179.8h.01M1021.4 1183.2h.01M1027.9 1180.1h.01M1028.3 1181.4h.01M1033.1 1172.9h.01M1031.6 1175.6h.01M1031.2 1177h.01M1036.9 1165.5h.01M1038.2 1172.6h.01M1035.8 1177.9h.01M1043.1 1171.9h.01M1042.9 1176.4h.01M1047.7 1173.3h.01M1048.2 1174.9h.01M1051.5 1171h.01M1051.4 1173.5h.01M1056.1 1164.1h.01M1057.7 1171h.01M1056.6 1173.9h.01M1062 1162.7h.01M1061 1166.6h.01M1061.2 1170.2h.01M1061.1 1172.6h.01M1067.4 1167.6h.01M1068 1173.6h.01M1072.9 1168.2h.01M1070.8 1172.2h.01M1076.8 1169h.01M1076.6 1170.1h.01M1081.5 1166.9h.01M1082.2 1171.4h.01M1087.7 1167.5h.01M1087.1 1171.5h.01M1091.3 1169.1h.01M1091.3 1172h.01M1096.8 1166.8h.01M1097.7 1169.8h.01M1102.8 1166.5h.01M1100.8 1170.9h.01M1106.4 1170.7h.01M1106.3 1172h.01M1112.9 1170.3h.01M1112.3 1173.4h.01M1117.7 1168.5h.01M1117.4 1170.3h.01M1122.7 1165.6h.01M1123.7 1169.4h.01M1126.5 1165.4h.01M1127.8 1169h.01M1131.6 1163.8h.01M1132.2 1169.5h.01M1136.8 1162.7h.01M1137.5 1167h.01M1143.1 1162.3h.01M1142.1 1168.8h.01M1147.7 1165h.01M1147.2 1166.8h.01M1151 1163.5h.01M1151.2 1166.3h.01M1156.5 1163.6h.01M1157.2 1168.2h.01M1162.8 1163.8h.01M1163.8 1166.5h.01M1168.2 1166.5h.01M1166.4 1170.3h.01M1173.6 1164.7h.01M1172.7 1167.9h.01M1173.4 1171.1h.01M1178.4 1163.8h.01M1176.7 1166.1h.01M1178.3 1170h.01M1176.5 1175.9h.01M1182.5 1165.3h.01M1181.9 1168.5h.01M1182.7 1172h.01M1186 1164.3h.01M1188 1167.3h.01M1186.7 1171.1h.01M1192.8 1165.3h.01M1193.7 1171.1h.01M1196.7 1163.6h.01M1195.9 1169.8h.01M1202.4 1163h.01M1201.6 1166.9h.01M1201.6 1170.6h.01M1208 1161.9h.01M1208.6 1168h.01M1208 1170.8h.01M1212 1166.6h.01M1213.3 1168.9h.01M1211.9 1174.8h.01M1216.7 1165.7h.01M1217.2 1170.6h.01M1216.2 1172.4h.01M1222 1165.4h.01M1223.4 1170.5h.01M1228.6 1168.6h.01M1227.5 1169.3h.01M1211.5 1168.7h.01M1211.1 1171.4h.01M1209.8 1173.9h.01M1214.4 1165.7h.01M1214.8 1168.7h.01M1215 1173h.01M1220 1165.5h.01M1221.2 1170.5h.01M1220.8 1173.2h.01M1226.2 1169.2h.01M1224.2 1173.1h.01M1230.8 1171.3h.01M1231.4 1174.6h.01M1235.1 1167.4h.01M1234 1171.6h.01M1241.1 1163h.01M1239.1 1167.3h.01M1245.5 1149.3h.01M1244.4 1153.2h.01M1245 1157.7h.01M1251.5 1151.3h.01M1248.7 1154.5h.01M1250 1160h.01M1248.6 1165.4h.01M1249.2 1166.8h.01M1255.8 1156.9h.01M1253.8 1161.5h.01M1253.6 1164.7h.01M1254.2 1169h.01M1254.5 1172.3h.01M1259.8 1164.7h.01M1260.7 1169.8h.01M1258.9 1170.9h.01M1266.4 1167.6h.01M1264 1171.7h.01M1269.9 1166.4h.01M1270 1168.8h.01M1275.2 1167.7h.01M1275.6 1173h.01M1279.2 1174.4h.01M1281.3 1180.4h.01M1285.9 1174.8h.01M1286 1180h.01M1290.3 1175.5h.01M1289.8 1177.9h.01M1295 1171.4h.01M1294.5 1175.8h.01M1293.6 1178h.01M1299.5 1167.2h.01M1299.5 1170.4h.01M1299.5 1175.1h.01M1300.2 1181h.01M1306 1172.1h.01M1305.9 1175.1h.01M1305.7 1178.6h.01M1309.9 1174.2h.01M1311 1178.8h.01M1310.2 1181.7h.01M1313.6 1180.5h.01M1315.7 1181.9h.01M1319.6 1178.4h.01M1319.2 1184.7h.01M1325.5 1174.2h.01M1324.3 1177h.01M1326.1 1183.1h.01M1331.3 1171.8h.01M1331.3 1176.9h.01M1329.7 1178.4h.01M1335.6 1176.3h.01M1334.9 1179.5h.01M1334.8 1182.9h.01M1341.3 1179.4h.01M1339.5 1181.2h.01M1339.3 1185.7h.01M1344.3 1170.2h.01M1343.8 1175.7h.01M1343.9 1180.2h.01M1345.8 1181h.01M1350.1 1173.7h.01M1350.4 1178h.01M1351 1183.4h.01M1356 1181h.01M1356.3 1183.6h.01M1359.8 1180.6h.01M1359.1 1184.4h.01M1364.1 1176.2h.01M1365.8 1181.3h.01M1365.7 1184.2h.01M1370.2 1177.3h.01M1369.9 1178.1h.01M1368.9 1185.1h.01M1376.2 1174.6h.01M1375.7 1178h.01M1375.3 1181.2h.01M1376 1187h.01M1381.1 1175.1h.01M1381.5 1178.3h.01M1379.2 1183.4h.01M1380.9 1188.5h.01M1385.7 1178h.01M1383.7 1181.2h.01M1384.4 1184h.01M1385.5 1187.9h.01M1389.4 1176.8h.01M1389.2 1180.1h.01M1391.1 1185.8h.01M1395.8 1178.3h.01M1394.1 1182.2h.01M1394.6 1184.9h.01M1401 1175.4h.01M1398.6 1183.6h.01M1405.2 1181.7h.01M1405.7 1188.1h.01M1408.8 1184.7h.01M1410.9 1185.5h.01M1409.6 1191.6h.01M1414.6 1182.5h.01M1414.5 1185.9h.01M1414.6 1190.9h.01M1421.1 1180.8h.01M1419.8 1186.7h.01M1419.5 1187.3h.01M1426 1180.7h.01M1424 1185.7h.01M1425.4 1187.4h.01M1429.7 1179.6h.01M1429.7 1182.2h.01M1429 1187.7h.01M1436.4 1180.6h.01M1434.2 1186.6h.01M1439.4 1180.7h.01M1441.4 1185.3h.01M1444.6 1183.9h.01M1444.2 1185.8h.01M1448.6 1183.9h.01M1450.3 1185.6h.01M1456.3 1181.6h.01M1455.9 1187.9h.01M1459 1183.3h.01M1459.1 1187.9h.01M1460.2 1188.5h.01M1464.5 1181.1h.01M1465.6 1182.8h.01M1464.4 1186.3h.01M1464.5 1190.3h.01M1466 1197.8h.01M1471.4 1176.9h.01M1469.5 1181.9h.01M1476.1 1175.5h.01M1475.9 1183.7h.01M1479.1 1180.7h.01M1479.6 1182.1h.01M1485 1181.4h.01M1484.5 1184.8h.01M1485.8 1189.4h.01M1490.2 1182.2h.01M1490 1184.7h.01M1491.3 1188.7h.01M1488.9 1195.3h.01M1494.2 1177h.01M1493.7 1180.8h.01M1494.2 1183.4h.01M1494.2 1187.1h.01M1494.6 1191.6h.01M1500.8 1174.9h.01M1498.5 1179.2h.01M1498.9 1182.2h.01M1499.6 1187.6h.01M1499 1190.7h.01M1504.1 1177.6h.01M1504.8 1183.1h.01M1506.3 1184.4h.01M1506.1 1188.8h.01M1510.9 1178.7h.01M1508.9 1185.2h.01M1508.7 1187.7h.01M1514.3 1178.7h.01M1513.5 1182.8h.01M1516.4 1187.5h.01M1519.5 1178.3h.01M1519.6 1181.8h.01M1520 1185.5h.01M1523.7 1178.6h.01M1524.1 1182.9h.01M1104.2 1133.4h.01M1168.8 1144.2h.01M1275.8 1141.9h.01M1288.5 1148.8h.01M1446.1 1140.8h.01"/>
<path stroke="#e6002d" d="M895.4 1124.6h.01M890.8 1145.4h.01M895.4 1152.3h.01M900 1163.8h.01M900 1170.8h.01M901.2 1220.4h.01M901.4 1220.9h.01M908.1 1225.8h.01M906.3 1227.2h.01M912.9 1231h.01M913.7 1234.7h.01M912.2 1238.7h.01M917.7 1238.3h.01M916.4 1240.4h.01M916 1245.6h.01M917.2 1247.7h.01M921 1242.9h.01M921.6 1243.4h.01M922.7 1250.7h.01M922.5 1252h.01M923.6 1256.6h.01M927.6 1247.8h.01M928.6 1249.6h.01M925.8 1256.2h.01M926.1 1259.9h.01M928.3 1264.4h.01M932.9 1253.2h.01M932.7 1254h.01M931 1258.1h.01M932.1 1263.5h.01M932.4 1270.3h.01M931.4 1272.9h.01M938.4 1259.6h.01M936.5 1262.3h.01M936.8 1265.8h.01M935.9 1273.4h.01M935.9 1276h.01M938.5 1281.9h.01M942.2 1266.4h.01M942.9 1271.3h.01M941.2 1276.4h.01M941.5 1281.3h.01M942.8 1284.1h.01M942.8 1288.7h.01M947.9 1272h.01M947.4 1278.5h.01M947.8 1281.9h.01M948.4 1285.7h.01M946 1289.3h.01M948.2 1293.5h.01M948.5 1296.8h.01M951.6 1276.4h.01M953.6 1279.8h.01M953.6 1285h.01M953 1286.6h.01M951.2 1291.6h.01M952.4 1297.5h.01M952.4 1301.5h.01M955.9 1274.8h.01M957 1280.7h.01M956.1 1283.7h.01M957.4 1290.2h.01M957 1292.1h.01M956.2 1299.1h.01M961.4 1273.2h.01M962.4 1279.4h.01M963.7 1282.5h.01M963.2 1288.3h.01M963.4 1292.1h.01M961.9 1292.9h.01M966.8 1277.7h.01M968.4 1278.6h.01M967.9 1286.5h.01M966.8 1289.3h.01M968.2 1295.3h.01M967 1297h.01M971.6 1277.7h.01M971.5 1280.9h.01M972.8 1286h.01M972.7 1291.7h.01M972.6 1295.1h.01M972.9 1301.4h.01M976.7 1278.6h.01M978.6 1279.8h.01M976.6 1287h.01M976.1 1290h.01M976.8 1295.8h.01M976.5 1298.3h.01M978 1301.3h.01M983.4 1278.4h.01M981.5 1280.5h.01M982.1 1286.2h.01M982.7 1289.9h.01M981.6 1297.8h.01M982.5 1298.7h.01M982.7 1303.9h.01M986.5 1283h.01M987.4 1288h.01M986.1 1290.6h.01M986.9 1297.5h.01M986.4 1299.7h.01M986.1 1304.6h.01M993.3 1285.3h.01M991.7 1289.7h.01M993.4 1294.8h.01M992.5 1300.6h.01M991.9 1307h.01M998.5 1289.8h.01M998.4 1293.5h.01M997.2 1298h.01M996.7 1301h.01M996.7 1306.7h.01M1001.2 1290.5h.01M1003.5 1293.4h.01M1001.7 1298.7h.01M1003.5 1300.4h.01M1002.7 1304h.01M1006.5 1286.1h.01M1008.8 1289.4h.01M1006 1292.3h.01M1007.8 1298.4h.01M1008.6 1301.7h.01M1006.2 1306.2h.01M1013.4 1287.5h.01M1013.8 1289.1h.01M1011.9 1295.9h.01M1013.2 1297.5h.01M1013.6 1300.4h.01M1013 1308.1h.01M1017.7 1292.7h.01M1016.6 1298.4h.01M1017.5 1301.9h.01M1016.5 1305.7h.01M1022.8 1299.3h.01M1021.3 1304.6h.01M1023.7 1306.5h.01M1027.1 1302.6h.01M1027.1 1307.4h.01M1026.4 1307.9h.01M1031.1 1308.8h.01M1031.2 1312.1h.01M1038 1308h.01M1037.8 1315.4h.01M1036.6 1316.7h.01M1043.7 1311.8h.01M1043.2 1312.8h.01M1040.9 1318.2h.01M1046.2 1309.3h.01M1048.2 1316.2h.01M1051.7 1314.6h.01M1051.9 1318.5h.01M1056.8 1312.6h.01M1057.2 1319.1h.01M1062.4 1317.7h.01M1061.3 1321h.01M1067.1 1318.8h.01M1067.1 1320.4h.01M1073.4 1319.1h.01M1071.4 1320h.01M1076 1315h.01M1078.2 1320.8h.01M1082.9 1313.6h.01M1082.4 1317.7h.01M1081.7 1321.4h.01M1088.6 1318.9h.01M1086.6 1322.3h.01M1092.4 1319.2h.01M1091 1323.7h.01M1098.7 1319.2h.01M1098.2 1323.4h.01M1103.5 1321.3h.01M1102.7 1323.8h.01M1107.3 1318.1h.01M1108.6 1322.3h.01M1113.6 1316.7h.01M1113.6 1321.4h.01M1117.2 1316.4h.01M1117.1 1320.2h.01M1116 1324.8h.01M1122 1319h.01M1121.4 1322.1h.01M1121 1325.1h.01M1127.2 1321.5h.01M1127.1 1322.9h.01M1132.4 1323h.01M1131 1327.5h.01M1136 1323.8h.01M1136.8 1327.7h.01M1142.4 1321.3h.01M1142.5 1326.3h.01M1148.2 1323.9h.01M1148.5 1327.1h.01M1153.1 1318.8h.01M1152.1 1328.3h.01M1158.3 1316.6h.01M1157.5 1324.2h.01M1156.4 1325.3h.01M1163.6 1316.2h.01M1163.4 1317.8h.01M1161.4 1322h.01M1161.4 1328.6h.01M1167 1316.9h.01M1167.8 1323.5h.01M1166.5 1325.4h.01M1171.5 1319.5h.01M1173.4 1324.4h.01M1178 1321.1h.01M1178.6 1327.7h.01M1181.9 1320.3h.01M1182.3 1323.6h.01M1182.9 1327.4h.01M1187.4 1319.7h.01M1187.9 1323.7h.01M1187 1325h.01M1193.5 1318.5h.01M1191.9 1324.6h.01M1191.6 1326h.01M1196.7 1319.8h.01M1197.5 1323.1h.01M1198.8 1326h.01M1201.2 1320.8h.01M1203.7 1328.6h.01M1207.7 1323.3h.01M1207.7 1326.8h.01M1212.4 1321.5h.01M1213.7 1326.2h.01M1217.7 1321.9h.01M1218.1 1323.2h.01M1218.2 1329h.01M1223.1 1325.5h.01M1221.5 1328.3h.01M1220.8 1331.4h.01M1227 1327.4h.01M1228.1 1329.1h.01M1228.1 1332.3h.01M990.3 1323h.01M990.1 1323.5h.01M997.3 1322.9h.01M995.3 1323.1h.01M1002.6 1326h.01M1001.2 1326.1h.01M1007.2 1327.3h.01M1007 1327.9h.01M1010.9 1327.7h.01M1011.3 1328h.01M1016.2 1327.6h.01M1014.7 1328h.01M1209 1323.9h.01M1208.5 1328.1h.01M1214.9 1321.8h.01M1214.4 1324.5h.01M1221.3 1322.6h.01M1221 1328.4h.01M1225.5 1324.5h.01M1224.1 1332.8h.01M1229.4 1328.9h.01M1231 1329.8h.01M1230.9 1335h.01M1234.2 1325h.01M1234.8 1330.5h.01M1239.8 1322h.01M1239.4 1324.3h.01M1244.3 1321.3h.01M1245.5 1324.8h.01M1249.4 1318.2h.01M1248.6 1322.5h.01M1256.3 1318.3h.01M1254.9 1322.3h.01M1259.7 1318.3h.01M1260.9 1323.2h.01M1264.5 1320.9h.01M1264.9 1328.5h.01M1270.3 1316.8h.01M1270.3 1323.6h.01M1269.1 1324.7h.01M1275.7 1306.2h.01M1275.5 1312.4h.01M1274.6 1313.5h.01M1276.2 1319.1h.01M1279.5 1306.3h.01M1280.1 1310h.01M1279.5 1312h.01M1279.3 1316.4h.01M1286.4 1306.2h.01M1284.4 1309.8h.01M1285.5 1316.9h.01M1291.2 1315.8h.01M1290.5 1317.5h.01M1294.5 1321.4h.01M1295.1 1322.8h.01M1298.8 1316.6h.01M1298.8 1318.1h.01M1304.9 1315h.01M1305.1 1316.7h.01M1309.9 1316.2h.01M1309.2 1318.9h.01M1314.2 1316.2h.01M1314.8 1318.7h.01M1318.9 1317.2h.01M1318.7 1320.4h.01M1325.7 1321.5h.01M1324.1 1322.5h.01M1329 1318.3h.01M1329.8 1324.6h.01M1334.7 1315.9h.01M1334.1 1321.8h.01M1340.8 1318.8h.01M1341.2 1326.5h.01M1344.9 1321.6h.01M1345.8 1327.1h.01M1345.8 1328.4h.01M1350.2 1322.9h.01M1350.5 1329.1h.01M1348.7 1331.2h.01M1354.6 1326.9h.01M1353.9 1332.2h.01M1354.8 1335.9h.01M1358.6 1325.7h.01M1361.2 1331.1h.01M1359.4 1333.5h.01M1360.2 1339h.01M1365.7 1321.3h.01M1364.9 1323.1h.01M1365 1330.4h.01M1365.1 1333.5h.01M1371.4 1319.3h.01M1369.4 1320.5h.01M1370.3 1324.6h.01M1369.3 1330.3h.01M1373.6 1318.7h.01M1376.4 1321.5h.01M1374.6 1327.4h.01M1380.4 1319h.01M1378.9 1322.8h.01M1380.8 1326.7h.01M1384.1 1320.5h.01M1384.8 1322.4h.01M1384.2 1328.8h.01M1390.9 1319h.01M1388.6 1322.8h.01M1390.6 1327.5h.01M1394.3 1323.5h.01M1393.8 1326h.01M1400.4 1320h.01M1400.8 1324.1h.01M1406.3 1321.5h.01M1405.1 1326.2h.01M1410.9 1323h.01M1409.1 1327.2h.01M1414.5 1323.8h.01M1415.1 1325.3h.01M1419.5 1324.4h.01M1420.4 1328h.01M1425.8 1321.1h.01M1424 1327.1h.01M1428.6 1321.4h.01M1430.1 1328.2h.01M1434.2 1322.2h.01M1434.1 1324.2h.01M1435.2 1329.5h.01M1440.8 1322.1h.01M1439.5 1323.7h.01M1439.3 1329.2h.01M1446.4 1320h.01M1444 1323.1h.01M1444.5 1328.7h.01M1449.2 1321h.01M1449.2 1324.3h.01M1450.5 1329h.01M1454.4 1321.6h.01M1456.4 1326.4h.01M1454.7 1329.8h.01M1461.3 1321.1h.01M1458.7 1324h.01M1461.5 1329.2h.01M1464.2 1318.9h.01M1466.4 1322.1h.01M1465.3 1327.7h.01M1464.5 1330.6h.01M1468.6 1317h.01M1469.7 1320.2h.01M1469.2 1326.8h.01M1470.8 1331.4h.01M1475.9 1316.3h.01M1475.6 1321.4h.01M1475 1324.2h.01M1473.9 1329.3h.01M1480.9 1320.4h.01M1480.2 1327h.01M1481.4 1330.6h.01M1483.9 1325.1h.01M1485.7 1328.7h.01M1486.2 1329.6h.01M1490.6 1323.4h.01M1491.2 1326.5h.01M1489.6 1331h.01M1496.4 1320.2h.01M1494.9 1322.8h.01M1494.6 1328.5h.01M1499.5 1325.1h.01M1498.8 1328.7h.01M949.6 1083.5h.01M949.6 1106.8h.01M1017 1106.8h.01M1084.6 1119.5h.01M1152.7 1123h.01M1220.8 1127.4h.01M1236.5 1297.7h.01M1310.4 1296.5h.01M1220.4 1127.6h.01M1287.8 1117.2h.01M1354.9 1119.5h.01M1423.5 1119.5h.01M1490.8 1120h.01"/>
<path stroke="#0096dc" d="M886.2 1118.8h.01M886.2 1129.2h.01M888.5 1159.2h.01M893.1 1168.5h.01M895.4 1180h.01M894.2 1185.8h.01M897.6 1234.4h.01M897.4 1236.7h.01M902.4 1238.4h.01M903.8 1243.9h.01M903.8 1247.2h.01M903 1252h.01M901.3 1253.2h.01M902.5 1259.1h.01M907.8 1248.3h.01M906.8 1256h.01M908.8 1256.4h.01M907.9 1260.4h.01M907.7 1268.6h.01M913.8 1261.4h.01M913.9 1268.6h.01M912.6 1271.3h.01M913.2 1276.1h.01M914 1278.2h.01M916.8 1272.5h.01M916.3 1277h.01M919.1 1282.3h.01M918.4 1286.2h.01M921.7 1280.9h.01M921.2 1284h.01M923.8 1287h.01M922.6 1292.4h.01M922 1295.6h.01M928.3 1287.4h.01M928.8 1292.8h.01M928.5 1294.2h.01M927.1 1299.2h.01M926.9 1301.8h.01M926.2 1308.2h.01M932 1293.1h.01M933.4 1296.2h.01M931.3 1299.7h.01M932.7 1306.7h.01M931.9 1308.3h.01M934.1 1314.1h.01M931.9 1317.2h.01M937.4 1297.3h.01M938.8 1300.8h.01M936.4 1303.3h.01M936.6 1310.5h.01M936.4 1315.7h.01M936.9 1318.7h.01M937.3 1323.3h.01M942.1 1305.2h.01M941.8 1311.4h.01M943.6 1316.2h.01M942.3 1316.8h.01M943.9 1320.9h.01M943.9 1327.6h.01M947.4 1313.2h.01M948.7 1318.8h.01M947.5 1321.2h.01M948 1328.8h.01M947.2 1332.9h.01M952.3 1318.4h.01M953 1323.3h.01M951.7 1329.5h.01M953.7 1330.9h.01M951.6 1337h.01M957.9 1319.3h.01M957.7 1324.9h.01M956.4 1331.5h.01M959.2 1333.7h.01M956.7 1337.9h.01M962.5 1322.5h.01M963.9 1326.2h.01M963.8 1328.1h.01M963.7 1335h.01M961.9 1336.6h.01M963.5 1341.1h.01M968.1 1320.3h.01M967.5 1324.6h.01M968.3 1332.7h.01M969 1337h.01M968.3 1340.5h.01M967.4 1343.9h.01M973.2 1327.2h.01M973.3 1332.6h.01M973.1 1335.1h.01M972.5 1340.4h.01M974 1346h.01M974 1348.3h.01M976.5 1334.9h.01M976.6 1338.9h.01M976.4 1345.1h.01M977.5 1347.8h.01M976.5 1351.5h.01M983.9 1339.8h.01M984.1 1342h.01M983.8 1347.7h.01M983 1351h.01M983.2 1357.5h.01M986.8 1339.5h.01M988.5 1344.9h.01M988.3 1348.1h.01M986.7 1352.2h.01M989.1 1355.8h.01M988.7 1358.4h.01M992.3 1342.5h.01M993.8 1348h.01M993.3 1352.3h.01M992.2 1353.4h.01M991.3 1360.2h.01M993.4 1364.3h.01M998.1 1344.2h.01M997.8 1348.8h.01M996.4 1352.6h.01M996.3 1355.7h.01M998.4 1362.5h.01M1003.1 1344.5h.01M1002.1 1350.5h.01M1003.1 1354.7h.01M1003.1 1356.7h.01M1008.4 1345.9h.01M1008.1 1350h.01M1006.2 1353.1h.01M1013 1350.3h.01M1013.7 1351.9h.01M1016.4 1351.1h.01M1018.2 1352.6h.01M1023.6 1351.8h.01M1023 1356h.01M1026.4 1353.2h.01M1029 1358.6h.01M1033.6 1355.5h.01M1032.2 1361.2h.01M1036.7 1355.8h.01M1038.5 1361.3h.01M1043.3 1359h.01M1041.3 1364.2h.01M1043.8 1368.3h.01M1046.7 1362h.01M1048.8 1363.7h.01M1048.5 1368.2h.01M1052.3 1361.2h.01M1051.6 1364h.01M1052.5 1366.6h.01M1051.4 1370.8h.01M1059 1360.4h.01M1058.7 1364.1h.01M1057.6 1365.2h.01M1056.4 1372.1h.01M1063.4 1357.3h.01M1064.2 1363.9h.01M1064.1 1368.2h.01M1064.1 1369.7h.01M1068.7 1357.5h.01M1069.1 1360.3h.01M1067.2 1368.8h.01M1073.6 1360.2h.01M1073.2 1363h.01M1074.2 1367.9h.01M1076.5 1365.2h.01M1076.3 1368.6h.01M1084.2 1367.5h.01M1083 1369.8h.01M1087.5 1369.9h.01M1086.8 1372.2h.01M1093 1372h.01M1092.7 1374.6h.01M1098.1 1372.1h.01M1098.4 1377.5h.01M1101.8 1372.9h.01M1102.3 1377.6h.01M1109.1 1372.9h.01M1108.2 1377.9h.01M1112.6 1372.3h.01M1112.1 1376.2h.01M1118.3 1374.4h.01M1119 1377.4h.01M1123.7 1374.1h.01M1123.4 1375.6h.01M1129 1374h.01M1128.9 1375.2h.01M1133 1372.9h.01M1134.2 1379.5h.01M1137.3 1373.1h.01M1136.9 1378.1h.01M1143.8 1373.1h.01M1141.7 1380.8h.01M1148.1 1374h.01M1147.1 1381.6h.01M1152.1 1378.2h.01M1151.7 1381.5h.01M1152.7 1383.7h.01M1156.4 1376.5h.01M1156.7 1381.1h.01M1157.5 1384.7h.01M1161.4 1376.8h.01M1162.3 1382.1h.01M1162 1385.6h.01M1167.1 1376.7h.01M1166.7 1381.6h.01M1167.4 1384.3h.01M1166.7 1389.5h.01M1174.1 1376.6h.01M1171.2 1380.3h.01M1173.9 1385.7h.01M1173.5 1392.1h.01M1178.7 1378.2h.01M1179 1381.5h.01M1176.5 1384h.01M1176.5 1390.3h.01M1182.3 1376.3h.01M1181.6 1379h.01M1182.1 1384.2h.01M1182.3 1386.3h.01M1187.5 1376.6h.01M1187.1 1380.6h.01M1186.7 1383.1h.01M1186.8 1386.1h.01M1194.1 1377h.01M1191.3 1382.6h.01M1193.7 1389h.01M1198.5 1382.8h.01M1197 1386.7h.01M1198 1387.6h.01M1202.6 1387.1h.01M1204.1 1388.5h.01M1206.6 1386.4h.01M1208.4 1392.3h.01M1211.6 1384.6h.01M1213.2 1387.8h.01M1211.8 1388.8h.01M1219.1 1381.5h.01M1217.8 1385.5h.01M1218.3 1389.7h.01M1224.2 1382.8h.01M1221.8 1387.2h.01M1221.3 1388.9h.01M1226.3 1382.9h.01M1227.2 1384.6h.01M1227.6 1388.1h.01M1226.3 1392.8h.01M1208.8 1385.5h.01M1210.8 1388.9h.01M1214 1386.7h.01M1215.4 1390.4h.01M1221.3 1383.6h.01M1218.7 1387.3h.01M1221 1389.5h.01M1224.6 1384h.01M1225.3 1388.2h.01M1224 1390.7h.01M1231.5 1388.5h.01M1230.1 1392.1h.01M1230.3 1395.9h.01M1235.3 1387.8h.01M1233.7 1393.6h.01M1234.2 1396h.01M1240 1387.9h.01M1238.9 1390.5h.01M1239.3 1394.7h.01M1239.2 1397.8h.01M1244.3 1380.9h.01M1245.1 1384.1h.01M1244.7 1387.7h.01M1244 1390.9h.01M1249.2 1376.3h.01M1248.9 1383.3h.01M1250.2 1384.3h.01M1251.1 1389.2h.01M1253.8 1380.2h.01M1255.8 1382.1h.01M1253.8 1386.9h.01M1258.9 1380.4h.01M1260.6 1380.9h.01M1265.4 1377.3h.01M1264.5 1382.3h.01M1270.4 1381.9h.01M1270.6 1383.5h.01M1276.5 1382.8h.01M1274.3 1390.1h.01M1279 1384.3h.01M1280.1 1391.4h.01M1283.8 1384.6h.01M1285 1386.5h.01M1285.4 1390.4h.01M1290.5 1385.5h.01M1289.6 1386.8h.01M1291.2 1392.2h.01M1296 1384.2h.01M1295.6 1385.8h.01M1294.5 1392.1h.01M1300.4 1383.5h.01M1298.8 1385.5h.01M1299.8 1389.7h.01M1303.9 1386.5h.01M1303.8 1387.8h.01M1305.6 1394h.01M1311.2 1390.8h.01M1310.6 1392.6h.01M1310.1 1396.2h.01M1313.9 1391.7h.01M1314.4 1393.2h.01M1321 1387.6h.01M1319.9 1389.8h.01M1326 1387.9h.01M1326.4 1389.9h.01M1331 1387h.01M1329.6 1391h.01M1335.8 1387.9h.01M1336.5 1390.9h.01M1339.7 1384.8h.01M1338.8 1390.9h.01M1346.3 1386.2h.01M1345.8 1392.2h.01M1349.5 1387h.01M1348.8 1389.8h.01M1355.5 1391.3h.01M1354.1 1394.1h.01M1359.5 1393.1h.01M1361 1395.4h.01M1364.7 1396h.01M1364.6 1396.3h.01M1371.2 1395.1h.01M1370.1 1400.3h.01M1373.8 1397.5h.01M1374.4 1399.6h.01M1379.3 1398.5h.01M1379.3 1399.2h.01M1384.7 1396.1h.01M1383.9 1399.6h.01M1390.6 1397.3h.01M1390.7 1398.3h.01M1393.9 1398.9h.01M1394.6 1403.5h.01M1400.5 1399.6h.01M1401.2 1401.7h.01M1404 1397.2h.01M1403.8 1401h.01M1410.2 1398.1h.01M1409.3 1401.8h.01M1415.1 1395h.01M1414.9 1400.1h.01M1418.5 1395.1h.01M1421.4 1398.2h.01M1426.4 1395.6h.01M1425 1397.1h.01M1430.1 1397.1h.01M1430.1 1399.4h.01M1435 1396.1h.01M1435.9 1401h.01M1438.5 1396.2h.01M1440.9 1401.5h.01M1444.1 1397.4h.01M1445.6 1404.3h.01M1449.3 1400h.01M1449.2 1405.8h.01M1454.5 1399.7h.01M1455.3 1403.4h.01M1459.4 1397.1h.01M1459.5 1399.3h.01M1465.3 1396.6h.01M1463.7 1400h.01M1471 1397.2h.01M1468.6 1400.1h.01M1474.9 1397h.01M1475.8 1398.8h.01M1478.9 1399.2h.01M1480.6 1399.4h.01M1485.2 1399.4h.01M1486.1 1402.2h.01M1491.1 1397.7h.01M1489.2 1399.8h.01M1493.6 1395.2h.01M1493.6 1399.8h.01M1498.6 1393.4h.01M1499.4 1395.1h.01M1500.9 1398.2h.01M1506.3 1392.2h.01M1505.4 1396.5h.01M1504.7 1401.8h.01M1509.5 1394.4h.01M1510.3 1398.1h.01M1511 1402.1h.01M1513.8 1403.9h.01M1516.1 1406.6h.01M1519.5 1405.5h.01M1519 1411.6h.01M1525.4 1405h.01M1524.4 1407.4h.01M1528.8 1401.6h.01M1531.3 1402.8h.01M1010.8 1377.3h.01M949.6 1140.3h.01M949.6 1154.6h.01M1017 1200.3h.01M1084.6 1196.6h.01M1152.7 1215.8h.01M1220.8 1215.1h.01M1346.2 1407.3h.01M1220.4 1215.1h.01M1287.8 1209.3h.01M1354.9 1229.6h.01M1423.5 1229.6h.01M1490.8 1219.9h.01"/>
</g>
<path d="M961.9 1007.2v6.5M961.9 1452.8v-6.5M1042.5 1007.2v13M1042.5 1452.8v-13M1123.1 1007.2v6.5M1123.1 1452.8v-6.5M1203.7 1007.2v13M1203.7 1452.8v-13M1284.3 1007.2v6.5M1284.3 1452.8v-6.5M1364.9 1007.2v13M1364.9 1452.8v-13M1445.5 1007.2v6.5M1445.5 1452.8v-6.5M1526.1 1007.2v13M1526.1 1452.8v-13M881.3 1096.3h13M1558.3 1096.3h-13M881.3 1185.4h13M1558.3 1185.4h-13M881.3 1274.6h13M1558.3 1274.6h-13M881.3 1363.7h13M1558.3 1363.7h-13M881.3 1051.8h6.5M1558.3 1051.8h-6.5M881.3 1140.9h6.5M1558.3 1140.9h-6.5M881.3 1230h6.5M1558.3 1230h-6.5M881.3 1319.1h6.5M1558.3 1319.1h-6.5M881.3 1408.2h6.5M1558.3 1408.2h-6.5" stroke="#000" stroke-width="4" fill="none"/>
<rect x="881.3" y="1007.2" width="677" height="445.6" fill="none" stroke="#000" stroke-width="4.2"/>
<text transform="translate(881.3,1498.6) scale(1,1.1)" text-anchor="middle">0</text>
<text transform="translate(1042.5,1498.6) scale(1,1.1)" text-anchor="middle">1000</text>
<text transform="translate(1203.7,1498.6) scale(1,1.1)" text-anchor="middle">2000</text>
<text transform="translate(1364.9,1498.6) scale(1,1.1)" text-anchor="middle">3000</text>
<text transform="translate(1526.1,1498.6) scale(1,1.1)" text-anchor="middle">4000</text>
<text transform="translate(901.8,1044.2) scale(1,1.1)" class="b">f</text>
<text transform="translate(487.6,33.8) scale(1,1.06)" text-anchor="middle" class="tt">2VC</text>
<text transform="translate(1219.3,33.8) scale(1,1.06)" text-anchor="middle" class="tt">2VC+1DTD</text>
<text transform="translate(488.6,1550.5) scale(1,1.0)" text-anchor="middle" class="ax">Cycle number</text>
<text transform="translate(1220.6,1550.5) scale(1,1.0)" text-anchor="middle" class="ax">Cycle number</text>
<text transform="translate(41.8,267) rotate(-90) scale(1,1.05)" text-anchor="middle" class="ax">Dis. capacity / mAh</text>
<text transform="translate(29.8,749.5) rotate(-90) scale(1,1.05)" text-anchor="middle" class="ax">Norm. capacity</text>
<text transform="translate(48,1229.5) rotate(-90)" text-anchor="middle" class="dv">ΔV/ΔV<tspan class="sb" dy="12">10</tspan></text>
<rect x="483.5" y="61" width="324.5" height="134" rx="7" fill="#fff" stroke="#000" stroke-width="3"/>
<circle cx="516.3" cy="92.7" r="8.1" fill="#262626"/>
<text transform="translate(565,102) scale(1,0.96)" class="lg">low BET LFP</text>
<circle cx="516.3" cy="128.3" r="8.1" fill="#e6002d"/>
<text transform="translate(565,138.2) scale(1,0.96)" class="lg">med BET LFP</text>
<circle cx="516.3" cy="163.9" r="8.1" fill="#0096dc"/>
<text transform="translate(565,173.2) scale(1,0.96)" class="lg">hi BET LFP</text>
</svg></body></html>
